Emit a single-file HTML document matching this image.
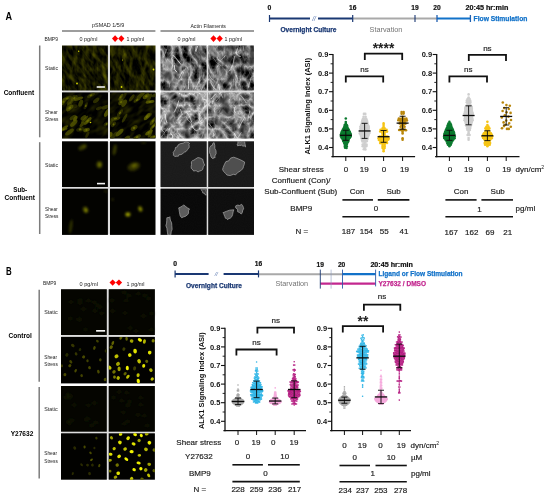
<!DOCTYPE html>
<html lang="en"><head><meta charset="utf-8"><title>Figure</title>
<style>
html,body{margin:0;padding:0;background:#fff;}
svg{display:block;font-family:'Liberation Sans', sans-serif;}
</style></head><body>
<svg width="550" height="498" viewBox="0 0 550 498">
<defs>
<filter id="b03" x="-20%" y="-20%" width="140%" height="140%"><feGaussianBlur stdDeviation="0.3"/></filter>
<filter id="b05" x="-20%" y="-20%" width="140%" height="140%"><feGaussianBlur stdDeviation="0.5"/></filter>
<filter id="b08" x="-20%" y="-20%" width="140%" height="140%"><feGaussianBlur stdDeviation="0.8"/></filter>
<filter id="b15" x="-30%" y="-30%" width="160%" height="160%"><feGaussianBlur stdDeviation="1.5"/></filter>
<filter id="actin" x="0" y="0" width="100%" height="100%" color-interpolation-filters="sRGB">
  <feTurbulence type="turbulence" baseFrequency="0.11 0.075" numOctaves="3" seed="3" result="t"/>
  <feColorMatrix in="t" type="matrix" values="-1.25 0 0 0 0.78  -1.25 0 0 0 0.78  -1.25 0 0 0 0.78  0 0 0 0 1"/><feGaussianBlur stdDeviation="0.35"/>
</filter>
<filter id="actin2" x="0" y="0" width="100%" height="100%" color-interpolation-filters="sRGB">
  <feTurbulence type="turbulence" baseFrequency="0.10 0.085" numOctaves="3" seed="11" result="t"/>
  <feColorMatrix in="t" type="matrix" values="-1.25 0 0 0 0.88  -1.25 0 0 0 0.88  -1.25 0 0 0 0.88  0 0 0 0 1"/><feGaussianBlur stdDeviation="0.35"/>
</filter>
<filter id="gnoise" x="0" y="0" width="100%" height="100%" color-interpolation-filters="sRGB">
  <feTurbulence type="fractalNoise" baseFrequency="0.9" numOctaves="1" seed="5" result="t"/>
  <feColorMatrix in="t" type="matrix" values="0.25 0 0 0 0.0  0.25 0 0 0 0.0  0.25 0 0 0 0.0  0 0 0 0 1"/>
</filter>
<filter id="olive1" x="0" y="0" width="100%" height="100%" color-interpolation-filters="sRGB">
  <feTurbulence type="fractalNoise" baseFrequency="0.08 0.24" numOctaves="3" seed="2" result="t"/>
  <feColorMatrix in="t" type="matrix" values="0.47 0 0 0 -0.19  0.47 0 0 0 -0.188  0 0 0 0 0  0 0 0 0 1"/>
</filter>
<filter id="olive2" x="0" y="0" width="100%" height="100%" color-interpolation-filters="sRGB">
  <feTurbulence type="fractalNoise" baseFrequency="0.09 0.2" numOctaves="2" seed="8" result="t"/>
  <feColorMatrix in="t" type="matrix" values="0.34 0 0 0 -0.14  0.34 0 0 0 -0.138  0 0 0 0 0  0 0 0 0 1"/>
</filter>
</defs>
<rect x="0" y="0" width="550" height="498" fill="#fff"/>
<rect x="62.50" y="46.00" width="92.50" height="91.90" fill="#dedede" />
<rect x="161.00" y="46.00" width="92.50" height="91.90" fill="#dedede" />
<rect x="62.50" y="141.80" width="92.50" height="92.60" fill="#dedede" />
<rect x="161.00" y="141.80" width="92.50" height="92.60" fill="#dedede" />
<rect x="61.50" y="289.70" width="92.90" height="93.20" fill="#dedede" />
<rect x="61.50" y="386.50" width="92.90" height="92.70" fill="#dedede" />
<clipPath id="pa11"><rect x="62.00" y="45.50" width="45.90" height="45.00"/></clipPath>
<g clip-path="url(#pa11)">
<rect x="62.00" y="45.50" width="45.90" height="45.00" fill="#0d0c00" />
<rect x="25.0" y="8.0" width="120" height="120" filter="url(#olive1)" transform="rotate(55 85.0 68.0) translate(-7 -3)"/>
<rect x="25.0" y="8.0" width="120" height="120" filter="url(#olive1)" style="mix-blend-mode:screen" transform="rotate(87 85.0 68.0) translate(4 -7)"/>
</g>
<clipPath id="pa12"><rect x="110.00" y="45.50" width="45.50" height="45.00"/></clipPath>
<g clip-path="url(#pa12)">
<rect x="110.00" y="45.50" width="45.50" height="45.00" fill="#0d0c00" />
<rect x="72.8" y="8.0" width="120" height="120" filter="url(#olive1)" transform="rotate(65 132.8 68.0) translate(0 0)"/>
<rect x="72.8" y="8.0" width="120" height="120" filter="url(#olive1)" style="mix-blend-mode:screen" transform="rotate(97 132.8 68.0) translate(-1 -3)"/>
</g>
<clipPath id="pa21"><rect x="62.00" y="92.50" width="45.90" height="45.90"/></clipPath>
<g clip-path="url(#pa21)">
<rect x="62.00" y="92.50" width="45.90" height="45.90" fill="#0d0c00" />
<rect x="25.0" y="55.5" width="120" height="120" filter="url(#olive2)" transform="rotate(-40 85.0 115.5) translate(7 3)"/>
<g filter="url(#b05)">
<ellipse cx="72.9" cy="117.5" rx="3.8" ry="1.8" fill="#444600" opacity="0.77" transform="rotate(-32 72.9 117.5)"/>
<ellipse cx="83.5" cy="117.8" rx="3.4" ry="1.9" fill="#565800" opacity="0.68" transform="rotate(-38 83.5 117.8)"/>
<ellipse cx="72.6" cy="99.5" rx="5.0" ry="1.7" fill="#444600" opacity="0.57" transform="rotate(-69 72.6 99.5)"/>
<ellipse cx="64.0" cy="128.3" rx="4.8" ry="1.5" fill="#565800" opacity="0.82" transform="rotate(-34 64.0 128.3)"/>
<ellipse cx="80.1" cy="129.3" rx="4.0" ry="2.1" fill="#444600" opacity="0.52" transform="rotate(-17 80.1 129.3)"/>
<ellipse cx="80.1" cy="129.3" rx="1.4" ry="1.1" fill="#787a00" opacity="0.7" transform="rotate(-17 80.1 129.3)"/>
<ellipse cx="73.8" cy="123.3" rx="4.7" ry="2.1" fill="#565800" opacity="0.76" transform="rotate(-45 73.8 123.3)"/>
<ellipse cx="80.7" cy="103.2" rx="3.7" ry="2.1" fill="#3a3c00" opacity="0.95" transform="rotate(-68 80.7 103.2)"/>
<ellipse cx="69.5" cy="132.0" rx="5.1" ry="2.1" fill="#4e5000" opacity="0.78" transform="rotate(-36 69.5 132.0)"/>
<ellipse cx="74.3" cy="98.2" rx="4.1" ry="1.9" fill="#3a3c00" opacity="0.86" transform="rotate(-41 74.3 98.2)"/>
<ellipse cx="74.3" cy="98.2" rx="1.4" ry="0.9" fill="#787a00" opacity="0.7" transform="rotate(-41 74.3 98.2)"/>
<ellipse cx="68.9" cy="106.0" rx="4.7" ry="2.1" fill="#444600" opacity="0.67" transform="rotate(-67 68.9 106.0)"/>
<ellipse cx="87.3" cy="134.8" rx="3.6" ry="1.5" fill="#444600" opacity="0.53" transform="rotate(-68 87.3 134.8)"/>
<ellipse cx="63.4" cy="101.6" rx="3.9" ry="1.8" fill="#444600" opacity="0.94" transform="rotate(-61 63.4 101.6)"/>
<ellipse cx="63.4" cy="101.6" rx="1.4" ry="0.9" fill="#787a00" opacity="0.7" transform="rotate(-61 63.4 101.6)"/>
<ellipse cx="78.5" cy="98.8" rx="4.9" ry="1.6" fill="#565800" opacity="0.79" transform="rotate(-18 78.5 98.8)"/>
<ellipse cx="87.7" cy="121.0" rx="5.1" ry="1.8" fill="#4e5000" opacity="0.92" transform="rotate(-44 87.7 121.0)"/>
<ellipse cx="87.7" cy="121.0" rx="1.8" ry="0.9" fill="#787a00" opacity="0.7" transform="rotate(-44 87.7 121.0)"/>
<ellipse cx="73.9" cy="106.4" rx="3.7" ry="2.0" fill="#3a3c00" opacity="0.51" transform="rotate(-11 73.9 106.4)"/>
<ellipse cx="91.0" cy="95.3" rx="4.4" ry="1.7" fill="#3a3c00" opacity="0.77" transform="rotate(-29 91.0 95.3)"/>
<ellipse cx="91.0" cy="95.3" rx="1.5" ry="0.9" fill="#787a00" opacity="0.7" transform="rotate(-29 91.0 95.3)"/>
<ellipse cx="84.5" cy="119.6" rx="5.1" ry="1.3" fill="#565800" opacity="0.63" transform="rotate(-48 84.5 119.6)"/>
<ellipse cx="70.1" cy="101.0" rx="4.7" ry="2.1" fill="#565800" opacity="0.55" transform="rotate(-54 70.1 101.0)"/>
<ellipse cx="106.6" cy="123.9" rx="3.3" ry="1.8" fill="#3a3c00" opacity="0.61" transform="rotate(-31 106.6 123.9)"/>
<ellipse cx="106.6" cy="123.9" rx="1.2" ry="0.9" fill="#787a00" opacity="0.7" transform="rotate(-31 106.6 123.9)"/>
<ellipse cx="82.0" cy="124.5" rx="3.2" ry="1.6" fill="#4e5000" opacity="0.70" transform="rotate(-50 82.0 124.5)"/>
<ellipse cx="69.8" cy="108.0" rx="4.4" ry="2.1" fill="#4e5000" opacity="0.85" transform="rotate(-43 69.8 108.0)"/>
<ellipse cx="69.8" cy="108.0" rx="1.6" ry="1.0" fill="#787a00" opacity="0.7" transform="rotate(-43 69.8 108.0)"/>
<ellipse cx="106.0" cy="107.0" rx="4.8" ry="1.8" fill="#3a3c00" opacity="0.86" transform="rotate(-18 106.0 107.0)"/>
<ellipse cx="99.0" cy="108.3" rx="3.3" ry="1.6" fill="#3a3c00" opacity="0.71" transform="rotate(-22 99.0 108.3)"/>
<ellipse cx="75.3" cy="118.6" rx="3.1" ry="1.7" fill="#565800" opacity="0.92" transform="rotate(-58 75.3 118.6)"/>
<ellipse cx="107.3" cy="112.4" rx="5.1" ry="2.1" fill="#565800" opacity="0.88" transform="rotate(-57 107.3 112.4)"/>
<ellipse cx="85.8" cy="105.8" rx="3.8" ry="1.5" fill="#3a3c00" opacity="0.55" transform="rotate(-66 85.8 105.8)"/>
<ellipse cx="85.8" cy="105.8" rx="1.3" ry="0.8" fill="#787a00" opacity="0.7" transform="rotate(-66 85.8 105.8)"/>
<ellipse cx="63.6" cy="129.4" rx="4.1" ry="1.5" fill="#565800" opacity="0.76" transform="rotate(-17 63.6 129.4)"/>
<ellipse cx="63.6" cy="129.4" rx="1.4" ry="0.7" fill="#787a00" opacity="0.7" transform="rotate(-17 63.6 129.4)"/>
<ellipse cx="96.2" cy="100.4" rx="3.7" ry="1.9" fill="#565800" opacity="0.52" transform="rotate(-39 96.2 100.4)"/>
<ellipse cx="67.2" cy="98.3" rx="5.1" ry="1.8" fill="#444600" opacity="0.66" transform="rotate(-21 67.2 98.3)"/>
<ellipse cx="67.2" cy="98.3" rx="1.8" ry="0.9" fill="#787a00" opacity="0.7" transform="rotate(-21 67.2 98.3)"/>
<ellipse cx="86.5" cy="130.0" rx="3.4" ry="2.0" fill="#4e5000" opacity="0.87" transform="rotate(-15 86.5 130.0)"/>
<ellipse cx="86.5" cy="130.0" rx="1.2" ry="1.0" fill="#787a00" opacity="0.7" transform="rotate(-15 86.5 130.0)"/>
</g>
</g>
<clipPath id="pa22"><rect x="110.00" y="92.50" width="45.50" height="45.90"/></clipPath>
<g clip-path="url(#pa22)">
<rect x="110.00" y="92.50" width="45.50" height="45.90" fill="#0d0c00" />
<rect x="72.8" y="55.5" width="120" height="120" filter="url(#olive2)" transform="rotate(-35 132.8 115.5) translate(14 6)"/>
<g filter="url(#b05)">
<ellipse cx="120.7" cy="97.2" rx="3.9" ry="1.4" fill="#565800" opacity="0.75" transform="rotate(-61 120.7 97.2)"/>
<ellipse cx="120.7" cy="97.2" rx="1.4" ry="0.7" fill="#787a00" opacity="0.7" transform="rotate(-61 120.7 97.2)"/>
<ellipse cx="155.0" cy="95.2" rx="4.1" ry="1.6" fill="#444600" opacity="0.62" transform="rotate(-18 155.0 95.2)"/>
<ellipse cx="111.2" cy="121.9" rx="3.6" ry="1.5" fill="#3a3c00" opacity="0.78" transform="rotate(-55 111.2 121.9)"/>
<ellipse cx="148.9" cy="132.9" rx="3.2" ry="1.8" fill="#4e5000" opacity="0.58" transform="rotate(-25 148.9 132.9)"/>
<ellipse cx="148.9" cy="132.9" rx="1.1" ry="0.9" fill="#787a00" opacity="0.7" transform="rotate(-25 148.9 132.9)"/>
<ellipse cx="114.1" cy="135.4" rx="4.9" ry="1.8" fill="#3a3c00" opacity="0.76" transform="rotate(-47 114.1 135.4)"/>
<ellipse cx="148.6" cy="115.8" rx="3.9" ry="1.8" fill="#4e5000" opacity="0.60" transform="rotate(-39 148.6 115.8)"/>
<ellipse cx="148.6" cy="115.8" rx="1.4" ry="0.9" fill="#787a00" opacity="0.7" transform="rotate(-39 148.6 115.8)"/>
<ellipse cx="146.3" cy="96.2" rx="4.0" ry="2.2" fill="#565800" opacity="0.82" transform="rotate(-34 146.3 96.2)"/>
<ellipse cx="146.3" cy="96.2" rx="1.4" ry="1.1" fill="#787a00" opacity="0.7" transform="rotate(-34 146.3 96.2)"/>
<ellipse cx="140.7" cy="95.5" rx="5.0" ry="1.9" fill="#4e5000" opacity="0.66" transform="rotate(-39 140.7 95.5)"/>
<ellipse cx="124.6" cy="118.1" rx="5.0" ry="1.4" fill="#4e5000" opacity="0.62" transform="rotate(-61 124.6 118.1)"/>
<ellipse cx="149.2" cy="98.1" rx="5.1" ry="1.6" fill="#3a3c00" opacity="0.81" transform="rotate(-63 149.2 98.1)"/>
<ellipse cx="153.4" cy="126.2" rx="5.1" ry="1.3" fill="#4e5000" opacity="0.85" transform="rotate(-48 153.4 126.2)"/>
<ellipse cx="153.4" cy="126.2" rx="1.8" ry="0.7" fill="#787a00" opacity="0.7" transform="rotate(-48 153.4 126.2)"/>
<ellipse cx="152.9" cy="121.0" rx="4.8" ry="1.6" fill="#565800" opacity="0.63" transform="rotate(-54 152.9 121.0)"/>
<ellipse cx="152.9" cy="121.0" rx="1.7" ry="0.8" fill="#787a00" opacity="0.7" transform="rotate(-54 152.9 121.0)"/>
<ellipse cx="137.2" cy="99.8" rx="4.3" ry="1.6" fill="#3a3c00" opacity="0.85" transform="rotate(-38 137.2 99.8)"/>
<ellipse cx="137.2" cy="99.8" rx="1.5" ry="0.8" fill="#787a00" opacity="0.7" transform="rotate(-38 137.2 99.8)"/>
<ellipse cx="123.2" cy="97.0" rx="5.2" ry="1.7" fill="#444600" opacity="0.53" transform="rotate(-53 123.2 97.0)"/>
<ellipse cx="137.1" cy="137.1" rx="4.3" ry="1.8" fill="#3a3c00" opacity="0.95" transform="rotate(-30 137.1 137.1)"/>
<ellipse cx="137.1" cy="137.1" rx="1.5" ry="0.9" fill="#787a00" opacity="0.7" transform="rotate(-30 137.1 137.1)"/>
<ellipse cx="134.1" cy="128.0" rx="3.9" ry="2.2" fill="#4e5000" opacity="0.70" transform="rotate(-36 134.1 128.0)"/>
<ellipse cx="134.1" cy="128.0" rx="1.4" ry="1.1" fill="#787a00" opacity="0.7" transform="rotate(-36 134.1 128.0)"/>
<ellipse cx="120.0" cy="112.9" rx="4.4" ry="1.7" fill="#4e5000" opacity="0.51" transform="rotate(-52 120.0 112.9)"/>
<ellipse cx="120.0" cy="112.9" rx="1.5" ry="0.8" fill="#787a00" opacity="0.7" transform="rotate(-52 120.0 112.9)"/>
<ellipse cx="121.0" cy="102.1" rx="3.5" ry="2.1" fill="#444600" opacity="0.90" transform="rotate(-56 121.0 102.1)"/>
<ellipse cx="121.0" cy="102.1" rx="1.2" ry="1.0" fill="#787a00" opacity="0.7" transform="rotate(-56 121.0 102.1)"/>
<ellipse cx="115.3" cy="118.6" rx="5.1" ry="1.9" fill="#444600" opacity="0.72" transform="rotate(-13 115.3 118.6)"/>
<ellipse cx="115.3" cy="118.6" rx="1.8" ry="0.9" fill="#787a00" opacity="0.7" transform="rotate(-13 115.3 118.6)"/>
<ellipse cx="119.6" cy="132.6" rx="5.0" ry="2.1" fill="#565800" opacity="0.86" transform="rotate(-45 119.6 132.6)"/>
<ellipse cx="147.1" cy="116.7" rx="4.4" ry="1.9" fill="#565800" opacity="0.93" transform="rotate(-49 147.1 116.7)"/>
<ellipse cx="147.1" cy="116.7" rx="1.6" ry="1.0" fill="#787a00" opacity="0.7" transform="rotate(-49 147.1 116.7)"/>
<ellipse cx="154.2" cy="136.6" rx="4.5" ry="1.3" fill="#4e5000" opacity="0.85" transform="rotate(-11 154.2 136.6)"/>
<ellipse cx="154.2" cy="136.6" rx="1.6" ry="0.7" fill="#787a00" opacity="0.7" transform="rotate(-11 154.2 136.6)"/>
<ellipse cx="149.0" cy="132.4" rx="4.5" ry="1.7" fill="#565800" opacity="0.92" transform="rotate(-37 149.0 132.4)"/>
<ellipse cx="149.0" cy="132.4" rx="1.6" ry="0.9" fill="#787a00" opacity="0.7" transform="rotate(-37 149.0 132.4)"/>
<ellipse cx="110.1" cy="134.8" rx="3.0" ry="2.1" fill="#565800" opacity="0.90" transform="rotate(-58 110.1 134.8)"/>
<ellipse cx="150.0" cy="101.8" rx="4.5" ry="1.6" fill="#565800" opacity="0.91" transform="rotate(-11 150.0 101.8)"/>
<ellipse cx="150.0" cy="101.8" rx="1.6" ry="0.8" fill="#787a00" opacity="0.7" transform="rotate(-11 150.0 101.8)"/>
<ellipse cx="113.6" cy="124.4" rx="3.2" ry="1.8" fill="#4e5000" opacity="0.52" transform="rotate(-50 113.6 124.4)"/>
<ellipse cx="113.6" cy="124.4" rx="1.1" ry="0.9" fill="#787a00" opacity="0.7" transform="rotate(-50 113.6 124.4)"/>
<ellipse cx="150.0" cy="134.0" rx="3.7" ry="1.6" fill="#565800" opacity="0.67" transform="rotate(-61 150.0 134.0)"/>
<ellipse cx="124.2" cy="103.2" rx="4.1" ry="2.2" fill="#444600" opacity="0.91" transform="rotate(-59 124.2 103.2)"/>
<ellipse cx="126.6" cy="138.4" rx="3.9" ry="1.9" fill="#4e5000" opacity="0.79" transform="rotate(-38 126.6 138.4)"/>
<ellipse cx="131.8" cy="97.9" rx="4.2" ry="1.6" fill="#4e5000" opacity="0.65" transform="rotate(-55 131.8 97.9)"/>
</g>
</g>
<circle cx="78.7" cy="51.3" r="0.7" fill="#d6d800" filter="url(#b03)"/>
<circle cx="77.0" cy="83.5" r="0.9" fill="#d6d800" filter="url(#b03)"/>
<circle cx="121.5" cy="87.0" r="0.9" fill="#d6d800" filter="url(#b03)"/>
<circle cx="153.5" cy="69.5" r="0.9" fill="#d6d800" filter="url(#b03)"/>
<circle cx="122.5" cy="60.0" r="0.5" fill="#d6d800" filter="url(#b03)"/>
<circle cx="90.5" cy="122.5" r="0.8" fill="#d6d800" filter="url(#b03)"/>
<clipPath id="aa11"><rect x="160.50" y="45.50" width="46.20" height="45.00"/></clipPath>
<g clip-path="url(#aa11)">
<rect x="160.50" y="45.50" width="46.20" height="45.00" fill="#666" filter="url(#actin)"/>
<g filter="url(#b08)">
<ellipse cx="168.1" cy="76.5" rx="6.2" ry="2.8" fill="#202020" fill-opacity="0.58" stroke="#fff" stroke-opacity="0.33" stroke-width="0.70" transform="rotate(54 168.1 76.5)"/>
<ellipse cx="177.6" cy="71.8" rx="4.2" ry="3.3" fill="#202020" fill-opacity="0.55" stroke="#fff" stroke-opacity="0.60" stroke-width="1.09" transform="rotate(54 177.6 71.8)"/>
<ellipse cx="179.3" cy="65.4" rx="7.3" ry="2.9" fill="#202020" fill-opacity="0.41" stroke="#fff" stroke-opacity="0.51" stroke-width="0.74" transform="rotate(121 179.3 65.4)"/>
<ellipse cx="197.9" cy="46.4" rx="4.6" ry="3.2" fill="#202020" fill-opacity="0.56" stroke="#fff" stroke-opacity="0.54" stroke-width="0.74" transform="rotate(61 197.9 46.4)"/>
<ellipse cx="169.6" cy="75.8" rx="6.8" ry="3.1" fill="#202020" fill-opacity="0.44" stroke="#fff" stroke-opacity="0.42" stroke-width="1.11" transform="rotate(83 169.6 75.8)"/>
<ellipse cx="169.8" cy="87.0" rx="7.1" ry="2.7" fill="#202020" fill-opacity="0.51" stroke="#fff" stroke-opacity="0.42" stroke-width="0.83" transform="rotate(113 169.8 87.0)"/>
<ellipse cx="199.0" cy="52.7" rx="6.5" ry="3.6" fill="#202020" fill-opacity="0.60" stroke="#fff" stroke-opacity="0.36" stroke-width="1.19" transform="rotate(45 199.0 52.7)"/>
<ellipse cx="165.7" cy="75.6" rx="6.2" ry="3.3" fill="#202020" fill-opacity="0.49" stroke="#fff" stroke-opacity="0.31" stroke-width="1.16" transform="rotate(125 165.7 75.6)"/>
<ellipse cx="168.5" cy="64.8" rx="4.6" ry="2.1" fill="#202020" fill-opacity="0.54" stroke="#fff" stroke-opacity="0.60" stroke-width="1.18" transform="rotate(66 168.5 64.8)"/>
<ellipse cx="187.8" cy="85.2" rx="5.7" ry="2.6" fill="#202020" fill-opacity="0.60" stroke="#fff" stroke-opacity="0.40" stroke-width="0.90" transform="rotate(55 187.8 85.2)"/>
<ellipse cx="194.8" cy="48.1" rx="5.0" ry="3.4" fill="#202020" fill-opacity="0.46" stroke="#fff" stroke-opacity="0.27" stroke-width="0.87" transform="rotate(71 194.8 48.1)"/>
</g>
<g filter="url(#b03)" stroke-linecap="round" fill="none">
<path d="M203.4 84.8 Q200.2 91.6 200.7 94.7" stroke="#fff" stroke-width="0.61" opacity="0.78"/>
<path d="M199.4 81.1 Q196.5 85.9 195.1 89.2" stroke="#fff" stroke-width="0.77" opacity="0.52"/>
<path d="M196.5 41.1 Q196.6 45.4 195.5 50.8" stroke="#fff" stroke-width="0.93" opacity="0.66"/>
<path d="M171.5 58.0 Q172.0 64.2 173.3 69.5" stroke="#fff" stroke-width="0.59" opacity="0.69"/>
<path d="M197.7 45.9 Q196.4 49.1 196.0 51.5" stroke="#fff" stroke-width="0.94" opacity="0.68"/>
<path d="M168.0 81.0 Q170.1 82.9 169.7 87.2" stroke="#fff" stroke-width="0.50" opacity="0.61"/>
<path d="M164.2 76.9 Q164.4 78.9 162.6 82.9" stroke="#fff" stroke-width="0.62" opacity="0.47"/>
<path d="M192.9 84.8 Q194.2 89.9 195.2 95.3" stroke="#fff" stroke-width="0.53" opacity="0.67"/>
<path d="M174.3 65.5 Q173.7 70.5 176.7 72.1" stroke="#fff" stroke-width="0.91" opacity="0.84"/>
<path d="M173.0 55.3 Q177.4 59.3 180.8 64.3" stroke="#fff" stroke-width="0.90" opacity="0.84"/>
<path d="M185.8 83.7 Q185.3 86.6 181.9 92.6" stroke="#fff" stroke-width="0.54" opacity="0.41"/>
<path d="M192.3 44.2 Q190.9 47.6 189.8 50.6" stroke="#fff" stroke-width="0.62" opacity="0.57"/>
<path d="M185.4 68.6 Q182.5 74.4 180.6 79.3" stroke="#fff" stroke-width="0.80" opacity="0.50"/>
<path d="M183.6 69.9 Q180.3 75.0 179.0 78.0" stroke="#fff" stroke-width="0.96" opacity="0.57"/>
<path d="M189.4 76.8 Q187.7 83.8 188.4 88.5" stroke="#fff" stroke-width="0.94" opacity="0.72"/>
<path d="M166.2 49.3 Q166.6 51.5 163.2 57.5" stroke="#fff" stroke-width="1.00" opacity="0.47"/>
</g>
</g>
<clipPath id="aa12"><rect x="208.20" y="45.50" width="45.80" height="45.00"/></clipPath>
<g clip-path="url(#aa12)">
<rect x="208.20" y="45.50" width="45.80" height="45.00" fill="#666" filter="url(#actin)"/>
<rect x="208.20" y="45.50" width="45.80" height="45.00" fill="#000" opacity="0.04"/>
<g filter="url(#b08)">
<ellipse cx="252.1" cy="51.8" rx="4.1" ry="3.6" fill="#202020" fill-opacity="0.68" stroke="#fff" stroke-opacity="0.28" stroke-width="0.83" transform="rotate(100 252.1 51.8)"/>
<ellipse cx="210.5" cy="89.4" rx="4.6" ry="2.9" fill="#202020" fill-opacity="0.60" stroke="#fff" stroke-opacity="0.26" stroke-width="0.83" transform="rotate(74 210.5 89.4)"/>
<ellipse cx="227.5" cy="53.6" rx="4.4" ry="2.8" fill="#202020" fill-opacity="0.64" stroke="#fff" stroke-opacity="0.46" stroke-width="0.83" transform="rotate(74 227.5 53.6)"/>
<ellipse cx="252.0" cy="59.6" rx="6.7" ry="3.5" fill="#202020" fill-opacity="0.63" stroke="#fff" stroke-opacity="0.31" stroke-width="0.72" transform="rotate(101 252.0 59.6)"/>
<ellipse cx="232.6" cy="47.0" rx="7.2" ry="2.8" fill="#202020" fill-opacity="0.51" stroke="#fff" stroke-opacity="0.38" stroke-width="0.99" transform="rotate(66 232.6 47.0)"/>
<ellipse cx="221.8" cy="72.3" rx="5.9" ry="2.7" fill="#202020" fill-opacity="0.43" stroke="#fff" stroke-opacity="0.41" stroke-width="0.75" transform="rotate(72 221.8 72.3)"/>
<ellipse cx="244.0" cy="48.1" rx="6.9" ry="2.3" fill="#202020" fill-opacity="0.71" stroke="#fff" stroke-opacity="0.31" stroke-width="0.97" transform="rotate(95 244.0 48.1)"/>
<ellipse cx="224.2" cy="60.3" rx="5.3" ry="2.3" fill="#202020" fill-opacity="0.63" stroke="#fff" stroke-opacity="0.29" stroke-width="0.80" transform="rotate(46 224.2 60.3)"/>
<ellipse cx="213.8" cy="52.1" rx="6.1" ry="2.1" fill="#202020" fill-opacity="0.60" stroke="#fff" stroke-opacity="0.60" stroke-width="1.07" transform="rotate(50 213.8 52.1)"/>
<ellipse cx="229.9" cy="78.2" rx="6.3" ry="2.6" fill="#202020" fill-opacity="0.73" stroke="#fff" stroke-opacity="0.26" stroke-width="0.95" transform="rotate(128 229.9 78.2)"/>
<ellipse cx="237.3" cy="60.8" rx="4.6" ry="3.1" fill="#202020" fill-opacity="0.43" stroke="#fff" stroke-opacity="0.32" stroke-width="1.04" transform="rotate(62 237.3 60.8)"/>
</g>
<g filter="url(#b03)" stroke-linecap="round" fill="none">
<path d="M250.9 66.4 Q254.0 69.2 256.5 72.7" stroke="#fff" stroke-width="0.81" opacity="0.58"/>
<path d="M210.9 82.9 Q212.4 87.5 216.2 89.8" stroke="#fff" stroke-width="0.88" opacity="0.69"/>
<path d="M208.2 73.2 Q209.5 77.4 212.7 79.8" stroke="#fff" stroke-width="0.53" opacity="0.70"/>
<path d="M217.4 81.2 Q213.6 87.4 213.4 89.8" stroke="#fff" stroke-width="0.74" opacity="0.41"/>
<path d="M242.8 41.0 Q243.1 45.9 243.8 50.4" stroke="#fff" stroke-width="0.71" opacity="0.56"/>
<path d="M218.6 84.5 Q218.8 90.5 221.5 93.9" stroke="#fff" stroke-width="0.90" opacity="0.80"/>
<path d="M234.6 56.5 Q233.6 61.7 232.3 67.1" stroke="#fff" stroke-width="0.67" opacity="0.76"/>
<path d="M232.2 65.3 Q232.4 66.5 229.7 70.7" stroke="#fff" stroke-width="0.88" opacity="0.57"/>
<path d="M236.1 52.0 Q236.5 56.1 240.3 56.5" stroke="#fff" stroke-width="0.76" opacity="0.78"/>
<path d="M213.1 57.7 Q215.7 63.3 221.3 65.9" stroke="#fff" stroke-width="0.75" opacity="0.42"/>
<path d="M238.3 44.1 Q238.9 46.7 236.0 52.8" stroke="#fff" stroke-width="0.95" opacity="0.59"/>
<path d="M236.3 75.2 Q238.3 77.2 237.1 82.4" stroke="#fff" stroke-width="0.90" opacity="0.69"/>
<path d="M225.2 55.7 Q224.5 56.6 220.7 60.6" stroke="#fff" stroke-width="0.97" opacity="0.45"/>
<path d="M251.4 77.1 Q249.2 83.2 248.1 88.1" stroke="#fff" stroke-width="0.91" opacity="0.54"/>
<path d="M233.7 79.2 Q233.0 85.0 232.3 90.8" stroke="#fff" stroke-width="0.61" opacity="0.46"/>
<path d="M217.1 57.3 Q217.6 61.0 221.2 61.7" stroke="#fff" stroke-width="0.74" opacity="0.76"/>
</g>
</g>
<clipPath id="aa21"><rect x="160.50" y="92.50" width="46.20" height="45.90"/></clipPath>
<g clip-path="url(#aa21)">
<rect x="160.50" y="92.50" width="46.20" height="45.90" fill="#666" filter="url(#actin2)"/>
<g filter="url(#b08)">
<ellipse cx="203.2" cy="136.0" rx="7.1" ry="2.1" fill="#202020" fill-opacity="0.45" stroke="#fff" stroke-opacity="0.32" stroke-width="0.92" transform="rotate(112 203.2 136.0)"/>
<ellipse cx="170.7" cy="113.4" rx="4.1" ry="2.1" fill="#202020" fill-opacity="0.53" stroke="#fff" stroke-opacity="0.27" stroke-width="1.09" transform="rotate(112 170.7 113.4)"/>
<ellipse cx="187.7" cy="122.7" rx="6.2" ry="3.6" fill="#202020" fill-opacity="0.74" stroke="#fff" stroke-opacity="0.35" stroke-width="1.19" transform="rotate(125 187.7 122.7)"/>
<ellipse cx="187.0" cy="129.9" rx="4.6" ry="2.8" fill="#202020" fill-opacity="0.46" stroke="#fff" stroke-opacity="0.31" stroke-width="0.86" transform="rotate(77 187.0 129.9)"/>
<ellipse cx="198.2" cy="101.5" rx="4.4" ry="2.2" fill="#202020" fill-opacity="0.69" stroke="#fff" stroke-opacity="0.37" stroke-width="0.88" transform="rotate(106 198.2 101.5)"/>
<ellipse cx="173.8" cy="106.5" rx="6.7" ry="2.9" fill="#202020" fill-opacity="0.65" stroke="#fff" stroke-opacity="0.54" stroke-width="0.82" transform="rotate(55 173.8 106.5)"/>
<ellipse cx="185.7" cy="134.7" rx="6.1" ry="3.5" fill="#202020" fill-opacity="0.62" stroke="#fff" stroke-opacity="0.39" stroke-width="0.78" transform="rotate(52 185.7 134.7)"/>
<ellipse cx="170.9" cy="93.1" rx="4.8" ry="3.2" fill="#202020" fill-opacity="0.66" stroke="#fff" stroke-opacity="0.37" stroke-width="1.19" transform="rotate(133 170.9 93.1)"/>
<ellipse cx="177.9" cy="101.4" rx="4.3" ry="2.7" fill="#202020" fill-opacity="0.48" stroke="#fff" stroke-opacity="0.29" stroke-width="0.96" transform="rotate(132 177.9 101.4)"/>
<ellipse cx="168.3" cy="117.5" rx="6.8" ry="2.4" fill="#202020" fill-opacity="0.67" stroke="#fff" stroke-opacity="0.48" stroke-width="0.91" transform="rotate(131 168.3 117.5)"/>
<ellipse cx="168.1" cy="120.8" rx="6.8" ry="2.1" fill="#202020" fill-opacity="0.59" stroke="#fff" stroke-opacity="0.40" stroke-width="0.85" transform="rotate(83 168.1 120.8)"/>
</g>
<g filter="url(#b03)" stroke-linecap="round" fill="none">
<path d="M198.8 118.3 Q199.6 121.2 201.7 122.7" stroke="#fff" stroke-width="0.78" opacity="0.78"/>
<path d="M170.9 133.6 Q173.5 134.6 173.0 138.7" stroke="#fff" stroke-width="0.98" opacity="0.76"/>
<path d="M208.7 102.3 Q205.0 106.2 203.6 107.7" stroke="#fff" stroke-width="0.84" opacity="0.48"/>
<path d="M180.4 109.2 Q181.4 111.8 182.1 114.6" stroke="#fff" stroke-width="0.65" opacity="0.80"/>
<path d="M167.7 128.3 Q164.9 132.3 161.2 137.2" stroke="#fff" stroke-width="0.65" opacity="0.54"/>
<path d="M178.7 100.9 Q178.2 104.8 174.6 111.9" stroke="#fff" stroke-width="0.83" opacity="0.74"/>
<path d="M198.9 113.0 Q201.3 117.2 203.7 121.5" stroke="#fff" stroke-width="0.56" opacity="0.61"/>
<path d="M165.3 114.5 Q165.1 119.5 166.8 122.5" stroke="#fff" stroke-width="0.99" opacity="0.69"/>
<path d="M160.7 126.6 Q161.2 130.8 164.2 132.5" stroke="#fff" stroke-width="0.75" opacity="0.67"/>
<path d="M175.8 133.3 Q179.1 135.9 178.6 142.2" stroke="#fff" stroke-width="0.96" opacity="0.48"/>
<path d="M162.6 117.8 Q161.7 120.3 160.2 123.3" stroke="#fff" stroke-width="0.89" opacity="0.77"/>
<path d="M186.0 116.8 Q187.2 120.8 190.7 122.5" stroke="#fff" stroke-width="0.71" opacity="0.54"/>
<path d="M186.6 112.1 Q190.1 116.0 191.7 121.9" stroke="#fff" stroke-width="0.96" opacity="0.54"/>
<path d="M203.5 132.0 Q202.8 136.2 199.4 143.1" stroke="#fff" stroke-width="0.52" opacity="0.58"/>
<path d="M191.4 123.8 Q192.1 129.1 196.6 130.8" stroke="#fff" stroke-width="0.87" opacity="0.61"/>
<path d="M168.3 131.5 Q167.7 135.5 167.5 139.0" stroke="#fff" stroke-width="0.59" opacity="0.77"/>
</g>
</g>
<clipPath id="aa22"><rect x="208.20" y="92.50" width="45.80" height="45.90"/></clipPath>
<g clip-path="url(#aa22)">
<rect x="208.20" y="92.50" width="45.80" height="45.90" fill="#666" filter="url(#actin2)"/>
<rect x="208.20" y="92.50" width="45.80" height="45.90" fill="#000" opacity="0.1"/>
<g filter="url(#b08)">
<ellipse cx="240.8" cy="131.0" rx="4.6" ry="3.6" fill="#202020" fill-opacity="0.65" stroke="#fff" stroke-opacity="0.60" stroke-width="1.10" transform="rotate(53 240.8 131.0)"/>
<ellipse cx="221.2" cy="134.8" rx="4.0" ry="2.7" fill="#202020" fill-opacity="0.58" stroke="#fff" stroke-opacity="0.59" stroke-width="1.07" transform="rotate(74 221.2 134.8)"/>
<ellipse cx="228.5" cy="106.5" rx="7.3" ry="2.1" fill="#202020" fill-opacity="0.64" stroke="#fff" stroke-opacity="0.59" stroke-width="0.74" transform="rotate(75 228.5 106.5)"/>
<ellipse cx="237.9" cy="122.8" rx="4.1" ry="2.3" fill="#202020" fill-opacity="0.43" stroke="#fff" stroke-opacity="0.48" stroke-width="1.10" transform="rotate(125 237.9 122.8)"/>
<ellipse cx="245.7" cy="138.0" rx="7.0" ry="2.4" fill="#202020" fill-opacity="0.60" stroke="#fff" stroke-opacity="0.52" stroke-width="1.03" transform="rotate(75 245.7 138.0)"/>
<ellipse cx="223.1" cy="101.6" rx="6.1" ry="3.3" fill="#202020" fill-opacity="0.59" stroke="#fff" stroke-opacity="0.33" stroke-width="1.02" transform="rotate(64 223.1 101.6)"/>
<ellipse cx="220.2" cy="122.1" rx="6.3" ry="2.6" fill="#202020" fill-opacity="0.53" stroke="#fff" stroke-opacity="0.36" stroke-width="1.09" transform="rotate(111 220.2 122.1)"/>
<ellipse cx="242.2" cy="130.4" rx="5.2" ry="3.4" fill="#202020" fill-opacity="0.65" stroke="#fff" stroke-opacity="0.40" stroke-width="1.09" transform="rotate(96 242.2 130.4)"/>
<ellipse cx="212.3" cy="96.2" rx="5.1" ry="2.7" fill="#202020" fill-opacity="0.70" stroke="#fff" stroke-opacity="0.54" stroke-width="0.84" transform="rotate(115 212.3 96.2)"/>
<ellipse cx="225.2" cy="99.2" rx="6.6" ry="2.1" fill="#202020" fill-opacity="0.72" stroke="#fff" stroke-opacity="0.26" stroke-width="1.02" transform="rotate(127 225.2 99.2)"/>
<ellipse cx="226.5" cy="110.5" rx="5.0" ry="2.7" fill="#202020" fill-opacity="0.54" stroke="#fff" stroke-opacity="0.26" stroke-width="0.93" transform="rotate(72 226.5 110.5)"/>
</g>
<g filter="url(#b03)" stroke-linecap="round" fill="none">
<path d="M209.1 123.5 Q213.1 126.7 213.5 133.5" stroke="#fff" stroke-width="0.57" opacity="0.77"/>
<path d="M215.7 93.9 Q211.6 98.1 211.1 98.7" stroke="#fff" stroke-width="0.95" opacity="0.76"/>
<path d="M213.4 97.9 Q213.0 100.8 212.5 103.9" stroke="#fff" stroke-width="0.65" opacity="0.71"/>
<path d="M249.7 109.9 Q249.7 114.3 250.8 117.4" stroke="#fff" stroke-width="0.60" opacity="0.47"/>
<path d="M213.6 133.5 Q213.2 137.9 214.8 140.3" stroke="#fff" stroke-width="0.65" opacity="0.74"/>
<path d="M234.2 133.2 Q235.6 136.4 237.9 138.7" stroke="#fff" stroke-width="0.81" opacity="0.76"/>
<path d="M234.3 134.0 Q233.7 139.4 235.8 142.1" stroke="#fff" stroke-width="0.59" opacity="0.77"/>
<path d="M210.7 101.5 Q207.8 106.1 206.8 108.8" stroke="#fff" stroke-width="0.65" opacity="0.61"/>
<path d="M219.8 90.4 Q220.6 94.4 222.5 97.3" stroke="#fff" stroke-width="0.61" opacity="0.77"/>
<path d="M253.3 112.5 Q251.3 116.4 250.4 119.2" stroke="#fff" stroke-width="0.72" opacity="0.65"/>
<path d="M221.9 94.2 Q219.6 96.9 216.3 100.8" stroke="#fff" stroke-width="0.77" opacity="0.43"/>
<path d="M241.2 132.5 Q236.9 138.9 235.6 142.4" stroke="#fff" stroke-width="0.56" opacity="0.77"/>
<path d="M249.7 111.7 Q247.9 117.1 247.8 120.8" stroke="#fff" stroke-width="0.94" opacity="0.53"/>
<path d="M234.2 107.5 Q233.7 111.0 235.2 112.5" stroke="#fff" stroke-width="0.89" opacity="0.83"/>
<path d="M240.7 95.3 Q243.7 98.5 245.9 102.4" stroke="#fff" stroke-width="0.83" opacity="0.55"/>
<path d="M244.5 117.6 Q240.4 124.2 238.9 128.1" stroke="#fff" stroke-width="0.71" opacity="0.84"/>
</g>
</g>
<rect x="62.00" y="141.30" width="45.90" height="45.70" fill="#030300" />
<rect x="110.00" y="141.30" width="45.50" height="45.70" fill="#030300" />
<rect x="62.00" y="188.70" width="45.90" height="46.20" fill="#030300" />
<rect x="110.00" y="188.70" width="45.50" height="46.20" fill="#030300" />
<clipPath id="pasub"><rect x="62.00" y="141.30" width="93.50" height="93.60"/></clipPath>
<g clip-path="url(#pasub)">
<clipPath id="pasub02"><rect x="62.00" y="141.30" width="45.90" height="45.70"/></clipPath>
<clipPath id="pasub03"><rect x="62.00" y="188.70" width="45.90" height="46.20"/></clipPath>
<clipPath id="pasub12"><rect x="110.00" y="141.30" width="45.50" height="45.70"/></clipPath>
<clipPath id="pasub13"><rect x="110.00" y="188.70" width="45.50" height="46.20"/></clipPath>
<g clip-path="url(#pasub02)"><g filter="url(#b08)">
<ellipse cx="82.6" cy="147.3" rx="4.6" ry="2.6" fill="#4c4e00" opacity="0.65" transform="rotate(-30 82.6 147.3)"/>
<ellipse cx="84.0" cy="146.5" rx="2.0" ry="1.2" fill="#606200" opacity="0.58" transform="rotate(-30 84.0 146.5)"/>
<ellipse cx="99.4" cy="164.6" rx="3.0" ry="3.6" fill="#5c5e00" opacity="0.68" transform="rotate(0 99.4 164.6)"/>
<ellipse cx="99.6" cy="164.8" rx="1.3" ry="1.7" fill="#989a00" opacity="0.65" transform="rotate(0 99.6 164.8)"/>
</g></g>
<g clip-path="url(#pasub03)"><g filter="url(#b08)">
<ellipse cx="85.6" cy="209.8" rx="2.6" ry="3.4" fill="#686a00" opacity="0.68" transform="rotate(-25 85.6 209.8)"/>
<ellipse cx="86.0" cy="210.2" rx="1.2" ry="1.6" fill="#a6a800" opacity="0.65" transform="rotate(-25 86.0 210.2)"/>
<ellipse cx="70.8" cy="226.5" rx="1.6" ry="7.0" fill="#444600" opacity="0.65" transform="rotate(8 70.8 226.5)"/>
<ellipse cx="105.6" cy="191.2" rx="1.6" ry="1.2" fill="#343600" opacity="0.58" transform="rotate(0 105.6 191.2)"/>
</g></g>
<g clip-path="url(#pasub12)"><g filter="url(#b08)">
<ellipse cx="114.7" cy="149.8" rx="1.8" ry="5.5" fill="#505200" opacity="0.65" transform="rotate(10 114.7 149.8)"/>
<ellipse cx="133.8" cy="166.5" rx="6.5" ry="4.2" fill="#484a00" opacity="0.65" transform="rotate(-20 133.8 166.5)"/>
<ellipse cx="134.2" cy="165.6" rx="2.8" ry="1.8" fill="#7b7d00" opacity="0.65" transform="rotate(-20 134.2 165.6)"/>
<ellipse cx="143.6" cy="142.8" rx="2.5" ry="1.2" fill="#343600" opacity="0.58" transform="rotate(0 143.6 142.8)"/>
</g></g>
<g clip-path="url(#pasub13)"><g filter="url(#b08)">
<ellipse cx="127.9" cy="214.4" rx="2.8" ry="2.4" fill="#8e9000" opacity="0.72" transform="rotate(0 127.9 214.4)"/>
<ellipse cx="127.9" cy="214.6" rx="1.4" ry="1.2" fill="#c2c400" opacity="0.72" transform="rotate(0 127.9 214.6)"/>
<ellipse cx="140.3" cy="208.9" rx="2.2" ry="3.0" fill="#7a7c00" opacity="0.72" transform="rotate(-20 140.3 208.9)"/>
<ellipse cx="140.5" cy="209.2" rx="1.0" ry="1.5" fill="#aeb000" opacity="0.72" transform="rotate(-20 140.5 209.2)"/>
<ellipse cx="112.7" cy="199.6" rx="1.0" ry="1.0" fill="#5c5e00" opacity="0.65" transform="rotate(0 112.7 199.6)"/>
</g></g>
</g>
<rect x="160.50" y="141.30" width="46.20" height="45.70" fill="#181818" />
<rect x="160.50" y="141.30" width="46.20" height="45.70" fill="#000" filter="url(#gnoise)" opacity="0.10" style="mix-blend-mode:screen"/>
<rect x="208.20" y="141.30" width="45.80" height="45.70" fill="#171717" />
<rect x="208.20" y="141.30" width="45.80" height="45.70" fill="#000" filter="url(#gnoise)" opacity="0.10" style="mix-blend-mode:screen"/>
<rect x="160.50" y="188.70" width="46.20" height="46.20" fill="#060606" />
<rect x="160.50" y="188.70" width="46.20" height="46.20" fill="#000" filter="url(#gnoise)" opacity="0.10" style="mix-blend-mode:screen"/>
<rect x="208.20" y="188.70" width="45.80" height="46.20" fill="#0b0b0b" />
<rect x="208.20" y="188.70" width="45.80" height="46.20" fill="#000" filter="url(#gnoise)" opacity="0.10" style="mix-blend-mode:screen"/>
<clipPath id="c31"><rect x="160.50" y="141.30" width="46.20" height="45.70"/></clipPath>
<clipPath id="c32"><rect x="208.20" y="141.30" width="45.80" height="45.70"/></clipPath>
<clipPath id="c41"><rect x="160.50" y="188.70" width="46.20" height="46.20"/></clipPath>
<clipPath id="c42"><rect x="208.20" y="188.70" width="45.80" height="46.20"/></clipPath>
<g clip-path="url(#c31)"><polygon points="173.2,152.5 174.1,151.2 175.1,149.8 175.5,147.5 177.5,146.8 178.1,144.9 180.5,143.6 183.2,143.2 185.2,141.9 186.8,141.8 187.7,142.0 188.7,143.0 189.6,143.4 188.9,144.2 189.2,146.4 189.4,147.0 188.7,148.0 187.6,149.5 186.0,151.6 184.5,152.1 182.0,154.1 181.0,154.6 178.9,154.7 178.4,156.2 176.0,156.2 174.9,156.6 174.5,155.9 173.6,155.4 173.1,155.1 173.6,154.1" fill="#4e4e4e" stroke="#9a9a9a" stroke-width="0.8" stroke-linejoin="round" filter="url(#b05)"/></g>
<g clip-path="url(#c31)"><polygon points="197.9,157.6 200.1,158.0 201.1,158.5 203.0,159.6 203.0,160.8 203.8,163.3 204.6,165.0 203.2,166.8 203.1,167.8 202.6,169.6 201.5,170.4 199.3,171.2 198.0,172.0 196.8,171.0 195.7,170.7 193.5,171.0 193.1,170.0 191.3,168.4 191.2,166.5 191.5,164.6 191.4,161.9 192.6,160.5 193.9,160.2 195.7,158.9" fill="#484848" stroke="#9a9a9a" stroke-width="0.8" stroke-linejoin="round" filter="url(#b05)"/></g>
<g clip-path="url(#c32)"><polygon points="210.7,145.9 212.4,145.4 212.7,143.5 214.1,142.6 214.8,145.7 214.8,148.4 216.0,150.8 216.1,153.6 214.8,156.0 215.1,157.7 213.5,157.6 213.3,158.6 212.1,158.2 211.1,157.0 210.5,154.4 209.6,152.8 209.7,150.1 209.7,147.8" fill="#545454" stroke="#9a9a9a" stroke-width="0.8" stroke-linejoin="round" filter="url(#b05)"/></g>
<g clip-path="url(#c32)"><polygon points="225.9,161.6 228.8,160.8 230.6,158.1 233.8,157.2 238.0,158.8 240.8,160.0 244.6,162.0 244.2,164.6 243.5,166.2 243.0,168.5 240.0,171.2 237.5,172.6 235.7,174.8 233.3,174.3 230.2,175.6 226.9,175.0 225.7,173.6 223.5,171.3 222.6,169.5 223.2,167.4 224.5,164.2" fill="#505050" stroke="#9a9a9a" stroke-width="0.8" stroke-linejoin="round" filter="url(#b05)"/></g>
<g clip-path="url(#c32)"><polygon points="237.7,141.3 240.7,141.8 242.9,141.2 244.6,141.3 244.9,143.5 245.2,144.7 245.6,146.9 244.1,145.7 242.8,146.3 241.6,144.9 241.0,145.4 239.0,145.3 237.7,145.9 237.1,144.1 238.1,143.4" fill="#585858" stroke="#9a9a9a" stroke-width="0.8" stroke-linejoin="round" filter="url(#b05)"/></g>
<g clip-path="url(#c41)"><polygon points="178.7,207.9 180.1,207.3 182.3,206.2 183.6,204.9 185.8,206.6 187.3,207.8 189.5,208.9 188.5,210.8 188.6,213.1 187.5,214.8 185.3,216.4 183.8,216.8 181.6,217.7 180.3,216.1 179.9,214.7 179.6,212.8 179.3,211.6 179.2,210.0" fill="#5c5c5c" stroke="#9a9a9a" stroke-width="0.8" stroke-linejoin="round" filter="url(#b05)"/></g>
<g clip-path="url(#c41)"><polygon points="166.9,217.7 167.6,217.6 169.1,217.5 169.8,216.7 170.3,220.1 171.6,222.8 171.8,225.6 172.1,229.3 171.2,231.8 170.8,234.9 169.3,235.4 169.4,234.9 167.8,234.9 167.4,232.1 166.9,228.3 165.9,225.6 166.6,223.1 166.8,220.3" fill="#505050" stroke="#9a9a9a" stroke-width="0.8" stroke-linejoin="round" filter="url(#b05)"/></g>
<g clip-path="url(#c41)"><polygon points="201.3,188.7 203.3,189.1 205.1,189.0 206.7,188.7 206.0,190.3 206.6,193.1 206.7,195.1 205.1,194.7 204.4,193.1 202.9,193.1 202.3,191.3 201.2,189.7" fill="#3c3c3c" stroke="#9a9a9a" stroke-width="0.8" stroke-linejoin="round" filter="url(#b05)"/></g>
<g clip-path="url(#c42)"><polygon points="222.9,212.8 226.2,211.4 229.7,210.2 233.8,209.8 233.1,211.9 232.6,214.5 231.8,216.7 230.1,218.3 228.5,218.5 227.9,219.7 226.6,218.6 225.4,218.2 224.9,216.7 224.1,214.8 223.7,213.6" fill="#565656" stroke="#9a9a9a" stroke-width="0.8" stroke-linejoin="round" filter="url(#b05)"/></g>
<g clip-path="url(#c42)"><polygon points="235.7,205.9 237.7,205.1 239.7,205.5 241.6,204.3 242.7,205.7 243.4,207.5 243.6,208.9 242.8,210.0 242.4,212.2 241.6,213.8 241.0,213.8 239.2,212.3 237.7,211.8 237.6,209.2 235.8,208.0" fill="#545454" stroke="#9a9a9a" stroke-width="0.8" stroke-linejoin="round" filter="url(#b05)"/></g>
<rect x="61.00" y="289.20" width="45.80" height="45.80" fill="#050500" />
<rect x="108.70" y="289.20" width="46.20" height="45.80" fill="#050500" />
<rect x="61.00" y="336.90" width="45.80" height="46.50" fill="#020200" />
<rect x="108.70" y="336.90" width="46.20" height="46.50" fill="#020200" />
<rect x="61.00" y="386.00" width="45.80" height="45.70" fill="#050500" />
<rect x="108.70" y="386.00" width="46.20" height="45.70" fill="#050500" />
<rect x="61.00" y="433.30" width="45.80" height="46.40" fill="#020200" />
<rect x="108.70" y="433.30" width="46.20" height="46.40" fill="#020200" />
<g filter="url(#b15)">
<ellipse cx="80.1" cy="300.2" rx="2.2" ry="1.8" fill="#131500" opacity="0.8"/>
<ellipse cx="71.1" cy="302.1" rx="2.2" ry="1.8" fill="#131500" opacity="0.8"/>
<ellipse cx="94.2" cy="302.2" rx="2.2" ry="1.8" fill="#131500" opacity="0.8"/>
<ellipse cx="79.2" cy="319.4" rx="2.2" ry="1.8" fill="#131500" opacity="0.8"/>
<ellipse cx="85.4" cy="329.5" rx="2.2" ry="1.8" fill="#131500" opacity="0.8"/>
<ellipse cx="83.5" cy="309.0" rx="2.2" ry="1.8" fill="#131500" opacity="0.8"/>
<ellipse cx="88.4" cy="300.8" rx="2.2" ry="1.8" fill="#131500" opacity="0.8"/>
<ellipse cx="99.9" cy="307.1" rx="2.2" ry="1.8" fill="#131500" opacity="0.8"/>
<ellipse cx="79.4" cy="319.4" rx="2.2" ry="1.8" fill="#131500" opacity="0.8"/>
<ellipse cx="70.1" cy="318.5" rx="2.2" ry="1.8" fill="#131500" opacity="0.8"/>
<ellipse cx="97.8" cy="305.7" rx="2.2" ry="1.8" fill="#131500" opacity="0.8"/>
<ellipse cx="101.7" cy="313.2" rx="2.2" ry="1.8" fill="#131500" opacity="0.8"/>
<ellipse cx="94.8" cy="310.9" rx="2.2" ry="1.8" fill="#131500" opacity="0.8"/>
<ellipse cx="80.0" cy="302.9" rx="2.2" ry="1.8" fill="#131500" opacity="0.8"/>
<ellipse cx="112.0" cy="300.3" rx="2.2" ry="1.8" fill="#131500" opacity="0.8"/>
<ellipse cx="151.5" cy="313.5" rx="2.2" ry="1.8" fill="#131500" opacity="0.8"/>
<ellipse cx="130.3" cy="328.0" rx="2.2" ry="1.8" fill="#131500" opacity="0.8"/>
<ellipse cx="136.0" cy="331.1" rx="2.2" ry="1.8" fill="#131500" opacity="0.8"/>
<ellipse cx="126.1" cy="300.8" rx="2.2" ry="1.8" fill="#131500" opacity="0.8"/>
<ellipse cx="148.7" cy="298.6" rx="2.2" ry="1.8" fill="#131500" opacity="0.8"/>
<ellipse cx="143.5" cy="315.9" rx="2.2" ry="1.8" fill="#131500" opacity="0.8"/>
<ellipse cx="151.2" cy="329.8" rx="2.2" ry="1.8" fill="#131500" opacity="0.8"/>
<ellipse cx="138.2" cy="293.7" rx="2.2" ry="1.8" fill="#131500" opacity="0.8"/>
<ellipse cx="112.6" cy="311.1" rx="2.2" ry="1.8" fill="#131500" opacity="0.8"/>
<ellipse cx="144.7" cy="295.4" rx="2.2" ry="1.8" fill="#131500" opacity="0.8"/>
<ellipse cx="128.8" cy="295.6" rx="2.2" ry="1.8" fill="#131500" opacity="0.8"/>
<ellipse cx="124.2" cy="292.4" rx="2.2" ry="1.8" fill="#131500" opacity="0.8"/>
<ellipse cx="125.0" cy="313.0" rx="2.2" ry="1.8" fill="#131500" opacity="0.8"/>
<ellipse cx="72.0" cy="420.3" rx="2.2" ry="1.8" fill="#131500" opacity="0.8"/>
<ellipse cx="66.2" cy="397.4" rx="2.2" ry="1.8" fill="#131500" opacity="0.8"/>
<ellipse cx="74.3" cy="405.0" rx="2.2" ry="1.8" fill="#131500" opacity="0.8"/>
<ellipse cx="94.4" cy="403.0" rx="2.2" ry="1.8" fill="#131500" opacity="0.8"/>
<ellipse cx="91.7" cy="425.6" rx="2.2" ry="1.8" fill="#131500" opacity="0.8"/>
<ellipse cx="69.2" cy="423.3" rx="2.2" ry="1.8" fill="#131500" opacity="0.8"/>
<ellipse cx="87.9" cy="418.7" rx="2.2" ry="1.8" fill="#131500" opacity="0.8"/>
<ellipse cx="88.2" cy="405.2" rx="2.2" ry="1.8" fill="#131500" opacity="0.8"/>
<ellipse cx="67.8" cy="394.7" rx="2.2" ry="1.8" fill="#131500" opacity="0.8"/>
<ellipse cx="70.9" cy="396.1" rx="2.2" ry="1.8" fill="#131500" opacity="0.8"/>
<ellipse cx="69.8" cy="397.2" rx="2.2" ry="1.8" fill="#131500" opacity="0.8"/>
<ellipse cx="86.3" cy="419.6" rx="2.2" ry="1.8" fill="#131500" opacity="0.8"/>
<ellipse cx="95.8" cy="422.6" rx="2.2" ry="1.8" fill="#131500" opacity="0.8"/>
<ellipse cx="68.7" cy="421.6" rx="2.2" ry="1.8" fill="#131500" opacity="0.8"/>
<ellipse cx="119.2" cy="391.9" rx="2.2" ry="1.8" fill="#131500" opacity="0.8"/>
<ellipse cx="123.3" cy="412.3" rx="2.2" ry="1.8" fill="#131500" opacity="0.8"/>
<ellipse cx="113.6" cy="397.6" rx="2.2" ry="1.8" fill="#131500" opacity="0.8"/>
<ellipse cx="127.7" cy="421.6" rx="2.2" ry="1.8" fill="#131500" opacity="0.8"/>
<ellipse cx="127.8" cy="405.4" rx="2.2" ry="1.8" fill="#131500" opacity="0.8"/>
<ellipse cx="126.6" cy="392.7" rx="2.2" ry="1.8" fill="#131500" opacity="0.8"/>
<ellipse cx="147.1" cy="425.6" rx="2.2" ry="1.8" fill="#131500" opacity="0.8"/>
<ellipse cx="140.7" cy="404.8" rx="2.2" ry="1.8" fill="#131500" opacity="0.8"/>
<ellipse cx="129.5" cy="401.4" rx="2.2" ry="1.8" fill="#131500" opacity="0.8"/>
<ellipse cx="138.0" cy="414.9" rx="2.2" ry="1.8" fill="#131500" opacity="0.8"/>
<ellipse cx="124.2" cy="423.7" rx="2.2" ry="1.8" fill="#131500" opacity="0.8"/>
<ellipse cx="140.7" cy="397.7" rx="2.2" ry="1.8" fill="#131500" opacity="0.8"/>
<ellipse cx="144.2" cy="415.8" rx="2.2" ry="1.8" fill="#131500" opacity="0.8"/>
<ellipse cx="121.7" cy="400.8" rx="2.2" ry="1.8" fill="#131500" opacity="0.8"/>
</g>
<clipPath id="nb22"><rect x="108.70" y="336.90" width="46.20" height="46.50"/></clipPath>
<g clip-path="url(#nb22)">
<g filter="url(#b05)">
<ellipse cx="120.9" cy="337.8" rx="1.28" ry="2.09" fill="#606200" transform="rotate(32 120.9 337.8)"/>
<ellipse cx="126.6" cy="338.8" rx="1.27" ry="2.04" fill="#606200" transform="rotate(-3 126.6 338.8)"/>
<ellipse cx="131.6" cy="341.0" rx="1.74" ry="1.84" fill="#a0a200" transform="rotate(-57 131.6 341.0)"/>
<ellipse cx="139.9" cy="339.8" rx="1.57" ry="2.27" fill="#f2f400" transform="rotate(-60 139.9 339.8)"/>
<ellipse cx="144.4" cy="341.5" rx="1.49" ry="2.29" fill="#b2b400" transform="rotate(11 144.4 341.5)"/>
<ellipse cx="153.2" cy="340.8" rx="1.61" ry="1.62" fill="#7c7e00" transform="rotate(-57 153.2 340.8)"/>
<ellipse cx="112.8" cy="343.0" rx="1.23" ry="2.11" fill="#606200" transform="rotate(22 112.8 343.0)"/>
<ellipse cx="111.2" cy="347.2" rx="1.54" ry="1.91" fill="#606200" transform="rotate(32 111.2 347.2)"/>
<ellipse cx="123.9" cy="349.1" rx="1.46" ry="1.80" fill="#3a3c00" transform="rotate(21 123.9 349.1)"/>
<ellipse cx="135.1" cy="351.1" rx="1.82" ry="2.37" fill="#e0e200" transform="rotate(-10 135.1 351.1)"/>
<ellipse cx="149.7" cy="352.6" rx="1.80" ry="1.85" fill="#e0e200" transform="rotate(16 149.7 352.6)"/>
<ellipse cx="129.8" cy="355.1" rx="1.77" ry="1.86" fill="#e0e200" transform="rotate(-20 129.8 355.1)"/>
<ellipse cx="116.5" cy="356.3" rx="1.83" ry="2.10" fill="#c0c200" transform="rotate(56 116.5 356.3)"/>
<ellipse cx="139.1" cy="361.3" rx="1.76" ry="2.21" fill="#c0c200" transform="rotate(-24 139.1 361.3)"/>
<ellipse cx="118.0" cy="363.9" rx="1.83" ry="2.10" fill="#a0a200" transform="rotate(53 118.0 363.9)"/>
<ellipse cx="146.7" cy="361.3" rx="1.48" ry="1.63" fill="#606200" transform="rotate(-31 146.7 361.3)"/>
<ellipse cx="143.7" cy="365.9" rx="1.56" ry="1.89" fill="#e0e200" transform="rotate(6 143.7 365.9)"/>
<ellipse cx="109.5" cy="367.6" rx="1.73" ry="2.25" fill="#c0c200" transform="rotate(-50 109.5 367.6)"/>
<ellipse cx="119.1" cy="368.9" rx="1.60" ry="2.28" fill="#a0a200" transform="rotate(3 119.1 368.9)"/>
<ellipse cx="127.3" cy="368.1" rx="1.54" ry="2.25" fill="#f2f400" transform="rotate(-4 127.3 368.1)"/>
<ellipse cx="134.6" cy="368.3" rx="1.53" ry="2.16" fill="#3a3c00" transform="rotate(11 134.6 368.3)"/>
<ellipse cx="150.9" cy="370.1" rx="1.67" ry="1.89" fill="#b2b400" transform="rotate(-33 150.9 370.1)"/>
<ellipse cx="114.0" cy="371.9" rx="1.56" ry="1.91" fill="#707200" transform="rotate(43 114.0 371.9)"/>
<ellipse cx="125.1" cy="373.7" rx="1.40" ry="1.80" fill="#606200" transform="rotate(42 125.1 373.7)"/>
<ellipse cx="138.1" cy="375.2" rx="1.58" ry="1.95" fill="#c0c200" transform="rotate(6 138.1 375.2)"/>
<ellipse cx="127.9" cy="376.7" rx="1.36" ry="2.28" fill="#c0c200" transform="rotate(38 127.9 376.7)"/>
<ellipse cx="118.2" cy="378.0" rx="1.61" ry="1.87" fill="#b2b400" transform="rotate(33 118.2 378.0)"/>
<ellipse cx="152.2" cy="379.0" rx="1.56" ry="1.82" fill="#c0c200" transform="rotate(44 152.2 379.0)"/>
<ellipse cx="138.3" cy="381.0" rx="1.63" ry="2.38" fill="#f2f400" transform="rotate(-10 138.3 381.0)"/>
<ellipse cx="114.5" cy="377.2" rx="1.40" ry="1.61" fill="#7c7e00" transform="rotate(5 114.5 377.2)"/>
</g>
</g>
<clipPath id="nb21"><rect x="61.00" y="336.90" width="45.80" height="46.50"/></clipPath>
<g clip-path="url(#nb21)">
<g filter="url(#b05)">
<ellipse cx="72.8" cy="345.5" rx="1.50" ry="1.97" fill="#343600" transform="rotate(-44 72.8 345.5)"/>
<ellipse cx="80.0" cy="349.6" rx="1.22" ry="1.52" fill="#282a00" transform="rotate(31 80.0 349.6)"/>
<ellipse cx="97.4" cy="341.1" rx="1.16" ry="1.55" fill="#404200" transform="rotate(-46 97.4 341.1)"/>
<ellipse cx="66.9" cy="354.9" rx="1.52" ry="1.79" fill="#282a00" transform="rotate(30 66.9 354.9)"/>
<ellipse cx="76.1" cy="353.9" rx="1.30" ry="1.68" fill="#343600" transform="rotate(-23 76.1 353.9)"/>
<ellipse cx="83.6" cy="356.9" rx="1.46" ry="1.63" fill="#484a00" transform="rotate(43 83.6 356.9)"/>
<ellipse cx="70.8" cy="361.8" rx="1.25" ry="1.93" fill="#404200" transform="rotate(-34 70.8 361.8)"/>
<ellipse cx="87.5" cy="360.8" rx="1.16" ry="1.44" fill="#404200" transform="rotate(-17 87.5 360.8)"/>
<ellipse cx="100.3" cy="359.8" rx="1.29" ry="1.63" fill="#404200" transform="rotate(1 100.3 359.8)"/>
<ellipse cx="106.2" cy="351.0" rx="1.52" ry="1.68" fill="#282a00" transform="rotate(-9 106.2 351.0)"/>
<ellipse cx="69.8" cy="365.7" rx="1.42" ry="1.63" fill="#484a00" transform="rotate(48 69.8 365.7)"/>
<ellipse cx="75.7" cy="370.7" rx="1.12" ry="1.85" fill="#484a00" transform="rotate(22 75.7 370.7)"/>
<ellipse cx="89.5" cy="367.7" rx="1.36" ry="1.57" fill="#484a00" transform="rotate(-22 89.5 367.7)"/>
<ellipse cx="98.4" cy="371.6" rx="1.28" ry="1.90" fill="#484a00" transform="rotate(-15 98.4 371.6)"/>
<ellipse cx="64.9" cy="374.6" rx="1.47" ry="1.69" fill="#484a00" transform="rotate(7 64.9 374.6)"/>
<ellipse cx="81.6" cy="375.6" rx="1.28" ry="1.55" fill="#404200" transform="rotate(-18 81.6 375.6)"/>
<ellipse cx="105.2" cy="379.5" rx="1.46" ry="1.78" fill="#484a00" transform="rotate(27 105.2 379.5)"/>
<ellipse cx="94.4" cy="348.0" rx="1.19" ry="1.97" fill="#484a00" transform="rotate(21 94.4 348.0)"/>
<ellipse cx="61.9" cy="365.7" rx="1.19" ry="1.54" fill="#343600" transform="rotate(1 61.9 365.7)"/>
</g>
</g>
<clipPath id="nb42"><rect x="108.70" y="433.30" width="46.20" height="46.40"/></clipPath>
<g clip-path="url(#nb42)">
<g filter="url(#b05)">
<ellipse cx="120.6" cy="434.2" rx="1.75" ry="1.62" fill="#e0e200" transform="rotate(-16 120.6 434.2)"/>
<ellipse cx="135.1" cy="434.5" rx="1.89" ry="1.64" fill="#f2f400" transform="rotate(13 135.1 434.5)"/>
<ellipse cx="141.3" cy="435.5" rx="1.76" ry="1.47" fill="#f2f400" transform="rotate(59 141.3 435.5)"/>
<ellipse cx="146.7" cy="433.8" rx="1.92" ry="1.62" fill="#b2b400" transform="rotate(-12 146.7 433.8)"/>
<ellipse cx="111.5" cy="437.8" rx="1.75" ry="1.43" fill="#a0a200" transform="rotate(51 111.5 437.8)"/>
<ellipse cx="128.1" cy="438.2" rx="2.04" ry="1.68" fill="#e0e200" transform="rotate(-52 128.1 438.2)"/>
<ellipse cx="139.1" cy="440.5" rx="1.64" ry="1.73" fill="#a0a200" transform="rotate(39 139.1 440.5)"/>
<ellipse cx="119.9" cy="442.5" rx="1.88" ry="1.71" fill="#e0e200" transform="rotate(45 119.9 442.5)"/>
<ellipse cx="133.6" cy="443.9" rx="2.06" ry="1.56" fill="#e0e200" transform="rotate(27 133.6 443.9)"/>
<ellipse cx="149.4" cy="442.8" rx="1.87" ry="1.81" fill="#eaec00" transform="rotate(45 149.4 442.8)"/>
<ellipse cx="114.2" cy="448.6" rx="1.64" ry="1.60" fill="#c0c200" transform="rotate(-29 114.2 448.6)"/>
<ellipse cx="125.1" cy="448.9" rx="1.86" ry="1.66" fill="#c0c200" transform="rotate(-24 125.1 448.9)"/>
<ellipse cx="131.6" cy="451.6" rx="2.09" ry="1.64" fill="#f2f400" transform="rotate(4 131.6 451.6)"/>
<ellipse cx="146.0" cy="449.3" rx="1.95" ry="1.79" fill="#b2b400" transform="rotate(22 146.0 449.3)"/>
<ellipse cx="154.4" cy="450.1" rx="1.89" ry="1.65" fill="#707200" transform="rotate(21 154.4 450.1)"/>
<ellipse cx="110.5" cy="454.3" rx="2.01" ry="1.52" fill="#e0e200" transform="rotate(5 110.5 454.3)"/>
<ellipse cx="119.1" cy="456.3" rx="1.94" ry="1.70" fill="#e0e200" transform="rotate(-35 119.1 456.3)"/>
<ellipse cx="139.3" cy="455.3" rx="1.77" ry="1.42" fill="#c0c200" transform="rotate(-2 139.3 455.3)"/>
<ellipse cx="126.3" cy="459.1" rx="2.18" ry="1.40" fill="#f2f400" transform="rotate(36 126.3 459.1)"/>
<ellipse cx="109.8" cy="460.3" rx="2.13" ry="1.37" fill="#a0a200" transform="rotate(-9 109.8 460.3)"/>
<ellipse cx="138.6" cy="462.9" rx="2.11" ry="1.38" fill="#eaec00" transform="rotate(14 138.6 462.9)"/>
<ellipse cx="149.2" cy="464.3" rx="1.83" ry="1.64" fill="#a0a200" transform="rotate(6 149.2 464.3)"/>
<ellipse cx="117.2" cy="465.1" rx="1.71" ry="1.66" fill="#707200" transform="rotate(-23 117.2 465.1)"/>
<ellipse cx="140.9" cy="468.7" rx="1.68" ry="1.62" fill="#f2f400" transform="rotate(54 140.9 468.7)"/>
<ellipse cx="134.1" cy="469.7" rx="1.78" ry="1.49" fill="#f2f400" transform="rotate(23 134.1 469.7)"/>
<ellipse cx="145.7" cy="470.0" rx="1.79" ry="1.82" fill="#a0a200" transform="rotate(48 145.7 470.0)"/>
<ellipse cx="118.2" cy="473.2" rx="1.83" ry="1.78" fill="#e0e200" transform="rotate(-14 118.2 473.2)"/>
<ellipse cx="148.7" cy="475.4" rx="2.00" ry="1.41" fill="#c0c200" transform="rotate(57 148.7 475.4)"/>
<ellipse cx="154.0" cy="470.7" rx="1.59" ry="1.50" fill="#606200" transform="rotate(26 154.0 470.7)"/>
<ellipse cx="115.5" cy="477.2" rx="1.86" ry="1.48" fill="#a0a200" transform="rotate(-24 115.5 477.2)"/>
<ellipse cx="110.0" cy="471.2" rx="1.46" ry="1.40" fill="#707200" transform="rotate(10 110.0 471.2)"/>
<ellipse cx="131.6" cy="478.7" rx="1.83" ry="1.64" fill="#c0c200" transform="rotate(-44 131.6 478.7)"/>
<ellipse cx="142.1" cy="479.0" rx="1.78" ry="1.43" fill="#606200" transform="rotate(22 142.1 479.0)"/>
</g>
</g>
<clipPath id="nb41"><rect x="61.00" y="433.30" width="45.80" height="46.40"/></clipPath>
<g clip-path="url(#nb41)">
<g filter="url(#b05)">
<ellipse cx="84.6" cy="447.0" rx="1.10" ry="1.41" fill="#484a00" transform="rotate(-10 84.6 447.0)"/>
<ellipse cx="94.4" cy="448.0" rx="1.03" ry="1.36" fill="#2a2c00" transform="rotate(5 94.4 448.0)"/>
<ellipse cx="74.7" cy="448.0" rx="1.35" ry="1.76" fill="#2a2c00" transform="rotate(-28 74.7 448.0)"/>
<ellipse cx="90.5" cy="452.9" rx="1.11" ry="1.44" fill="#484a00" transform="rotate(-39 90.5 452.9)"/>
<ellipse cx="87.5" cy="465.1" rx="1.41" ry="1.36" fill="#2a2c00" transform="rotate(14 87.5 465.1)"/>
<ellipse cx="92.4" cy="465.1" rx="1.35" ry="1.45" fill="#2a2c00" transform="rotate(-19 92.4 465.1)"/>
<ellipse cx="99.3" cy="465.7" rx="1.03" ry="1.68" fill="#484a00" transform="rotate(17 99.3 465.7)"/>
<ellipse cx="81.6" cy="464.7" rx="1.07" ry="1.61" fill="#2a2c00" transform="rotate(-41 81.6 464.7)"/>
<ellipse cx="72.8" cy="473.6" rx="0.99" ry="1.51" fill="#2a2c00" transform="rotate(20 72.8 473.6)"/>
<ellipse cx="89.5" cy="473.6" rx="1.37" ry="1.62" fill="#2a2c00" transform="rotate(-9 89.5 473.6)"/>
<ellipse cx="96.4" cy="438.1" rx="1.18" ry="1.44" fill="#383a00" transform="rotate(-19 96.4 438.1)"/>
<ellipse cx="91.5" cy="459.8" rx="1.03" ry="1.60" fill="#585a00" transform="rotate(50 91.5 459.8)"/>
</g>
</g>
<rect x="96.70" y="86.20" width="8.20" height="1.60" fill="#f0f0f0" />
<rect x="97.00" y="182.80" width="8.00" height="1.60" fill="#f4f4f4" />
<rect x="96.10" y="330.00" width="9.00" height="1.70" fill="#f4f4f4" />
<text x="5.60" y="20.20" font-size="10.4" text-anchor="start" fill="#000" font-weight="bold" textLength="6.60" lengthAdjust="spacingAndGlyphs" >A</text>
<text x="6.00" y="275.00" font-size="10.8" text-anchor="start" fill="#000" font-weight="bold" textLength="5.70" lengthAdjust="spacingAndGlyphs" >B</text>
<line x1="62.00" y1="31.00" x2="155.40" y2="31.00" stroke="#7c7c7c" stroke-width="1.6" />
<line x1="160.50" y1="31.00" x2="254.00" y2="31.00" stroke="#7c7c7c" stroke-width="1.6" />
<text x="108.20" y="27.20" font-size="5.6" text-anchor="middle" fill="#222" textLength="32.40" lengthAdjust="spacingAndGlyphs" >pSMAD 1/5/9</text>
<text x="208.20" y="27.80" font-size="5.6" text-anchor="middle" fill="#222" textLength="35.60" lengthAdjust="spacingAndGlyphs" >Actin Filaments</text>
<text x="44.40" y="41.20" font-size="4.8" text-anchor="start" fill="#222" textLength="13.60" lengthAdjust="spacingAndGlyphs" >BMP9</text>
<text x="79.40" y="40.50" font-size="5.0" text-anchor="start" fill="#222" textLength="18.00" lengthAdjust="spacingAndGlyphs" >0 pg/ml</text>
<polygon points="112.00,38.60 115.10,35.20 118.20,38.60 115.10,42.00" fill="#ff0000"/>
<polygon points="118.20,38.60 121.30,35.20 124.40,38.60 121.30,42.00" fill="#ff0000"/>
<text x="126.60" y="40.50" font-size="5.0" text-anchor="start" fill="#222" textLength="17.40" lengthAdjust="spacingAndGlyphs" >1 pg/ml</text>
<text x="177.60" y="40.50" font-size="5.0" text-anchor="start" fill="#222" textLength="18.00" lengthAdjust="spacingAndGlyphs" >0 pg/ml</text>
<polygon points="210.40,38.60 213.50,35.20 216.60,38.60 213.50,42.00" fill="#ff0000"/>
<polygon points="216.60,38.60 219.70,35.20 222.80,38.60 219.70,42.00" fill="#ff0000"/>
<text x="224.60" y="40.50" font-size="5.0" text-anchor="start" fill="#222" textLength="17.40" lengthAdjust="spacingAndGlyphs" >1 pg/ml</text>
<line x1="39.70" y1="45.50" x2="39.70" y2="137.30" stroke="#7c7c7c" stroke-width="1.5" />
<line x1="39.70" y1="142.20" x2="39.70" y2="234.00" stroke="#7c7c7c" stroke-width="1.5" />
<text x="18.90" y="94.90" font-size="8.1" text-anchor="middle" fill="#000" font-weight="bold" textLength="30.50" lengthAdjust="spacingAndGlyphs" >Confluent</text>
<text x="20.20" y="192.00" font-size="8.1" text-anchor="middle" fill="#000" font-weight="bold" textLength="13.80" lengthAdjust="spacingAndGlyphs" >Sub-</text>
<text x="19.80" y="199.90" font-size="8.1" text-anchor="middle" fill="#000" font-weight="bold" textLength="30.50" lengthAdjust="spacingAndGlyphs" >Confluent</text>
<text x="45.00" y="69.80" font-size="5.6" text-anchor="start" fill="#222" textLength="13.00" lengthAdjust="spacingAndGlyphs" >Static</text>
<text x="45.00" y="113.90" font-size="5.6" text-anchor="start" fill="#222" textLength="12.60" lengthAdjust="spacingAndGlyphs" >Shear</text>
<text x="45.00" y="121.10" font-size="5.6" text-anchor="start" fill="#222" textLength="13.40" lengthAdjust="spacingAndGlyphs" >Stress</text>
<text x="45.00" y="167.00" font-size="5.6" text-anchor="start" fill="#222" textLength="13.00" lengthAdjust="spacingAndGlyphs" >Static</text>
<text x="45.00" y="210.80" font-size="5.6" text-anchor="start" fill="#222" textLength="12.60" lengthAdjust="spacingAndGlyphs" >Shear</text>
<text x="45.00" y="218.00" font-size="5.6" text-anchor="start" fill="#222" textLength="13.40" lengthAdjust="spacingAndGlyphs" >Stress</text>
<text x="42.90" y="284.60" font-size="4.8" text-anchor="start" fill="#222" textLength="13.50" lengthAdjust="spacingAndGlyphs" >BMP9</text>
<text x="79.50" y="285.60" font-size="5.0" text-anchor="start" fill="#222" textLength="18.40" lengthAdjust="spacingAndGlyphs" >0 pg/ml</text>
<polygon points="109.50,282.60 112.65,279.40 115.80,282.60 112.65,285.80" fill="#ff0000"/>
<polygon points="115.80,282.60 118.95,279.40 122.10,282.60 118.95,285.80" fill="#ff0000"/>
<text x="126.60" y="285.60" font-size="5.0" text-anchor="start" fill="#222" textLength="18.00" lengthAdjust="spacingAndGlyphs" >1 pg/ml</text>
<line x1="39.20" y1="289.80" x2="39.20" y2="381.80" stroke="#7c7c7c" stroke-width="1.5" />
<line x1="39.20" y1="387.00" x2="39.20" y2="478.40" stroke="#7c7c7c" stroke-width="1.5" />
<text x="20.20" y="338.00" font-size="7.6" text-anchor="middle" fill="#000" font-weight="bold" textLength="23.20" lengthAdjust="spacingAndGlyphs" >Control</text>
<text x="22.00" y="435.60" font-size="7.6" text-anchor="middle" fill="#000" font-weight="bold" textLength="22.60" lengthAdjust="spacingAndGlyphs" >Y27632</text>
<text x="44.20" y="314.00" font-size="5.6" text-anchor="start" fill="#222" textLength="13.40" lengthAdjust="spacingAndGlyphs" >Static</text>
<text x="44.20" y="358.60" font-size="5.6" text-anchor="start" fill="#222" textLength="12.80" lengthAdjust="spacingAndGlyphs" >Shear</text>
<text x="44.20" y="365.80" font-size="5.6" text-anchor="start" fill="#222" textLength="13.60" lengthAdjust="spacingAndGlyphs" >Stress</text>
<text x="44.20" y="411.40" font-size="5.6" text-anchor="start" fill="#222" textLength="13.40" lengthAdjust="spacingAndGlyphs" >Static</text>
<text x="44.20" y="455.40" font-size="5.6" text-anchor="start" fill="#222" textLength="12.80" lengthAdjust="spacingAndGlyphs" >Shear</text>
<text x="44.20" y="462.60" font-size="5.6" text-anchor="start" fill="#222" textLength="13.60" lengthAdjust="spacingAndGlyphs" >Stress</text>
<line x1="269.50" y1="18.50" x2="310.00" y2="18.50" stroke="#1a3873" stroke-width="2.1" />
<line x1="318.00" y1="18.50" x2="352.70" y2="18.50" stroke="#1a3873" stroke-width="2.1" />
<line x1="352.70" y1="18.50" x2="437.00" y2="18.50" stroke="#a9a9a9" stroke-width="2.0" />
<line x1="437.00" y1="18.50" x2="470.40" y2="18.50" stroke="#1272c9" stroke-width="2.2" />
<line x1="269.50" y1="15.00" x2="269.50" y2="22.00" stroke="#1a3873" stroke-width="1.2" />
<line x1="352.70" y1="15.00" x2="352.70" y2="22.00" stroke="#1a3873" stroke-width="1.2" />
<line x1="415.00" y1="15.00" x2="415.00" y2="22.00" stroke="#1a3873" stroke-width="1.1" />
<line x1="437.00" y1="15.00" x2="437.00" y2="22.00" stroke="#1f5fb0" stroke-width="1.3" />
<line x1="470.40" y1="15.00" x2="470.40" y2="22.00" stroke="#1f5fb0" stroke-width="1.3" />
<text x="314.00" y="20.80" font-size="6.6" text-anchor="middle" fill="#5a78b0" font-style="italic">//</text>
<text x="269.50" y="9.80" font-size="6.8" text-anchor="middle" fill="#111" font-weight="bold" stroke="#111" stroke-width="0.2" >0</text>
<text x="352.70" y="9.80" font-size="6.8" text-anchor="middle" fill="#111" font-weight="bold" stroke="#111" stroke-width="0.2" textLength="7.40" lengthAdjust="spacingAndGlyphs" >16</text>
<text x="415.00" y="9.80" font-size="6.8" text-anchor="middle" fill="#111" font-weight="bold" stroke="#111" stroke-width="0.2" textLength="7.40" lengthAdjust="spacingAndGlyphs" >19</text>
<text x="437.00" y="9.80" font-size="6.8" text-anchor="middle" fill="#111" font-weight="bold" stroke="#111" stroke-width="0.2" textLength="7.40" lengthAdjust="spacingAndGlyphs" >20</text>
<text x="465.50" y="9.80" font-size="6.8" text-anchor="start" fill="#111" font-weight="bold" stroke="#111" stroke-width="0.2" textLength="42.80" lengthAdjust="spacingAndGlyphs" >20:45 hr:min</text>
<text x="308.50" y="32.00" font-size="6.8" text-anchor="middle" fill="#1a3873" font-weight="bold" stroke="#1a3873" stroke-width="0.25" textLength="56.00" lengthAdjust="spacingAndGlyphs" >Overnight Culture</text>
<text x="386.00" y="32.00" font-size="6.6" text-anchor="middle" fill="#747474" textLength="32.80" lengthAdjust="spacingAndGlyphs" >Starvation</text>
<text x="473.60" y="20.80" font-size="6.8" text-anchor="start" fill="#1272c9" font-weight="bold" stroke="#1272c9" stroke-width="0.25" textLength="53.80" lengthAdjust="spacingAndGlyphs" >Flow Stimulation</text>
<line x1="175.10" y1="274.00" x2="208.60" y2="274.00" stroke="#1a3873" stroke-width="2.1" />
<line x1="223.60" y1="274.00" x2="258.50" y2="274.00" stroke="#1a3873" stroke-width="2.1" />
<line x1="258.50" y1="274.20" x2="342.50" y2="274.20" stroke="#a9a9a9" stroke-width="2.1" />
<line x1="342.50" y1="274.20" x2="375.60" y2="274.20" stroke="#1272c9" stroke-width="2.2" />
<line x1="320.30" y1="283.70" x2="375.60" y2="283.70" stroke="#c3278f" stroke-width="2.2" />
<line x1="175.10" y1="270.40" x2="175.10" y2="277.40" stroke="#1a3873" stroke-width="1.2" />
<line x1="258.50" y1="270.40" x2="258.50" y2="277.40" stroke="#1a3873" stroke-width="1.2" />
<line x1="320.30" y1="269.60" x2="320.30" y2="288.60" stroke="#1a3873" stroke-width="0.9" />
<line x1="331.10" y1="269.60" x2="331.10" y2="288.60" stroke="#8a9bbd" stroke-width="0.6" />
<line x1="342.50" y1="269.60" x2="342.50" y2="288.60" stroke="#2a5aa8" stroke-width="0.9" />
<line x1="375.60" y1="269.60" x2="375.60" y2="286.40" stroke="#2a5aa8" stroke-width="0.9" />
<text x="216.30" y="276.00" font-size="5.6" text-anchor="middle" fill="#5a78b0" font-style="italic">//</text>
<text x="175.10" y="266.00" font-size="6.8" text-anchor="middle" fill="#111" font-weight="bold" stroke="#111" stroke-width="0.2" >0</text>
<text x="258.50" y="266.00" font-size="6.8" text-anchor="middle" fill="#111" font-weight="bold" stroke="#111" stroke-width="0.2" textLength="7.40" lengthAdjust="spacingAndGlyphs" >16</text>
<text x="320.30" y="266.60" font-size="6.8" text-anchor="middle" fill="#111" font-weight="bold" stroke="#111" stroke-width="0.2" textLength="7.40" lengthAdjust="spacingAndGlyphs" >19</text>
<text x="341.60" y="266.60" font-size="6.8" text-anchor="middle" fill="#111" font-weight="bold" stroke="#111" stroke-width="0.2" textLength="7.40" lengthAdjust="spacingAndGlyphs" >20</text>
<text x="370.40" y="266.60" font-size="6.8" text-anchor="start" fill="#111" font-weight="bold" stroke="#111" stroke-width="0.2" textLength="42.50" lengthAdjust="spacingAndGlyphs" >20:45 hr:min</text>
<text x="214.00" y="288.00" font-size="6.8" text-anchor="middle" fill="#1a3873" font-weight="bold" stroke="#1a3873" stroke-width="0.25" textLength="56.00" lengthAdjust="spacingAndGlyphs" >Overnight Culture</text>
<text x="291.80" y="285.80" font-size="6.6" text-anchor="middle" fill="#747474" textLength="32.80" lengthAdjust="spacingAndGlyphs" >Starvation</text>
<text x="378.50" y="276.40" font-size="6.8" text-anchor="start" fill="#1272c9" font-weight="bold" stroke="#1272c9" stroke-width="0.25" textLength="84.10" lengthAdjust="spacingAndGlyphs" >Ligand or Flow Stimulation</text>
<text x="378.50" y="285.90" font-size="6.8" text-anchor="start" fill="#c3278f" font-weight="bold" stroke="#c3278f" stroke-width="0.25" textLength="47.50" lengthAdjust="spacingAndGlyphs" >Y27632 / DMSO</text>
<line x1="333.00" y1="53.90" x2="333.00" y2="157.35" stroke="#111" stroke-width="1.3" />
<line x1="331.40" y1="156.70" x2="415.10" y2="156.70" stroke="#111" stroke-width="1.3" />
<line x1="329.00" y1="147.50" x2="333.00" y2="147.50" stroke="#111" stroke-width="1.1" />
<text x="328.40" y="150.10" font-size="7.5" text-anchor="end" fill="#111" font-weight="bold" >0.4</text>
<line x1="330.60" y1="138.20" x2="333.00" y2="138.20" stroke="#111" stroke-width="0.9" />
<line x1="329.00" y1="128.90" x2="333.00" y2="128.90" stroke="#111" stroke-width="1.1" />
<text x="328.40" y="131.50" font-size="7.5" text-anchor="end" fill="#111" font-weight="bold" >0.5</text>
<line x1="330.60" y1="119.60" x2="333.00" y2="119.60" stroke="#111" stroke-width="0.9" />
<line x1="329.00" y1="110.30" x2="333.00" y2="110.30" stroke="#111" stroke-width="1.1" />
<text x="328.40" y="112.90" font-size="7.5" text-anchor="end" fill="#111" font-weight="bold" >0.6</text>
<line x1="330.60" y1="101.00" x2="333.00" y2="101.00" stroke="#111" stroke-width="0.9" />
<line x1="329.00" y1="91.70" x2="333.00" y2="91.70" stroke="#111" stroke-width="1.1" />
<text x="328.40" y="94.30" font-size="7.5" text-anchor="end" fill="#111" font-weight="bold" >0.7</text>
<line x1="330.60" y1="82.40" x2="333.00" y2="82.40" stroke="#111" stroke-width="0.9" />
<line x1="329.00" y1="73.10" x2="333.00" y2="73.10" stroke="#111" stroke-width="1.1" />
<text x="328.40" y="75.70" font-size="7.5" text-anchor="end" fill="#111" font-weight="bold" >0.8</text>
<line x1="330.60" y1="63.80" x2="333.00" y2="63.80" stroke="#111" stroke-width="0.9" />
<line x1="329.00" y1="54.50" x2="333.00" y2="54.50" stroke="#111" stroke-width="1.1" />
<text x="328.40" y="57.10" font-size="7.5" text-anchor="end" fill="#111" font-weight="bold" >0.9</text>
<line x1="345.80" y1="156.70" x2="345.80" y2="161.00" stroke="#111" stroke-width="1.0" />
<text x="346.00" y="172.00" font-size="8.0" text-anchor="middle" fill="#222" stroke="#222" stroke-width="0.18" >0</text>
<line x1="364.60" y1="156.70" x2="364.60" y2="161.00" stroke="#111" stroke-width="1.0" />
<text x="364.20" y="172.00" font-size="8.0" text-anchor="middle" fill="#222" stroke="#222" stroke-width="0.18" >19</text>
<line x1="383.60" y1="156.70" x2="383.60" y2="161.00" stroke="#111" stroke-width="1.0" />
<text x="384.00" y="172.00" font-size="8.0" text-anchor="middle" fill="#222" stroke="#222" stroke-width="0.18" >0</text>
<line x1="402.60" y1="156.70" x2="402.60" y2="161.00" stroke="#111" stroke-width="1.0" />
<text x="404.50" y="172.00" font-size="8.0" text-anchor="middle" fill="#222" stroke="#222" stroke-width="0.18" >19</text>
<g fill="#0b7a2f" opacity="1.0"><circle cx="345.8" cy="118.5" r="1.3"/><circle cx="345.8" cy="122.0" r="1.3"/><circle cx="345.8" cy="123.6" r="1.3"/><circle cx="344.7" cy="125.0" r="1.3"/><circle cx="345.4" cy="125.1" r="1.3"/><circle cx="346.2" cy="125.1" r="1.3"/><circle cx="346.9" cy="125.2" r="1.3"/><circle cx="344.3" cy="126.9" r="1.3"/><circle cx="345.3" cy="126.6" r="1.3"/><circle cx="346.3" cy="126.6" r="1.3"/><circle cx="347.3" cy="126.9" r="1.3"/><circle cx="343.7" cy="128.3" r="1.3"/><circle cx="344.3" cy="128.5" r="1.3"/><circle cx="344.9" cy="128.2" r="1.3"/><circle cx="345.5" cy="128.4" r="1.3"/><circle cx="346.1" cy="128.5" r="1.3"/><circle cx="346.7" cy="128.3" r="1.3"/><circle cx="347.3" cy="128.6" r="1.3"/><circle cx="347.9" cy="128.5" r="1.3"/><circle cx="342.8" cy="129.8" r="1.3"/><circle cx="343.4" cy="129.8" r="1.3"/><circle cx="343.9" cy="130.0" r="1.3"/><circle cx="344.4" cy="130.2" r="1.3"/><circle cx="345.0" cy="130.0" r="1.3"/><circle cx="345.5" cy="129.9" r="1.3"/><circle cx="346.1" cy="130.0" r="1.3"/><circle cx="346.6" cy="129.8" r="1.3"/><circle cx="347.2" cy="129.9" r="1.3"/><circle cx="347.7" cy="130.0" r="1.3"/><circle cx="348.2" cy="130.0" r="1.3"/><circle cx="348.8" cy="129.9" r="1.3"/><circle cx="341.9" cy="131.5" r="1.3"/><circle cx="342.2" cy="131.5" r="1.3"/><circle cx="342.6" cy="131.6" r="1.3"/><circle cx="343.0" cy="131.5" r="1.3"/><circle cx="343.4" cy="131.4" r="1.3"/><circle cx="343.7" cy="131.8" r="1.3"/><circle cx="344.1" cy="131.6" r="1.3"/><circle cx="344.5" cy="131.7" r="1.3"/><circle cx="344.9" cy="131.5" r="1.3"/><circle cx="345.2" cy="131.8" r="1.3"/><circle cx="345.6" cy="131.8" r="1.3"/><circle cx="346.0" cy="131.5" r="1.3"/><circle cx="346.4" cy="131.6" r="1.3"/><circle cx="346.7" cy="131.7" r="1.3"/><circle cx="347.1" cy="131.7" r="1.3"/><circle cx="347.5" cy="131.8" r="1.3"/><circle cx="347.9" cy="131.6" r="1.3"/><circle cx="348.2" cy="131.8" r="1.3"/><circle cx="348.6" cy="131.7" r="1.3"/><circle cx="349.0" cy="131.5" r="1.3"/><circle cx="349.4" cy="131.7" r="1.3"/><circle cx="349.7" cy="131.8" r="1.3"/><circle cx="341.3" cy="133.4" r="1.3"/><circle cx="341.7" cy="133.3" r="1.3"/><circle cx="342.1" cy="133.3" r="1.3"/><circle cx="342.5" cy="133.1" r="1.3"/><circle cx="342.9" cy="133.1" r="1.3"/><circle cx="343.3" cy="133.4" r="1.3"/><circle cx="343.6" cy="133.2" r="1.3"/><circle cx="344.0" cy="133.1" r="1.3"/><circle cx="344.4" cy="133.3" r="1.3"/><circle cx="344.8" cy="133.3" r="1.3"/><circle cx="345.2" cy="133.3" r="1.3"/><circle cx="345.6" cy="133.2" r="1.3"/><circle cx="346.0" cy="133.2" r="1.3"/><circle cx="346.4" cy="133.3" r="1.3"/><circle cx="346.8" cy="133.4" r="1.3"/><circle cx="347.2" cy="133.3" r="1.3"/><circle cx="347.6" cy="133.2" r="1.3"/><circle cx="348.0" cy="133.2" r="1.3"/><circle cx="348.3" cy="133.1" r="1.3"/><circle cx="348.7" cy="133.1" r="1.3"/><circle cx="349.1" cy="133.3" r="1.3"/><circle cx="349.5" cy="133.4" r="1.3"/><circle cx="349.9" cy="133.3" r="1.3"/><circle cx="350.3" cy="133.2" r="1.3"/><circle cx="340.9" cy="134.7" r="1.3"/><circle cx="341.3" cy="134.9" r="1.3"/><circle cx="341.6" cy="135.1" r="1.3"/><circle cx="342.0" cy="135.0" r="1.3"/><circle cx="342.4" cy="134.9" r="1.3"/><circle cx="342.8" cy="135.0" r="1.3"/><circle cx="343.2" cy="134.8" r="1.3"/><circle cx="343.5" cy="134.9" r="1.3"/><circle cx="343.9" cy="135.1" r="1.3"/><circle cx="344.3" cy="134.9" r="1.3"/><circle cx="344.7" cy="134.9" r="1.3"/><circle cx="345.0" cy="134.8" r="1.3"/><circle cx="345.4" cy="134.9" r="1.3"/><circle cx="345.8" cy="135.1" r="1.3"/><circle cx="346.2" cy="134.7" r="1.3"/><circle cx="346.6" cy="135.0" r="1.3"/><circle cx="346.9" cy="135.0" r="1.3"/><circle cx="347.3" cy="135.0" r="1.3"/><circle cx="347.7" cy="135.0" r="1.3"/><circle cx="348.1" cy="135.0" r="1.3"/><circle cx="348.4" cy="134.9" r="1.3"/><circle cx="348.8" cy="134.9" r="1.3"/><circle cx="349.2" cy="134.8" r="1.3"/><circle cx="349.6" cy="134.7" r="1.3"/><circle cx="350.0" cy="135.0" r="1.3"/><circle cx="350.3" cy="134.9" r="1.3"/><circle cx="350.7" cy="134.8" r="1.3"/><circle cx="341.0" cy="136.5" r="1.3"/><circle cx="341.3" cy="136.5" r="1.3"/><circle cx="341.6" cy="136.4" r="1.3"/><circle cx="341.9" cy="136.4" r="1.3"/><circle cx="342.2" cy="136.5" r="1.3"/><circle cx="342.5" cy="136.5" r="1.3"/><circle cx="342.8" cy="136.5" r="1.3"/><circle cx="343.1" cy="136.5" r="1.3"/><circle cx="343.5" cy="136.3" r="1.3"/><circle cx="343.8" cy="136.4" r="1.3"/><circle cx="344.1" cy="136.4" r="1.3"/><circle cx="344.4" cy="136.5" r="1.3"/><circle cx="344.7" cy="136.6" r="1.3"/><circle cx="345.0" cy="136.6" r="1.3"/><circle cx="345.3" cy="136.6" r="1.3"/><circle cx="345.6" cy="136.6" r="1.3"/><circle cx="346.0" cy="136.4" r="1.3"/><circle cx="346.3" cy="136.6" r="1.3"/><circle cx="346.6" cy="136.6" r="1.3"/><circle cx="346.9" cy="136.3" r="1.3"/><circle cx="347.2" cy="136.3" r="1.3"/><circle cx="347.5" cy="136.3" r="1.3"/><circle cx="347.8" cy="136.6" r="1.3"/><circle cx="348.1" cy="136.4" r="1.3"/><circle cx="348.5" cy="136.3" r="1.3"/><circle cx="348.8" cy="136.5" r="1.3"/><circle cx="349.1" cy="136.4" r="1.3"/><circle cx="349.4" cy="136.3" r="1.3"/><circle cx="349.7" cy="136.4" r="1.3"/><circle cx="350.0" cy="136.5" r="1.3"/><circle cx="350.3" cy="136.4" r="1.3"/><circle cx="350.6" cy="136.4" r="1.3"/><circle cx="342.0" cy="138.2" r="1.3"/><circle cx="342.5" cy="138.1" r="1.3"/><circle cx="342.9" cy="138.1" r="1.3"/><circle cx="343.4" cy="138.1" r="1.3"/><circle cx="343.9" cy="137.9" r="1.3"/><circle cx="344.4" cy="138.1" r="1.3"/><circle cx="344.8" cy="138.1" r="1.3"/><circle cx="345.3" cy="138.0" r="1.3"/><circle cx="345.8" cy="138.0" r="1.3"/><circle cx="346.3" cy="138.3" r="1.3"/><circle cx="346.8" cy="138.1" r="1.3"/><circle cx="347.2" cy="138.0" r="1.3"/><circle cx="347.7" cy="138.2" r="1.3"/><circle cx="348.2" cy="138.3" r="1.3"/><circle cx="348.7" cy="137.9" r="1.3"/><circle cx="349.1" cy="137.9" r="1.3"/><circle cx="349.6" cy="138.0" r="1.3"/><circle cx="342.9" cy="139.8" r="1.3"/><circle cx="343.5" cy="139.6" r="1.3"/><circle cx="344.1" cy="139.8" r="1.3"/><circle cx="344.7" cy="139.8" r="1.3"/><circle cx="345.2" cy="139.8" r="1.3"/><circle cx="345.8" cy="139.6" r="1.3"/><circle cx="346.4" cy="139.9" r="1.3"/><circle cx="346.9" cy="139.9" r="1.3"/><circle cx="347.5" cy="139.8" r="1.3"/><circle cx="348.1" cy="139.6" r="1.3"/><circle cx="348.7" cy="139.8" r="1.3"/><circle cx="343.4" cy="141.3" r="1.3"/><circle cx="343.9" cy="141.4" r="1.3"/><circle cx="344.3" cy="141.3" r="1.3"/><circle cx="344.7" cy="141.4" r="1.3"/><circle cx="345.2" cy="141.2" r="1.3"/><circle cx="345.6" cy="141.3" r="1.3"/><circle cx="346.0" cy="141.6" r="1.3"/><circle cx="346.4" cy="141.5" r="1.3"/><circle cx="346.9" cy="141.3" r="1.3"/><circle cx="347.3" cy="141.5" r="1.3"/><circle cx="347.7" cy="141.3" r="1.3"/><circle cx="348.2" cy="141.6" r="1.3"/><circle cx="344.2" cy="143.1" r="1.3"/><circle cx="345.3" cy="143.0" r="1.3"/><circle cx="346.3" cy="142.9" r="1.3"/><circle cx="347.4" cy="142.8" r="1.3"/><circle cx="344.8" cy="144.8" r="1.3"/><circle cx="346.8" cy="144.4" r="1.3"/><circle cx="344.9" cy="146.4" r="1.3"/><circle cx="345.8" cy="146.4" r="1.3"/><circle cx="346.7" cy="146.3" r="1.3"/><circle cx="345.1" cy="147.7" r="1.3"/><circle cx="346.5" cy="148.0" r="1.3"/></g>
<g fill="#cfcfcf" opacity="1.0"><circle cx="363.9" cy="113.9" r="1.3"/><circle cx="365.3" cy="113.9" r="1.3"/><circle cx="363.6" cy="116.8" r="1.3"/><circle cx="365.6" cy="116.8" r="1.3"/><circle cx="363.0" cy="118.8" r="1.3"/><circle cx="364.6" cy="118.7" r="1.3"/><circle cx="366.2" cy="118.7" r="1.3"/><circle cx="362.4" cy="120.2" r="1.3"/><circle cx="363.9" cy="120.3" r="1.3"/><circle cx="365.3" cy="120.3" r="1.3"/><circle cx="366.8" cy="120.3" r="1.3"/><circle cx="362.0" cy="121.7" r="1.3"/><circle cx="362.7" cy="121.8" r="1.3"/><circle cx="363.5" cy="121.8" r="1.3"/><circle cx="364.2" cy="122.0" r="1.3"/><circle cx="365.0" cy="122.1" r="1.3"/><circle cx="365.7" cy="122.1" r="1.3"/><circle cx="366.5" cy="121.9" r="1.3"/><circle cx="367.2" cy="121.9" r="1.3"/><circle cx="361.8" cy="123.4" r="1.3"/><circle cx="363.2" cy="123.3" r="1.3"/><circle cx="364.6" cy="123.3" r="1.3"/><circle cx="366.0" cy="123.5" r="1.3"/><circle cx="367.4" cy="123.4" r="1.3"/><circle cx="361.1" cy="125.1" r="1.3"/><circle cx="361.9" cy="125.3" r="1.3"/><circle cx="362.7" cy="125.1" r="1.3"/><circle cx="363.4" cy="125.1" r="1.3"/><circle cx="364.2" cy="125.0" r="1.3"/><circle cx="365.0" cy="124.9" r="1.3"/><circle cx="365.8" cy="125.1" r="1.3"/><circle cx="366.5" cy="125.0" r="1.3"/><circle cx="367.3" cy="125.1" r="1.3"/><circle cx="368.1" cy="125.3" r="1.3"/><circle cx="360.4" cy="126.8" r="1.3"/><circle cx="361.1" cy="126.6" r="1.3"/><circle cx="361.8" cy="126.9" r="1.3"/><circle cx="362.5" cy="126.9" r="1.3"/><circle cx="363.2" cy="126.8" r="1.3"/><circle cx="363.9" cy="126.9" r="1.3"/><circle cx="364.6" cy="126.9" r="1.3"/><circle cx="365.3" cy="126.9" r="1.3"/><circle cx="366.0" cy="126.7" r="1.3"/><circle cx="366.7" cy="126.9" r="1.3"/><circle cx="367.4" cy="126.9" r="1.3"/><circle cx="368.1" cy="126.6" r="1.3"/><circle cx="368.8" cy="126.9" r="1.3"/><circle cx="360.5" cy="128.5" r="1.3"/><circle cx="361.2" cy="128.4" r="1.3"/><circle cx="361.9" cy="128.4" r="1.3"/><circle cx="362.5" cy="128.4" r="1.3"/><circle cx="363.2" cy="128.5" r="1.3"/><circle cx="363.9" cy="128.4" r="1.3"/><circle cx="364.6" cy="128.5" r="1.3"/><circle cx="365.3" cy="128.3" r="1.3"/><circle cx="366.0" cy="128.5" r="1.3"/><circle cx="366.7" cy="128.5" r="1.3"/><circle cx="367.3" cy="128.4" r="1.3"/><circle cx="368.0" cy="128.4" r="1.3"/><circle cx="368.7" cy="128.5" r="1.3"/><circle cx="360.6" cy="130.1" r="1.3"/><circle cx="361.6" cy="130.0" r="1.3"/><circle cx="362.6" cy="129.9" r="1.3"/><circle cx="363.6" cy="129.9" r="1.3"/><circle cx="364.6" cy="130.1" r="1.3"/><circle cx="365.6" cy="129.9" r="1.3"/><circle cx="366.6" cy="130.2" r="1.3"/><circle cx="367.6" cy="129.9" r="1.3"/><circle cx="368.6" cy="130.2" r="1.3"/><circle cx="360.0" cy="131.5" r="1.3"/><circle cx="360.7" cy="131.8" r="1.3"/><circle cx="361.3" cy="131.7" r="1.3"/><circle cx="362.0" cy="131.6" r="1.3"/><circle cx="362.6" cy="131.6" r="1.3"/><circle cx="363.3" cy="131.7" r="1.3"/><circle cx="363.9" cy="131.7" r="1.3"/><circle cx="364.6" cy="131.5" r="1.3"/><circle cx="365.3" cy="131.5" r="1.3"/><circle cx="365.9" cy="131.6" r="1.3"/><circle cx="366.6" cy="131.8" r="1.3"/><circle cx="367.2" cy="131.7" r="1.3"/><circle cx="367.9" cy="131.5" r="1.3"/><circle cx="368.5" cy="131.8" r="1.3"/><circle cx="369.2" cy="131.7" r="1.3"/><circle cx="359.8" cy="133.4" r="1.3"/><circle cx="360.4" cy="133.1" r="1.3"/><circle cx="361.0" cy="133.3" r="1.3"/><circle cx="361.6" cy="133.1" r="1.3"/><circle cx="362.2" cy="133.3" r="1.3"/><circle cx="362.8" cy="133.2" r="1.3"/><circle cx="363.4" cy="133.1" r="1.3"/><circle cx="364.0" cy="133.4" r="1.3"/><circle cx="364.6" cy="133.1" r="1.3"/><circle cx="365.2" cy="133.3" r="1.3"/><circle cx="365.8" cy="133.4" r="1.3"/><circle cx="366.4" cy="133.1" r="1.3"/><circle cx="367.0" cy="133.1" r="1.3"/><circle cx="367.6" cy="133.4" r="1.3"/><circle cx="368.2" cy="133.2" r="1.3"/><circle cx="368.8" cy="133.3" r="1.3"/><circle cx="369.4" cy="133.1" r="1.3"/><circle cx="360.6" cy="134.8" r="1.3"/><circle cx="361.5" cy="134.7" r="1.3"/><circle cx="362.4" cy="134.9" r="1.3"/><circle cx="363.3" cy="134.7" r="1.3"/><circle cx="364.2" cy="135.1" r="1.3"/><circle cx="365.0" cy="134.7" r="1.3"/><circle cx="365.9" cy="135.0" r="1.3"/><circle cx="366.8" cy="134.7" r="1.3"/><circle cx="367.7" cy="134.8" r="1.3"/><circle cx="368.6" cy="135.0" r="1.3"/><circle cx="361.2" cy="136.4" r="1.3"/><circle cx="362.0" cy="136.4" r="1.3"/><circle cx="362.9" cy="136.6" r="1.3"/><circle cx="363.7" cy="136.5" r="1.3"/><circle cx="364.6" cy="136.3" r="1.3"/><circle cx="365.5" cy="136.7" r="1.3"/><circle cx="366.3" cy="136.4" r="1.3"/><circle cx="367.2" cy="136.3" r="1.3"/><circle cx="368.0" cy="136.4" r="1.3"/><circle cx="361.5" cy="138.2" r="1.3"/><circle cx="362.3" cy="138.2" r="1.3"/><circle cx="363.1" cy="138.0" r="1.3"/><circle cx="363.8" cy="138.1" r="1.3"/><circle cx="364.6" cy="137.9" r="1.3"/><circle cx="365.4" cy="138.1" r="1.3"/><circle cx="366.1" cy="138.2" r="1.3"/><circle cx="366.9" cy="138.2" r="1.3"/><circle cx="367.7" cy="138.3" r="1.3"/><circle cx="362.0" cy="139.9" r="1.3"/><circle cx="363.3" cy="139.9" r="1.3"/><circle cx="364.6" cy="139.8" r="1.3"/><circle cx="365.9" cy="139.7" r="1.3"/><circle cx="367.2" cy="139.6" r="1.3"/><circle cx="362.5" cy="141.4" r="1.3"/><circle cx="363.4" cy="141.3" r="1.3"/><circle cx="364.2" cy="141.2" r="1.3"/><circle cx="365.0" cy="141.4" r="1.3"/><circle cx="365.8" cy="141.5" r="1.3"/><circle cx="366.7" cy="141.2" r="1.3"/><circle cx="364.6" cy="143.0" r="1.3"/><circle cx="362.7" cy="144.6" r="1.3"/><circle cx="363.6" cy="144.6" r="1.3"/><circle cx="364.6" cy="144.5" r="1.3"/><circle cx="365.6" cy="144.8" r="1.3"/><circle cx="366.5" cy="144.5" r="1.3"/><circle cx="362.7" cy="146.3" r="1.3"/><circle cx="363.6" cy="146.2" r="1.3"/><circle cx="364.6" cy="146.1" r="1.3"/><circle cx="365.6" cy="146.3" r="1.3"/><circle cx="366.5" cy="146.1" r="1.3"/><circle cx="364.6" cy="147.7" r="1.3"/><circle cx="363.8" cy="149.3" r="1.3"/><circle cx="365.4" cy="149.4" r="1.3"/></g>
<g fill="#f6c414" opacity="1.0"><circle cx="383.6" cy="123.4" r="1.3"/><circle cx="383.6" cy="125.1" r="1.3"/><circle cx="383.6" cy="126.7" r="1.3"/><circle cx="382.6" cy="128.4" r="1.3"/><circle cx="384.6" cy="128.4" r="1.3"/><circle cx="380.6" cy="129.8" r="1.3"/><circle cx="382.6" cy="129.8" r="1.3"/><circle cx="384.6" cy="130.1" r="1.3"/><circle cx="386.6" cy="129.9" r="1.3"/><circle cx="380.2" cy="131.5" r="1.3"/><circle cx="381.9" cy="131.8" r="1.3"/><circle cx="383.6" cy="131.6" r="1.3"/><circle cx="385.3" cy="131.8" r="1.3"/><circle cx="387.0" cy="131.6" r="1.3"/><circle cx="382.6" cy="133.3" r="1.3"/><circle cx="384.6" cy="133.1" r="1.3"/><circle cx="382.6" cy="134.9" r="1.3"/><circle cx="384.6" cy="135.0" r="1.3"/><circle cx="379.7" cy="136.5" r="1.3"/><circle cx="381.6" cy="136.6" r="1.3"/><circle cx="383.6" cy="136.6" r="1.3"/><circle cx="385.6" cy="136.3" r="1.3"/><circle cx="387.5" cy="136.6" r="1.3"/><circle cx="378.6" cy="138.2" r="1.3"/><circle cx="380.0" cy="138.0" r="1.3"/><circle cx="381.5" cy="137.9" r="1.3"/><circle cx="382.9" cy="138.3" r="1.3"/><circle cx="384.3" cy="138.1" r="1.3"/><circle cx="385.7" cy="138.2" r="1.3"/><circle cx="387.2" cy="138.3" r="1.3"/><circle cx="388.6" cy="138.2" r="1.3"/><circle cx="378.9" cy="139.9" r="1.3"/><circle cx="380.5" cy="139.7" r="1.3"/><circle cx="382.0" cy="139.9" r="1.3"/><circle cx="383.6" cy="139.7" r="1.3"/><circle cx="385.2" cy="139.9" r="1.3"/><circle cx="386.7" cy="139.9" r="1.3"/><circle cx="388.3" cy="139.6" r="1.3"/><circle cx="380.6" cy="141.2" r="1.3"/><circle cx="382.6" cy="141.3" r="1.3"/><circle cx="384.6" cy="141.6" r="1.3"/><circle cx="386.6" cy="141.3" r="1.3"/><circle cx="380.2" cy="143.1" r="1.3"/><circle cx="381.9" cy="142.9" r="1.3"/><circle cx="383.6" cy="143.0" r="1.3"/><circle cx="385.3" cy="143.0" r="1.3"/><circle cx="387.0" cy="142.9" r="1.3"/><circle cx="382.6" cy="144.7" r="1.3"/><circle cx="384.6" cy="144.7" r="1.3"/><circle cx="382.6" cy="146.4" r="1.3"/><circle cx="384.6" cy="146.3" r="1.3"/><circle cx="382.6" cy="148.0" r="1.3"/><circle cx="384.6" cy="148.0" r="1.3"/><circle cx="383.6" cy="149.7" r="1.3"/><circle cx="383.6" cy="151.2" r="1.3"/></g>
<g fill="#b8860b" opacity="1.0"><circle cx="401.6" cy="112.0" r="1.3"/><circle cx="403.6" cy="112.0" r="1.3"/><circle cx="401.6" cy="113.7" r="1.3"/><circle cx="403.6" cy="113.6" r="1.3"/><circle cx="402.6" cy="116.8" r="1.3"/><circle cx="398.9" cy="118.6" r="1.3"/><circle cx="400.8" cy="118.8" r="1.3"/><circle cx="402.6" cy="118.7" r="1.3"/><circle cx="404.4" cy="118.7" r="1.3"/><circle cx="406.3" cy="118.5" r="1.3"/><circle cx="398.3" cy="120.3" r="1.3"/><circle cx="399.8" cy="120.2" r="1.3"/><circle cx="401.2" cy="120.1" r="1.3"/><circle cx="402.6" cy="120.1" r="1.3"/><circle cx="404.0" cy="120.1" r="1.3"/><circle cx="405.4" cy="120.4" r="1.3"/><circle cx="406.9" cy="120.4" r="1.3"/><circle cx="400.6" cy="122.0" r="1.3"/><circle cx="402.6" cy="122.0" r="1.3"/><circle cx="404.6" cy="121.8" r="1.3"/><circle cx="399.7" cy="123.4" r="1.3"/><circle cx="401.6" cy="123.6" r="1.3"/><circle cx="403.6" cy="123.6" r="1.3"/><circle cx="405.5" cy="123.6" r="1.3"/><circle cx="401.6" cy="125.3" r="1.3"/><circle cx="403.6" cy="125.0" r="1.3"/><circle cx="400.6" cy="126.8" r="1.3"/><circle cx="402.6" cy="126.8" r="1.3"/><circle cx="404.6" cy="126.8" r="1.3"/><circle cx="402.6" cy="128.2" r="1.3"/><circle cx="399.2" cy="130.0" r="1.3"/><circle cx="400.3" cy="129.8" r="1.3"/><circle cx="401.5" cy="130.2" r="1.3"/><circle cx="402.6" cy="130.1" r="1.3"/><circle cx="403.7" cy="130.0" r="1.3"/><circle cx="404.9" cy="129.9" r="1.3"/><circle cx="406.0" cy="130.2" r="1.3"/><circle cx="402.6" cy="131.7" r="1.3"/><circle cx="402.6" cy="133.4" r="1.3"/><circle cx="402.6" cy="138.3" r="1.3"/><circle cx="402.6" cy="139.8" r="1.3"/></g>
<line x1="345.80" y1="140.30" x2="345.80" y2="130.30" stroke="#0a0a0a" stroke-width="0.9" />
<line x1="339.80" y1="135.30" x2="351.80" y2="135.30" stroke="#0a0a0a" stroke-width="1.3" />
<line x1="342.80" y1="140.30" x2="348.80" y2="140.30" stroke="#0a0a0a" stroke-width="0.9" />
<line x1="342.80" y1="130.30" x2="348.80" y2="130.30" stroke="#0a0a0a" stroke-width="0.9" />
<line x1="364.60" y1="138.39" x2="364.60" y2="123.32" stroke="#0a0a0a" stroke-width="0.9" />
<line x1="358.60" y1="130.95" x2="370.60" y2="130.95" stroke="#0a0a0a" stroke-width="1.3" />
<line x1="361.60" y1="138.39" x2="367.60" y2="138.39" stroke="#0a0a0a" stroke-width="0.9" />
<line x1="361.60" y1="123.32" x2="367.60" y2="123.32" stroke="#0a0a0a" stroke-width="0.9" />
<line x1="383.60" y1="142.29" x2="383.60" y2="130.48" stroke="#0a0a0a" stroke-width="0.9" />
<line x1="377.60" y1="136.71" x2="389.60" y2="136.71" stroke="#0a0a0a" stroke-width="1.3" />
<line x1="380.60" y1="142.29" x2="386.60" y2="142.29" stroke="#0a0a0a" stroke-width="0.9" />
<line x1="380.60" y1="130.48" x2="386.60" y2="130.48" stroke="#0a0a0a" stroke-width="0.9" />
<line x1="402.60" y1="129.27" x2="402.60" y2="116.25" stroke="#0a0a0a" stroke-width="0.9" />
<line x1="396.60" y1="123.13" x2="408.60" y2="123.13" stroke="#0a0a0a" stroke-width="1.3" />
<line x1="399.60" y1="129.27" x2="405.60" y2="129.27" stroke="#0a0a0a" stroke-width="0.9" />
<line x1="399.60" y1="116.25" x2="405.60" y2="116.25" stroke="#0a0a0a" stroke-width="0.9" />
<path d="M345.80 82.40 V76.30 H383.20 V82.40" fill="none" stroke="#111" stroke-width="1.8" stroke-linejoin="miter"/>
<text x="364.50" y="71.80" font-size="8.0" text-anchor="middle" fill="#222" stroke="#222" stroke-width="0.18" >ns</text>
<path d="M364.80 60.00 V53.70 H402.20 V60.00" fill="none" stroke="#111" stroke-width="1.8" stroke-linejoin="miter"/>
<text x="383.50" y="53.40" font-size="15.5" text-anchor="middle" fill="#222" font-weight="bold" textLength="21.60" lengthAdjust="spacingAndGlyphs" >****</text>
<text transform="translate(310.1,106.2) rotate(-90)" font-size="7.5" font-weight="bold" text-anchor="middle" fill="#111">ALK1 Signaling Index (ASI)</text>
<text x="301.20" y="171.60" font-size="8.0" text-anchor="middle" fill="#222" stroke="#222" stroke-width="0.18" >Shear stress</text>
<text x="301.20" y="183.40" font-size="8.0" text-anchor="middle" fill="#222" stroke="#222" stroke-width="0.18" >Confluent (Con)/</text>
<text x="300.80" y="194.40" font-size="8.0" text-anchor="middle" fill="#222" stroke="#222" stroke-width="0.18" >Sub-Confluent (Sub)</text>
<text x="301.20" y="211.40" font-size="8.0" text-anchor="middle" fill="#222" stroke="#222" stroke-width="0.18" >BMP9</text>
<text x="301.80" y="233.80" font-size="8.0" text-anchor="middle" fill="#222" stroke="#222" stroke-width="0.18" >N =</text>
<text x="357.20" y="194.40" font-size="8.0" text-anchor="middle" fill="#222" stroke="#222" stroke-width="0.18" >Con</text>
<text x="393.60" y="194.40" font-size="8.0" text-anchor="middle" fill="#222" stroke="#222" stroke-width="0.18" >Sub</text>
<line x1="342.40" y1="199.90" x2="373.00" y2="199.90" stroke="#111" stroke-width="1.6" />
<line x1="377.80" y1="199.90" x2="409.40" y2="199.90" stroke="#111" stroke-width="1.6" />
<text x="376.00" y="211.40" font-size="8.0" text-anchor="middle" fill="#222" stroke="#222" stroke-width="0.18" >0</text>
<line x1="342.40" y1="216.80" x2="409.40" y2="216.80" stroke="#111" stroke-width="1.6" />
<text x="348.50" y="233.90" font-size="8.0" text-anchor="middle" fill="#222" stroke="#222" stroke-width="0.18" >187</text>
<text x="366.40" y="233.90" font-size="8.0" text-anchor="middle" fill="#222" stroke="#222" stroke-width="0.18" >154</text>
<text x="384.20" y="233.90" font-size="8.0" text-anchor="middle" fill="#222" stroke="#222" stroke-width="0.18" >55</text>
<text x="404.00" y="233.90" font-size="8.0" text-anchor="middle" fill="#222" stroke="#222" stroke-width="0.18" >41</text>
<line x1="436.70" y1="53.90" x2="436.70" y2="157.35" stroke="#111" stroke-width="1.3" />
<line x1="435.10" y1="156.70" x2="519.50" y2="156.70" stroke="#111" stroke-width="1.3" />
<line x1="432.70" y1="147.50" x2="436.70" y2="147.50" stroke="#111" stroke-width="1.1" />
<text x="432.10" y="150.10" font-size="7.5" text-anchor="end" fill="#111" font-weight="bold" >0.4</text>
<line x1="434.30" y1="138.20" x2="436.70" y2="138.20" stroke="#111" stroke-width="0.9" />
<line x1="432.70" y1="128.90" x2="436.70" y2="128.90" stroke="#111" stroke-width="1.1" />
<text x="432.10" y="131.50" font-size="7.5" text-anchor="end" fill="#111" font-weight="bold" >0.5</text>
<line x1="434.30" y1="119.60" x2="436.70" y2="119.60" stroke="#111" stroke-width="0.9" />
<line x1="432.70" y1="110.30" x2="436.70" y2="110.30" stroke="#111" stroke-width="1.1" />
<text x="432.10" y="112.90" font-size="7.5" text-anchor="end" fill="#111" font-weight="bold" >0.6</text>
<line x1="434.30" y1="101.00" x2="436.70" y2="101.00" stroke="#111" stroke-width="0.9" />
<line x1="432.70" y1="91.70" x2="436.70" y2="91.70" stroke="#111" stroke-width="1.1" />
<text x="432.10" y="94.30" font-size="7.5" text-anchor="end" fill="#111" font-weight="bold" >0.7</text>
<line x1="434.30" y1="82.40" x2="436.70" y2="82.40" stroke="#111" stroke-width="0.9" />
<line x1="432.70" y1="73.10" x2="436.70" y2="73.10" stroke="#111" stroke-width="1.1" />
<text x="432.10" y="75.70" font-size="7.5" text-anchor="end" fill="#111" font-weight="bold" >0.8</text>
<line x1="434.30" y1="63.80" x2="436.70" y2="63.80" stroke="#111" stroke-width="0.9" />
<line x1="432.70" y1="54.50" x2="436.70" y2="54.50" stroke="#111" stroke-width="1.1" />
<text x="432.10" y="57.10" font-size="7.5" text-anchor="end" fill="#111" font-weight="bold" >0.9</text>
<line x1="449.40" y1="156.70" x2="449.40" y2="161.00" stroke="#111" stroke-width="1.0" />
<text x="450.00" y="172.10" font-size="8.0" text-anchor="middle" fill="#222" stroke="#222" stroke-width="0.18" >0</text>
<line x1="468.60" y1="156.70" x2="468.60" y2="161.00" stroke="#111" stroke-width="1.0" />
<text x="468.40" y="172.10" font-size="8.0" text-anchor="middle" fill="#222" stroke="#222" stroke-width="0.18" >19</text>
<line x1="487.40" y1="156.70" x2="487.40" y2="161.00" stroke="#111" stroke-width="1.0" />
<text x="488.00" y="172.10" font-size="8.0" text-anchor="middle" fill="#222" stroke="#222" stroke-width="0.18" >0</text>
<line x1="506.20" y1="156.70" x2="506.20" y2="161.00" stroke="#111" stroke-width="1.0" />
<text x="506.60" y="172.10" font-size="8.0" text-anchor="middle" fill="#222" stroke="#222" stroke-width="0.18" >19</text>
<g fill="#0b7a2f" opacity="1.0"><circle cx="449.4" cy="121.9" r="1.3"/><circle cx="448.4" cy="123.6" r="1.3"/><circle cx="450.4" cy="123.6" r="1.3"/><circle cx="447.8" cy="125.3" r="1.3"/><circle cx="448.6" cy="125.2" r="1.3"/><circle cx="449.4" cy="125.3" r="1.3"/><circle cx="450.2" cy="124.9" r="1.3"/><circle cx="451.0" cy="125.1" r="1.3"/><circle cx="447.4" cy="126.9" r="1.3"/><circle cx="448.7" cy="126.8" r="1.3"/><circle cx="450.1" cy="126.9" r="1.3"/><circle cx="451.4" cy="126.6" r="1.3"/><circle cx="446.7" cy="128.4" r="1.3"/><circle cx="447.3" cy="128.3" r="1.3"/><circle cx="447.9" cy="128.4" r="1.3"/><circle cx="448.5" cy="128.4" r="1.3"/><circle cx="449.1" cy="128.2" r="1.3"/><circle cx="449.7" cy="128.3" r="1.3"/><circle cx="450.3" cy="128.3" r="1.3"/><circle cx="450.9" cy="128.5" r="1.3"/><circle cx="451.5" cy="128.5" r="1.3"/><circle cx="452.1" cy="128.2" r="1.3"/><circle cx="445.9" cy="130.1" r="1.3"/><circle cx="446.6" cy="129.9" r="1.3"/><circle cx="447.3" cy="130.0" r="1.3"/><circle cx="448.0" cy="129.9" r="1.3"/><circle cx="448.7" cy="129.8" r="1.3"/><circle cx="449.4" cy="130.1" r="1.3"/><circle cx="450.1" cy="129.9" r="1.3"/><circle cx="450.8" cy="129.9" r="1.3"/><circle cx="451.5" cy="130.2" r="1.3"/><circle cx="452.2" cy="130.1" r="1.3"/><circle cx="452.9" cy="129.9" r="1.3"/><circle cx="445.2" cy="131.8" r="1.3"/><circle cx="445.7" cy="131.6" r="1.3"/><circle cx="446.3" cy="131.7" r="1.3"/><circle cx="446.8" cy="131.5" r="1.3"/><circle cx="447.3" cy="131.8" r="1.3"/><circle cx="447.8" cy="131.7" r="1.3"/><circle cx="448.4" cy="131.8" r="1.3"/><circle cx="448.9" cy="131.8" r="1.3"/><circle cx="449.4" cy="131.5" r="1.3"/><circle cx="449.9" cy="131.6" r="1.3"/><circle cx="450.4" cy="131.5" r="1.3"/><circle cx="451.0" cy="131.5" r="1.3"/><circle cx="451.5" cy="131.5" r="1.3"/><circle cx="452.0" cy="131.5" r="1.3"/><circle cx="452.5" cy="131.7" r="1.3"/><circle cx="453.1" cy="131.4" r="1.3"/><circle cx="453.6" cy="131.7" r="1.3"/><circle cx="444.7" cy="133.2" r="1.3"/><circle cx="445.2" cy="133.2" r="1.3"/><circle cx="445.8" cy="133.4" r="1.3"/><circle cx="446.3" cy="133.2" r="1.3"/><circle cx="446.8" cy="133.2" r="1.3"/><circle cx="447.3" cy="133.2" r="1.3"/><circle cx="447.8" cy="133.3" r="1.3"/><circle cx="448.4" cy="133.1" r="1.3"/><circle cx="448.9" cy="133.4" r="1.3"/><circle cx="449.4" cy="133.1" r="1.3"/><circle cx="449.9" cy="133.3" r="1.3"/><circle cx="450.4" cy="133.4" r="1.3"/><circle cx="451.0" cy="133.1" r="1.3"/><circle cx="451.5" cy="133.4" r="1.3"/><circle cx="452.0" cy="133.2" r="1.3"/><circle cx="452.5" cy="133.3" r="1.3"/><circle cx="453.0" cy="133.1" r="1.3"/><circle cx="453.6" cy="133.1" r="1.3"/><circle cx="454.1" cy="133.1" r="1.3"/><circle cx="444.4" cy="135.1" r="1.3"/><circle cx="444.9" cy="134.8" r="1.3"/><circle cx="445.4" cy="135.0" r="1.3"/><circle cx="446.0" cy="135.0" r="1.3"/><circle cx="446.5" cy="135.1" r="1.3"/><circle cx="447.0" cy="134.8" r="1.3"/><circle cx="447.5" cy="134.8" r="1.3"/><circle cx="448.1" cy="134.9" r="1.3"/><circle cx="448.6" cy="135.0" r="1.3"/><circle cx="449.1" cy="134.7" r="1.3"/><circle cx="449.7" cy="135.0" r="1.3"/><circle cx="450.2" cy="135.0" r="1.3"/><circle cx="450.7" cy="135.0" r="1.3"/><circle cx="451.3" cy="134.7" r="1.3"/><circle cx="451.8" cy="135.1" r="1.3"/><circle cx="452.3" cy="134.7" r="1.3"/><circle cx="452.8" cy="134.8" r="1.3"/><circle cx="453.4" cy="134.9" r="1.3"/><circle cx="453.9" cy="135.0" r="1.3"/><circle cx="454.4" cy="134.8" r="1.3"/><circle cx="444.1" cy="136.7" r="1.3"/><circle cx="444.6" cy="136.5" r="1.3"/><circle cx="445.0" cy="136.4" r="1.3"/><circle cx="445.5" cy="136.4" r="1.3"/><circle cx="445.9" cy="136.4" r="1.3"/><circle cx="446.4" cy="136.3" r="1.3"/><circle cx="446.9" cy="136.4" r="1.3"/><circle cx="447.3" cy="136.6" r="1.3"/><circle cx="447.8" cy="136.7" r="1.3"/><circle cx="448.2" cy="136.4" r="1.3"/><circle cx="448.7" cy="136.3" r="1.3"/><circle cx="449.2" cy="136.7" r="1.3"/><circle cx="449.6" cy="136.5" r="1.3"/><circle cx="450.1" cy="136.5" r="1.3"/><circle cx="450.6" cy="136.4" r="1.3"/><circle cx="451.0" cy="136.5" r="1.3"/><circle cx="451.5" cy="136.6" r="1.3"/><circle cx="451.9" cy="136.5" r="1.3"/><circle cx="452.4" cy="136.5" r="1.3"/><circle cx="452.9" cy="136.3" r="1.3"/><circle cx="453.3" cy="136.7" r="1.3"/><circle cx="453.8" cy="136.3" r="1.3"/><circle cx="454.2" cy="136.5" r="1.3"/><circle cx="454.7" cy="136.6" r="1.3"/><circle cx="444.3" cy="138.0" r="1.3"/><circle cx="444.8" cy="138.2" r="1.3"/><circle cx="445.2" cy="138.3" r="1.3"/><circle cx="445.7" cy="138.2" r="1.3"/><circle cx="446.1" cy="138.2" r="1.3"/><circle cx="446.5" cy="138.0" r="1.3"/><circle cx="447.0" cy="138.1" r="1.3"/><circle cx="447.4" cy="138.0" r="1.3"/><circle cx="447.9" cy="138.3" r="1.3"/><circle cx="448.3" cy="138.0" r="1.3"/><circle cx="448.7" cy="138.1" r="1.3"/><circle cx="449.2" cy="138.3" r="1.3"/><circle cx="449.6" cy="138.3" r="1.3"/><circle cx="450.1" cy="138.3" r="1.3"/><circle cx="450.5" cy="138.1" r="1.3"/><circle cx="450.9" cy="138.1" r="1.3"/><circle cx="451.4" cy="138.2" r="1.3"/><circle cx="451.8" cy="138.1" r="1.3"/><circle cx="452.3" cy="138.0" r="1.3"/><circle cx="452.7" cy="138.1" r="1.3"/><circle cx="453.1" cy="138.0" r="1.3"/><circle cx="453.6" cy="138.1" r="1.3"/><circle cx="454.0" cy="138.3" r="1.3"/><circle cx="454.5" cy="138.3" r="1.3"/><circle cx="445.6" cy="139.8" r="1.3"/><circle cx="446.3" cy="139.7" r="1.3"/><circle cx="447.0" cy="139.7" r="1.3"/><circle cx="447.7" cy="139.6" r="1.3"/><circle cx="448.4" cy="139.7" r="1.3"/><circle cx="449.1" cy="139.9" r="1.3"/><circle cx="449.7" cy="139.9" r="1.3"/><circle cx="450.4" cy="139.7" r="1.3"/><circle cx="451.1" cy="139.9" r="1.3"/><circle cx="451.8" cy="139.9" r="1.3"/><circle cx="452.5" cy="139.8" r="1.3"/><circle cx="453.2" cy="139.8" r="1.3"/><circle cx="446.7" cy="141.5" r="1.3"/><circle cx="447.5" cy="141.3" r="1.3"/><circle cx="448.2" cy="141.5" r="1.3"/><circle cx="449.0" cy="141.3" r="1.3"/><circle cx="449.8" cy="141.4" r="1.3"/><circle cx="450.6" cy="141.5" r="1.3"/><circle cx="451.3" cy="141.5" r="1.3"/><circle cx="452.1" cy="141.3" r="1.3"/><circle cx="447.4" cy="143.2" r="1.3"/><circle cx="448.2" cy="143.1" r="1.3"/><circle cx="449.0" cy="143.0" r="1.3"/><circle cx="449.8" cy="142.8" r="1.3"/><circle cx="450.6" cy="143.0" r="1.3"/><circle cx="451.4" cy="142.9" r="1.3"/><circle cx="448.0" cy="144.7" r="1.3"/><circle cx="449.4" cy="144.6" r="1.3"/><circle cx="450.8" cy="144.8" r="1.3"/><circle cx="449.4" cy="146.3" r="1.3"/></g>
<g fill="#cfcfcf" opacity="1.0"><circle cx="468.6" cy="94.4" r="1.3"/><circle cx="468.6" cy="97.6" r="1.3"/><circle cx="467.6" cy="99.1" r="1.3"/><circle cx="469.6" cy="99.0" r="1.3"/><circle cx="466.9" cy="100.6" r="1.3"/><circle cx="468.0" cy="100.8" r="1.3"/><circle cx="469.2" cy="100.7" r="1.3"/><circle cx="470.3" cy="100.9" r="1.3"/><circle cx="466.8" cy="102.3" r="1.3"/><circle cx="467.7" cy="102.5" r="1.3"/><circle cx="468.6" cy="102.3" r="1.3"/><circle cx="469.5" cy="102.5" r="1.3"/><circle cx="470.4" cy="102.5" r="1.3"/><circle cx="467.6" cy="104.0" r="1.3"/><circle cx="469.6" cy="104.0" r="1.3"/><circle cx="466.4" cy="105.7" r="1.3"/><circle cx="467.5" cy="105.5" r="1.3"/><circle cx="468.6" cy="105.6" r="1.3"/><circle cx="469.7" cy="105.7" r="1.3"/><circle cx="470.8" cy="105.5" r="1.3"/><circle cx="465.5" cy="107.4" r="1.3"/><circle cx="466.2" cy="107.3" r="1.3"/><circle cx="466.9" cy="107.4" r="1.3"/><circle cx="467.6" cy="107.2" r="1.3"/><circle cx="468.3" cy="107.1" r="1.3"/><circle cx="468.9" cy="107.4" r="1.3"/><circle cx="469.6" cy="107.4" r="1.3"/><circle cx="470.3" cy="107.2" r="1.3"/><circle cx="471.0" cy="107.1" r="1.3"/><circle cx="471.7" cy="107.1" r="1.3"/><circle cx="465.3" cy="108.9" r="1.3"/><circle cx="465.9" cy="108.8" r="1.3"/><circle cx="466.6" cy="109.1" r="1.3"/><circle cx="467.3" cy="108.9" r="1.3"/><circle cx="467.9" cy="108.8" r="1.3"/><circle cx="468.6" cy="108.9" r="1.3"/><circle cx="469.3" cy="108.8" r="1.3"/><circle cx="469.9" cy="109.0" r="1.3"/><circle cx="470.6" cy="109.0" r="1.3"/><circle cx="471.3" cy="108.9" r="1.3"/><circle cx="471.9" cy="108.9" r="1.3"/><circle cx="465.4" cy="110.6" r="1.3"/><circle cx="466.3" cy="110.6" r="1.3"/><circle cx="467.2" cy="110.7" r="1.3"/><circle cx="468.1" cy="110.3" r="1.3"/><circle cx="469.1" cy="110.4" r="1.3"/><circle cx="470.0" cy="110.5" r="1.3"/><circle cx="470.9" cy="110.4" r="1.3"/><circle cx="471.8" cy="110.5" r="1.3"/><circle cx="464.9" cy="112.0" r="1.3"/><circle cx="465.6" cy="112.3" r="1.3"/><circle cx="466.4" cy="112.1" r="1.3"/><circle cx="467.1" cy="112.0" r="1.3"/><circle cx="467.9" cy="112.2" r="1.3"/><circle cx="468.6" cy="112.0" r="1.3"/><circle cx="469.3" cy="112.0" r="1.3"/><circle cx="470.1" cy="112.1" r="1.3"/><circle cx="470.8" cy="112.0" r="1.3"/><circle cx="471.6" cy="112.0" r="1.3"/><circle cx="472.3" cy="112.3" r="1.3"/><circle cx="464.5" cy="113.8" r="1.3"/><circle cx="465.1" cy="113.6" r="1.3"/><circle cx="465.6" cy="113.9" r="1.3"/><circle cx="466.2" cy="113.6" r="1.3"/><circle cx="466.7" cy="113.7" r="1.3"/><circle cx="467.2" cy="113.9" r="1.3"/><circle cx="467.8" cy="113.8" r="1.3"/><circle cx="468.3" cy="113.7" r="1.3"/><circle cx="468.9" cy="113.7" r="1.3"/><circle cx="469.4" cy="113.7" r="1.3"/><circle cx="470.0" cy="113.6" r="1.3"/><circle cx="470.5" cy="113.9" r="1.3"/><circle cx="471.0" cy="113.6" r="1.3"/><circle cx="471.6" cy="113.7" r="1.3"/><circle cx="472.1" cy="113.8" r="1.3"/><circle cx="472.7" cy="113.7" r="1.3"/><circle cx="464.8" cy="115.6" r="1.3"/><circle cx="465.6" cy="115.3" r="1.3"/><circle cx="466.5" cy="115.6" r="1.3"/><circle cx="467.3" cy="115.5" r="1.3"/><circle cx="468.2" cy="115.4" r="1.3"/><circle cx="469.0" cy="115.5" r="1.3"/><circle cx="469.9" cy="115.4" r="1.3"/><circle cx="470.7" cy="115.5" r="1.3"/><circle cx="471.6" cy="115.5" r="1.3"/><circle cx="472.4" cy="115.4" r="1.3"/><circle cx="465.1" cy="117.0" r="1.3"/><circle cx="465.8" cy="117.1" r="1.3"/><circle cx="466.4" cy="117.0" r="1.3"/><circle cx="467.0" cy="116.8" r="1.3"/><circle cx="467.7" cy="117.1" r="1.3"/><circle cx="468.3" cy="116.9" r="1.3"/><circle cx="468.9" cy="117.0" r="1.3"/><circle cx="469.5" cy="117.1" r="1.3"/><circle cx="470.2" cy="116.9" r="1.3"/><circle cx="470.8" cy="116.8" r="1.3"/><circle cx="471.4" cy="116.8" r="1.3"/><circle cx="472.1" cy="117.0" r="1.3"/><circle cx="464.8" cy="118.6" r="1.3"/><circle cx="465.9" cy="118.5" r="1.3"/><circle cx="467.0" cy="118.6" r="1.3"/><circle cx="468.1" cy="118.8" r="1.3"/><circle cx="469.1" cy="118.5" r="1.3"/><circle cx="470.2" cy="118.6" r="1.3"/><circle cx="471.3" cy="118.8" r="1.3"/><circle cx="472.4" cy="118.7" r="1.3"/><circle cx="464.6" cy="120.2" r="1.3"/><circle cx="465.1" cy="120.2" r="1.3"/><circle cx="465.5" cy="120.2" r="1.3"/><circle cx="466.0" cy="120.1" r="1.3"/><circle cx="466.4" cy="120.2" r="1.3"/><circle cx="466.8" cy="120.2" r="1.3"/><circle cx="467.3" cy="120.4" r="1.3"/><circle cx="467.7" cy="120.2" r="1.3"/><circle cx="468.2" cy="120.3" r="1.3"/><circle cx="468.6" cy="120.4" r="1.3"/><circle cx="469.0" cy="120.4" r="1.3"/><circle cx="469.5" cy="120.2" r="1.3"/><circle cx="469.9" cy="120.3" r="1.3"/><circle cx="470.4" cy="120.2" r="1.3"/><circle cx="470.8" cy="120.2" r="1.3"/><circle cx="471.2" cy="120.2" r="1.3"/><circle cx="471.7" cy="120.4" r="1.3"/><circle cx="472.1" cy="120.4" r="1.3"/><circle cx="472.6" cy="120.2" r="1.3"/><circle cx="465.4" cy="121.7" r="1.3"/><circle cx="467.0" cy="121.9" r="1.3"/><circle cx="468.6" cy="121.7" r="1.3"/><circle cx="470.2" cy="121.7" r="1.3"/><circle cx="471.8" cy="122.0" r="1.3"/><circle cx="465.9" cy="123.3" r="1.3"/><circle cx="466.7" cy="123.6" r="1.3"/><circle cx="467.5" cy="123.4" r="1.3"/><circle cx="468.2" cy="123.7" r="1.3"/><circle cx="469.0" cy="123.6" r="1.3"/><circle cx="469.7" cy="123.3" r="1.3"/><circle cx="470.5" cy="123.4" r="1.3"/><circle cx="471.3" cy="123.7" r="1.3"/><circle cx="466.1" cy="125.2" r="1.3"/><circle cx="466.8" cy="125.1" r="1.3"/><circle cx="467.5" cy="125.2" r="1.3"/><circle cx="468.2" cy="125.3" r="1.3"/><circle cx="469.0" cy="125.1" r="1.3"/><circle cx="469.7" cy="125.1" r="1.3"/><circle cx="470.4" cy="125.0" r="1.3"/><circle cx="471.1" cy="125.1" r="1.3"/><circle cx="466.8" cy="126.6" r="1.3"/><circle cx="468.6" cy="126.8" r="1.3"/><circle cx="470.4" cy="126.8" r="1.3"/><circle cx="467.2" cy="128.2" r="1.3"/><circle cx="468.6" cy="128.4" r="1.3"/><circle cx="470.0" cy="128.2" r="1.3"/><circle cx="467.3" cy="129.8" r="1.3"/><circle cx="468.6" cy="130.1" r="1.3"/><circle cx="469.9" cy="130.0" r="1.3"/><circle cx="468.6" cy="131.8" r="1.3"/><circle cx="468.6" cy="133.3" r="1.3"/><circle cx="467.6" cy="135.0" r="1.3"/><circle cx="468.6" cy="134.7" r="1.3"/><circle cx="469.6" cy="135.0" r="1.3"/><circle cx="468.6" cy="138.0" r="1.3"/><circle cx="468.6" cy="139.8" r="1.3"/></g>
<g fill="#f6c414" opacity="1.0"><circle cx="487.4" cy="121.8" r="1.3"/><circle cx="487.4" cy="125.0" r="1.3"/><circle cx="486.4" cy="126.8" r="1.3"/><circle cx="488.4" cy="126.6" r="1.3"/><circle cx="485.4" cy="128.4" r="1.3"/><circle cx="486.7" cy="128.3" r="1.3"/><circle cx="488.1" cy="128.2" r="1.3"/><circle cx="489.4" cy="128.4" r="1.3"/><circle cx="486.4" cy="129.8" r="1.3"/><circle cx="488.4" cy="130.0" r="1.3"/><circle cx="485.4" cy="131.5" r="1.3"/><circle cx="487.4" cy="131.5" r="1.3"/><circle cx="489.4" cy="131.6" r="1.3"/><circle cx="483.9" cy="133.4" r="1.3"/><circle cx="484.9" cy="133.1" r="1.3"/><circle cx="485.9" cy="133.1" r="1.3"/><circle cx="486.9" cy="133.3" r="1.3"/><circle cx="487.9" cy="133.4" r="1.3"/><circle cx="488.9" cy="133.3" r="1.3"/><circle cx="489.9" cy="133.2" r="1.3"/><circle cx="490.9" cy="133.4" r="1.3"/><circle cx="483.1" cy="134.7" r="1.3"/><circle cx="484.3" cy="135.0" r="1.3"/><circle cx="485.6" cy="134.8" r="1.3"/><circle cx="486.8" cy="134.7" r="1.3"/><circle cx="488.0" cy="134.7" r="1.3"/><circle cx="489.2" cy="134.8" r="1.3"/><circle cx="490.5" cy="135.0" r="1.3"/><circle cx="491.7" cy="134.7" r="1.3"/><circle cx="482.6" cy="136.5" r="1.3"/><circle cx="483.5" cy="136.6" r="1.3"/><circle cx="484.4" cy="136.4" r="1.3"/><circle cx="485.2" cy="136.5" r="1.3"/><circle cx="486.1" cy="136.3" r="1.3"/><circle cx="487.0" cy="136.3" r="1.3"/><circle cx="487.8" cy="136.4" r="1.3"/><circle cx="488.7" cy="136.6" r="1.3"/><circle cx="489.6" cy="136.5" r="1.3"/><circle cx="490.4" cy="136.4" r="1.3"/><circle cx="491.3" cy="136.5" r="1.3"/><circle cx="492.2" cy="136.5" r="1.3"/><circle cx="483.1" cy="138.0" r="1.3"/><circle cx="484.1" cy="138.2" r="1.3"/><circle cx="485.0" cy="138.2" r="1.3"/><circle cx="486.0" cy="138.0" r="1.3"/><circle cx="486.9" cy="138.2" r="1.3"/><circle cx="487.9" cy="138.1" r="1.3"/><circle cx="488.8" cy="138.3" r="1.3"/><circle cx="489.8" cy="138.2" r="1.3"/><circle cx="490.7" cy="138.0" r="1.3"/><circle cx="491.7" cy="138.3" r="1.3"/><circle cx="484.5" cy="139.6" r="1.3"/><circle cx="486.4" cy="139.7" r="1.3"/><circle cx="488.4" cy="139.9" r="1.3"/><circle cx="490.3" cy="139.6" r="1.3"/><circle cx="485.4" cy="141.4" r="1.3"/><circle cx="487.4" cy="141.2" r="1.3"/><circle cx="489.4" cy="141.4" r="1.3"/><circle cx="484.7" cy="143.1" r="1.3"/><circle cx="485.8" cy="143.0" r="1.3"/><circle cx="486.9" cy="143.2" r="1.3"/><circle cx="487.9" cy="142.9" r="1.3"/><circle cx="489.0" cy="143.1" r="1.3"/><circle cx="490.1" cy="143.0" r="1.3"/><circle cx="485.1" cy="144.7" r="1.3"/><circle cx="486.6" cy="144.6" r="1.3"/><circle cx="488.2" cy="144.8" r="1.3"/><circle cx="489.7" cy="144.8" r="1.3"/><circle cx="487.4" cy="146.2" r="1.3"/></g>
<g fill="#b8860b"><circle cx="502.8" cy="102.5" r="1.3"/><circle cx="506.4" cy="105.1" r="1.3"/><circle cx="509.8" cy="105.7" r="1.3"/><circle cx="504.2" cy="108.1" r="1.3"/><circle cx="508.8" cy="109.0" r="1.3"/><circle cx="502.6" cy="111.0" r="1.3"/><circle cx="506.6" cy="112.2" r="1.3"/><circle cx="510.6" cy="112.9" r="1.3"/><circle cx="504.8" cy="115.3" r="1.3"/><circle cx="508.4" cy="116.6" r="1.3"/><circle cx="501.8" cy="117.4" r="1.3"/><circle cx="511.0" cy="120.0" r="1.3"/><circle cx="506.2" cy="120.5" r="1.3"/><circle cx="503.6" cy="122.4" r="1.3"/><circle cx="509.2" cy="123.3" r="1.3"/><circle cx="505.6" cy="124.8" r="1.3"/><circle cx="510.8" cy="126.7" r="1.3"/><circle cx="502.0" cy="128.3" r="1.3"/><circle cx="507.0" cy="128.9" r="1.3"/><circle cx="504.0" cy="126.1" r="1.3"/><circle cx="508.8" cy="128.9" r="1.3"/></g>
<line x1="449.40" y1="140.34" x2="449.40" y2="130.30" stroke="#0a0a0a" stroke-width="0.9" />
<line x1="443.40" y1="135.41" x2="455.40" y2="135.41" stroke="#0a0a0a" stroke-width="1.3" />
<line x1="446.40" y1="140.34" x2="452.40" y2="140.34" stroke="#0a0a0a" stroke-width="0.9" />
<line x1="446.40" y1="130.30" x2="452.40" y2="130.30" stroke="#0a0a0a" stroke-width="0.9" />
<line x1="468.60" y1="124.81" x2="468.60" y2="105.84" stroke="#0a0a0a" stroke-width="0.9" />
<line x1="462.60" y1="115.51" x2="474.60" y2="115.51" stroke="#0a0a0a" stroke-width="1.3" />
<line x1="465.60" y1="124.81" x2="471.60" y2="124.81" stroke="#0a0a0a" stroke-width="0.9" />
<line x1="465.60" y1="105.84" x2="471.60" y2="105.84" stroke="#0a0a0a" stroke-width="0.9" />
<line x1="487.40" y1="140.62" x2="487.40" y2="130.76" stroke="#0a0a0a" stroke-width="0.9" />
<line x1="481.40" y1="135.78" x2="493.40" y2="135.78" stroke="#0a0a0a" stroke-width="1.3" />
<line x1="484.40" y1="140.62" x2="490.40" y2="140.62" stroke="#0a0a0a" stroke-width="0.9" />
<line x1="484.40" y1="130.76" x2="490.40" y2="130.76" stroke="#0a0a0a" stroke-width="0.9" />
<line x1="506.20" y1="124.99" x2="506.20" y2="107.70" stroke="#0a0a0a" stroke-width="0.9" />
<line x1="500.20" y1="116.44" x2="512.20" y2="116.44" stroke="#0a0a0a" stroke-width="1.3" />
<line x1="503.20" y1="124.99" x2="509.20" y2="124.99" stroke="#0a0a0a" stroke-width="0.9" />
<line x1="503.20" y1="107.70" x2="509.20" y2="107.70" stroke="#0a0a0a" stroke-width="0.9" />
<path d="M449.40 82.40 V76.30 H487.00 V82.40" fill="none" stroke="#111" stroke-width="1.8" stroke-linejoin="miter"/>
<text x="468.20" y="71.80" font-size="8.0" text-anchor="middle" fill="#222" stroke="#222" stroke-width="0.18" >ns</text>
<path d="M468.80 61.00 V54.90 H506.00 V61.00" fill="none" stroke="#111" stroke-width="1.8" stroke-linejoin="miter"/>
<text x="487.40" y="51.20" font-size="8.0" text-anchor="middle" fill="#222" stroke="#222" stroke-width="0.18" >ns</text>
<text x="515.60" y="172.00" font-size="8.0" text-anchor="start" fill="#222" stroke="#222" stroke-width="0.18" >dyn/cm</text>
<text x="541.20" y="169.20" font-size="5.2" text-anchor="start" fill="#222" >2</text>
<text x="461.10" y="194.40" font-size="8.0" text-anchor="middle" fill="#222" stroke="#222" stroke-width="0.18" >Con</text>
<text x="497.70" y="194.40" font-size="8.0" text-anchor="middle" fill="#222" stroke="#222" stroke-width="0.18" >Sub</text>
<line x1="445.40" y1="199.90" x2="476.60" y2="199.90" stroke="#111" stroke-width="1.6" />
<line x1="481.40" y1="199.90" x2="513.00" y2="199.90" stroke="#111" stroke-width="1.6" />
<text x="479.60" y="211.70" font-size="8.0" text-anchor="middle" fill="#222" stroke="#222" stroke-width="0.18" >1</text>
<text x="515.60" y="211.40" font-size="8.0" text-anchor="start" fill="#222" stroke="#222" stroke-width="0.18" >pg/ml</text>
<line x1="445.40" y1="216.80" x2="513.00" y2="216.80" stroke="#111" stroke-width="1.6" />
<text x="451.20" y="234.60" font-size="8.0" text-anchor="middle" fill="#222" stroke="#222" stroke-width="0.18" >167</text>
<text x="471.80" y="234.60" font-size="8.0" text-anchor="middle" fill="#222" stroke="#222" stroke-width="0.18" >162</text>
<text x="490.00" y="234.60" font-size="8.0" text-anchor="middle" fill="#222" stroke="#222" stroke-width="0.18" >69</text>
<text x="507.80" y="234.60" font-size="8.0" text-anchor="middle" fill="#222" stroke="#222" stroke-width="0.18" >21</text>
<line x1="225.00" y1="327.70" x2="225.00" y2="431.35" stroke="#111" stroke-width="1.3" />
<line x1="223.40" y1="430.70" x2="306.00" y2="430.70" stroke="#111" stroke-width="1.3" />
<line x1="221.00" y1="421.30" x2="225.00" y2="421.30" stroke="#111" stroke-width="1.1" />
<text x="220.40" y="423.90" font-size="7.5" text-anchor="end" fill="#111" font-weight="bold" >0.4</text>
<line x1="222.60" y1="412.00" x2="225.00" y2="412.00" stroke="#111" stroke-width="0.9" />
<line x1="221.00" y1="402.70" x2="225.00" y2="402.70" stroke="#111" stroke-width="1.1" />
<text x="220.40" y="405.30" font-size="7.5" text-anchor="end" fill="#111" font-weight="bold" >0.5</text>
<line x1="222.60" y1="393.40" x2="225.00" y2="393.40" stroke="#111" stroke-width="0.9" />
<line x1="221.00" y1="384.10" x2="225.00" y2="384.10" stroke="#111" stroke-width="1.1" />
<text x="220.40" y="386.70" font-size="7.5" text-anchor="end" fill="#111" font-weight="bold" >0.6</text>
<line x1="222.60" y1="374.80" x2="225.00" y2="374.80" stroke="#111" stroke-width="0.9" />
<line x1="221.00" y1="365.50" x2="225.00" y2="365.50" stroke="#111" stroke-width="1.1" />
<text x="220.40" y="368.10" font-size="7.5" text-anchor="end" fill="#111" font-weight="bold" >0.7</text>
<line x1="222.60" y1="356.20" x2="225.00" y2="356.20" stroke="#111" stroke-width="0.9" />
<line x1="221.00" y1="346.90" x2="225.00" y2="346.90" stroke="#111" stroke-width="1.1" />
<text x="220.40" y="349.50" font-size="7.5" text-anchor="end" fill="#111" font-weight="bold" >0.8</text>
<line x1="222.60" y1="337.60" x2="225.00" y2="337.60" stroke="#111" stroke-width="0.9" />
<line x1="221.00" y1="328.30" x2="225.00" y2="328.30" stroke="#111" stroke-width="1.1" />
<text x="220.40" y="330.90" font-size="7.5" text-anchor="end" fill="#111" font-weight="bold" >0.9</text>
<line x1="238.00" y1="430.70" x2="238.00" y2="435.00" stroke="#111" stroke-width="1.0" />
<text x="236.90" y="445.40" font-size="8.0" text-anchor="middle" fill="#222" stroke="#222" stroke-width="0.18" >0</text>
<line x1="256.60" y1="430.70" x2="256.60" y2="435.00" stroke="#111" stroke-width="1.0" />
<text x="256.00" y="445.40" font-size="8.0" text-anchor="middle" fill="#222" stroke="#222" stroke-width="0.18" >19</text>
<line x1="275.20" y1="430.70" x2="275.20" y2="435.00" stroke="#111" stroke-width="1.0" />
<text x="273.20" y="445.40" font-size="8.0" text-anchor="middle" fill="#222" stroke="#222" stroke-width="0.18" >0</text>
<line x1="294.20" y1="430.70" x2="294.20" y2="435.00" stroke="#111" stroke-width="1.0" />
<text x="294.00" y="445.40" font-size="8.0" text-anchor="middle" fill="#222" stroke="#222" stroke-width="0.18" >19</text>
<g fill="#a6a6a6" opacity="1.0"><circle cx="238.0" cy="385.0" r="0.8"/><circle cx="238.0" cy="389.0" r="0.8"/><circle cx="237.4" cy="390.2" r="0.8"/><circle cx="238.6" cy="390.0" r="0.8"/><circle cx="237.4" cy="391.0" r="0.8"/><circle cx="238.6" cy="391.0" r="0.8"/><circle cx="238.0" cy="393.9" r="0.8"/><circle cx="237.0" cy="395.0" r="0.8"/><circle cx="237.5" cy="395.1" r="0.8"/><circle cx="238.0" cy="395.1" r="0.8"/><circle cx="238.5" cy="394.8" r="0.8"/><circle cx="239.0" cy="394.9" r="0.8"/><circle cx="237.4" cy="395.8" r="0.8"/><circle cx="238.6" cy="396.1" r="0.8"/><circle cx="236.8" cy="397.1" r="0.8"/><circle cx="238.0" cy="396.8" r="0.8"/><circle cx="239.2" cy="397.2" r="0.8"/><circle cx="235.4" cy="398.2" r="0.8"/><circle cx="235.8" cy="398.1" r="0.8"/><circle cx="236.1" cy="398.0" r="0.8"/><circle cx="236.5" cy="397.9" r="0.8"/><circle cx="236.8" cy="397.8" r="0.8"/><circle cx="237.1" cy="398.0" r="0.8"/><circle cx="237.5" cy="397.8" r="0.8"/><circle cx="237.8" cy="397.9" r="0.8"/><circle cx="238.2" cy="397.9" r="0.8"/><circle cx="238.5" cy="397.8" r="0.8"/><circle cx="238.9" cy="398.0" r="0.8"/><circle cx="239.2" cy="398.0" r="0.8"/><circle cx="239.5" cy="398.1" r="0.8"/><circle cx="239.9" cy="398.0" r="0.8"/><circle cx="240.2" cy="398.1" r="0.8"/><circle cx="240.6" cy="398.0" r="0.8"/><circle cx="234.5" cy="399.1" r="0.8"/><circle cx="235.1" cy="399.0" r="0.8"/><circle cx="235.7" cy="398.9" r="0.8"/><circle cx="236.3" cy="399.2" r="0.8"/><circle cx="236.8" cy="399.2" r="0.8"/><circle cx="237.4" cy="399.1" r="0.8"/><circle cx="238.0" cy="399.1" r="0.8"/><circle cx="238.6" cy="398.9" r="0.8"/><circle cx="239.2" cy="398.9" r="0.8"/><circle cx="239.7" cy="398.9" r="0.8"/><circle cx="240.3" cy="398.8" r="0.8"/><circle cx="240.9" cy="399.1" r="0.8"/><circle cx="241.5" cy="399.0" r="0.8"/><circle cx="233.2" cy="400.1" r="0.8"/><circle cx="233.5" cy="400.0" r="0.8"/><circle cx="233.9" cy="400.2" r="0.8"/><circle cx="234.2" cy="400.1" r="0.8"/><circle cx="234.5" cy="399.8" r="0.8"/><circle cx="234.8" cy="399.9" r="0.8"/><circle cx="235.1" cy="400.2" r="0.8"/><circle cx="235.5" cy="400.0" r="0.8"/><circle cx="235.8" cy="400.2" r="0.8"/><circle cx="236.1" cy="400.0" r="0.8"/><circle cx="236.4" cy="399.8" r="0.8"/><circle cx="236.7" cy="400.1" r="0.8"/><circle cx="237.0" cy="400.1" r="0.8"/><circle cx="237.4" cy="399.9" r="0.8"/><circle cx="237.7" cy="399.8" r="0.8"/><circle cx="238.0" cy="399.9" r="0.8"/><circle cx="238.3" cy="400.2" r="0.8"/><circle cx="238.6" cy="400.1" r="0.8"/><circle cx="239.0" cy="399.8" r="0.8"/><circle cx="239.3" cy="399.9" r="0.8"/><circle cx="239.6" cy="399.8" r="0.8"/><circle cx="239.9" cy="399.8" r="0.8"/><circle cx="240.2" cy="400.1" r="0.8"/><circle cx="240.5" cy="399.9" r="0.8"/><circle cx="240.9" cy="400.0" r="0.8"/><circle cx="241.2" cy="400.0" r="0.8"/><circle cx="241.5" cy="399.9" r="0.8"/><circle cx="241.8" cy="400.1" r="0.8"/><circle cx="242.1" cy="399.9" r="0.8"/><circle cx="242.5" cy="400.1" r="0.8"/><circle cx="242.8" cy="399.8" r="0.8"/><circle cx="232.2" cy="401.0" r="0.8"/><circle cx="232.5" cy="400.9" r="0.8"/><circle cx="232.8" cy="400.9" r="0.8"/><circle cx="233.1" cy="401.2" r="0.8"/><circle cx="233.4" cy="401.1" r="0.8"/><circle cx="233.7" cy="400.9" r="0.8"/><circle cx="233.9" cy="401.2" r="0.8"/><circle cx="234.2" cy="400.9" r="0.8"/><circle cx="234.5" cy="401.0" r="0.8"/><circle cx="234.8" cy="401.1" r="0.8"/><circle cx="235.1" cy="401.1" r="0.8"/><circle cx="235.4" cy="400.8" r="0.8"/><circle cx="235.7" cy="401.2" r="0.8"/><circle cx="236.0" cy="400.9" r="0.8"/><circle cx="236.3" cy="400.9" r="0.8"/><circle cx="236.6" cy="401.1" r="0.8"/><circle cx="236.8" cy="400.9" r="0.8"/><circle cx="237.1" cy="400.9" r="0.8"/><circle cx="237.4" cy="400.8" r="0.8"/><circle cx="237.7" cy="400.8" r="0.8"/><circle cx="238.0" cy="401.0" r="0.8"/><circle cx="238.3" cy="400.9" r="0.8"/><circle cx="238.6" cy="401.0" r="0.8"/><circle cx="238.9" cy="400.9" r="0.8"/><circle cx="239.2" cy="401.0" r="0.8"/><circle cx="239.4" cy="401.2" r="0.8"/><circle cx="239.7" cy="401.0" r="0.8"/><circle cx="240.0" cy="401.0" r="0.8"/><circle cx="240.3" cy="401.1" r="0.8"/><circle cx="240.6" cy="400.9" r="0.8"/><circle cx="240.9" cy="400.9" r="0.8"/><circle cx="241.2" cy="401.2" r="0.8"/><circle cx="241.5" cy="401.1" r="0.8"/><circle cx="241.8" cy="400.9" r="0.8"/><circle cx="242.1" cy="400.9" r="0.8"/><circle cx="242.3" cy="401.1" r="0.8"/><circle cx="242.6" cy="401.2" r="0.8"/><circle cx="242.9" cy="400.9" r="0.8"/><circle cx="243.2" cy="401.2" r="0.8"/><circle cx="243.5" cy="401.2" r="0.8"/><circle cx="243.8" cy="401.0" r="0.8"/><circle cx="232.2" cy="402.0" r="0.8"/><circle cx="232.5" cy="401.8" r="0.8"/><circle cx="232.8" cy="401.8" r="0.8"/><circle cx="233.1" cy="402.2" r="0.8"/><circle cx="233.4" cy="401.9" r="0.8"/><circle cx="233.7" cy="402.1" r="0.8"/><circle cx="233.9" cy="401.9" r="0.8"/><circle cx="234.2" cy="402.1" r="0.8"/><circle cx="234.5" cy="402.0" r="0.8"/><circle cx="234.8" cy="401.9" r="0.8"/><circle cx="235.1" cy="401.9" r="0.8"/><circle cx="235.4" cy="402.1" r="0.8"/><circle cx="235.7" cy="401.8" r="0.8"/><circle cx="236.0" cy="401.9" r="0.8"/><circle cx="236.3" cy="402.0" r="0.8"/><circle cx="236.6" cy="402.1" r="0.8"/><circle cx="236.8" cy="402.0" r="0.8"/><circle cx="237.1" cy="401.9" r="0.8"/><circle cx="237.4" cy="402.2" r="0.8"/><circle cx="237.7" cy="401.9" r="0.8"/><circle cx="238.0" cy="401.8" r="0.8"/><circle cx="238.3" cy="401.9" r="0.8"/><circle cx="238.6" cy="402.0" r="0.8"/><circle cx="238.9" cy="401.8" r="0.8"/><circle cx="239.2" cy="401.9" r="0.8"/><circle cx="239.4" cy="401.9" r="0.8"/><circle cx="239.7" cy="402.0" r="0.8"/><circle cx="240.0" cy="401.9" r="0.8"/><circle cx="240.3" cy="401.9" r="0.8"/><circle cx="240.6" cy="402.2" r="0.8"/><circle cx="240.9" cy="402.2" r="0.8"/><circle cx="241.2" cy="402.1" r="0.8"/><circle cx="241.5" cy="402.1" r="0.8"/><circle cx="241.8" cy="402.0" r="0.8"/><circle cx="242.1" cy="401.9" r="0.8"/><circle cx="242.3" cy="401.8" r="0.8"/><circle cx="242.6" cy="401.8" r="0.8"/><circle cx="242.9" cy="402.2" r="0.8"/><circle cx="243.2" cy="402.1" r="0.8"/><circle cx="243.5" cy="402.2" r="0.8"/><circle cx="243.8" cy="401.8" r="0.8"/><circle cx="233.0" cy="403.1" r="0.8"/><circle cx="233.3" cy="403.0" r="0.8"/><circle cx="233.7" cy="403.1" r="0.8"/><circle cx="234.0" cy="402.9" r="0.8"/><circle cx="234.3" cy="403.2" r="0.8"/><circle cx="234.7" cy="402.8" r="0.8"/><circle cx="235.0" cy="403.0" r="0.8"/><circle cx="235.3" cy="403.1" r="0.8"/><circle cx="235.7" cy="403.2" r="0.8"/><circle cx="236.0" cy="403.1" r="0.8"/><circle cx="236.3" cy="403.1" r="0.8"/><circle cx="236.7" cy="403.1" r="0.8"/><circle cx="237.0" cy="403.2" r="0.8"/><circle cx="237.3" cy="402.9" r="0.8"/><circle cx="237.7" cy="403.1" r="0.8"/><circle cx="238.0" cy="403.2" r="0.8"/><circle cx="238.3" cy="403.1" r="0.8"/><circle cx="238.7" cy="403.0" r="0.8"/><circle cx="239.0" cy="403.1" r="0.8"/><circle cx="239.3" cy="403.1" r="0.8"/><circle cx="239.7" cy="403.0" r="0.8"/><circle cx="240.0" cy="403.0" r="0.8"/><circle cx="240.3" cy="403.0" r="0.8"/><circle cx="240.7" cy="403.0" r="0.8"/><circle cx="241.0" cy="403.0" r="0.8"/><circle cx="241.3" cy="402.8" r="0.8"/><circle cx="241.7" cy="403.1" r="0.8"/><circle cx="242.0" cy="403.2" r="0.8"/><circle cx="242.3" cy="403.2" r="0.8"/><circle cx="242.7" cy="403.1" r="0.8"/><circle cx="243.0" cy="403.0" r="0.8"/><circle cx="234.1" cy="404.1" r="0.8"/><circle cx="234.5" cy="404.0" r="0.8"/><circle cx="234.9" cy="404.0" r="0.8"/><circle cx="235.3" cy="404.1" r="0.8"/><circle cx="235.7" cy="403.8" r="0.8"/><circle cx="236.1" cy="404.1" r="0.8"/><circle cx="236.4" cy="403.8" r="0.8"/><circle cx="236.8" cy="404.0" r="0.8"/><circle cx="237.2" cy="404.0" r="0.8"/><circle cx="237.6" cy="403.9" r="0.8"/><circle cx="238.0" cy="404.1" r="0.8"/><circle cx="238.4" cy="404.0" r="0.8"/><circle cx="238.8" cy="404.0" r="0.8"/><circle cx="239.2" cy="404.2" r="0.8"/><circle cx="239.6" cy="403.9" r="0.8"/><circle cx="239.9" cy="403.8" r="0.8"/><circle cx="240.3" cy="403.9" r="0.8"/><circle cx="240.7" cy="404.1" r="0.8"/><circle cx="241.1" cy="403.9" r="0.8"/><circle cx="241.5" cy="403.9" r="0.8"/><circle cx="241.9" cy="404.2" r="0.8"/><circle cx="235.3" cy="405.1" r="0.8"/><circle cx="235.8" cy="405.0" r="0.8"/><circle cx="236.2" cy="405.2" r="0.8"/><circle cx="236.7" cy="404.9" r="0.8"/><circle cx="237.1" cy="405.1" r="0.8"/><circle cx="237.6" cy="404.9" r="0.8"/><circle cx="238.0" cy="405.0" r="0.8"/><circle cx="238.4" cy="405.1" r="0.8"/><circle cx="238.9" cy="405.2" r="0.8"/><circle cx="239.3" cy="405.2" r="0.8"/><circle cx="239.8" cy="405.0" r="0.8"/><circle cx="240.2" cy="405.0" r="0.8"/><circle cx="240.7" cy="404.9" r="0.8"/><circle cx="236.6" cy="405.9" r="0.8"/><circle cx="237.5" cy="406.0" r="0.8"/><circle cx="238.5" cy="406.1" r="0.8"/><circle cx="239.4" cy="406.1" r="0.8"/></g>
<g fill="#2cb4e6" opacity="1.0"><circle cx="256.6" cy="362.0" r="0.8"/><circle cx="256.0" cy="368.1" r="0.8"/><circle cx="257.2" cy="368.1" r="0.8"/><circle cx="256.0" cy="369.9" r="0.8"/><circle cx="257.2" cy="369.8" r="0.8"/><circle cx="255.5" cy="370.9" r="0.8"/><circle cx="256.6" cy="370.9" r="0.8"/><circle cx="257.8" cy="371.1" r="0.8"/><circle cx="256.6" cy="372.1" r="0.8"/><circle cx="256.6" cy="373.0" r="0.8"/><circle cx="254.9" cy="374.0" r="0.8"/><circle cx="256.0" cy="374.1" r="0.8"/><circle cx="257.2" cy="373.9" r="0.8"/><circle cx="258.3" cy="374.0" r="0.8"/><circle cx="256.0" cy="374.9" r="0.8"/><circle cx="257.2" cy="375.2" r="0.8"/><circle cx="256.0" cy="375.8" r="0.8"/><circle cx="257.2" cy="376.1" r="0.8"/><circle cx="254.9" cy="376.8" r="0.8"/><circle cx="256.0" cy="377.1" r="0.8"/><circle cx="257.2" cy="376.9" r="0.8"/><circle cx="258.3" cy="377.0" r="0.8"/><circle cx="254.3" cy="378.1" r="0.8"/><circle cx="255.5" cy="377.8" r="0.8"/><circle cx="256.6" cy="377.8" r="0.8"/><circle cx="257.8" cy="378.2" r="0.8"/><circle cx="258.9" cy="378.0" r="0.8"/><circle cx="254.9" cy="378.8" r="0.8"/><circle cx="256.0" cy="379.2" r="0.8"/><circle cx="257.2" cy="379.2" r="0.8"/><circle cx="258.3" cy="378.8" r="0.8"/><circle cx="254.9" cy="380.0" r="0.8"/><circle cx="256.0" cy="379.9" r="0.8"/><circle cx="257.2" cy="379.9" r="0.8"/><circle cx="258.3" cy="380.0" r="0.8"/><circle cx="253.7" cy="380.9" r="0.8"/><circle cx="254.9" cy="381.1" r="0.8"/><circle cx="256.0" cy="380.8" r="0.8"/><circle cx="257.2" cy="380.9" r="0.8"/><circle cx="258.3" cy="381.1" r="0.8"/><circle cx="259.5" cy="381.0" r="0.8"/><circle cx="254.9" cy="382.0" r="0.8"/><circle cx="256.0" cy="382.0" r="0.8"/><circle cx="257.2" cy="382.0" r="0.8"/><circle cx="258.3" cy="382.0" r="0.8"/><circle cx="252.7" cy="382.8" r="0.8"/><circle cx="253.4" cy="383.1" r="0.8"/><circle cx="254.1" cy="383.2" r="0.8"/><circle cx="254.8" cy="383.2" r="0.8"/><circle cx="255.5" cy="383.1" r="0.8"/><circle cx="256.2" cy="382.9" r="0.8"/><circle cx="257.0" cy="382.9" r="0.8"/><circle cx="257.7" cy="383.1" r="0.8"/><circle cx="258.4" cy="383.1" r="0.8"/><circle cx="259.1" cy="382.8" r="0.8"/><circle cx="259.8" cy="382.9" r="0.8"/><circle cx="260.5" cy="382.9" r="0.8"/><circle cx="255.5" cy="384.0" r="0.8"/><circle cx="256.6" cy="384.1" r="0.8"/><circle cx="257.8" cy="384.0" r="0.8"/><circle cx="252.2" cy="384.8" r="0.8"/><circle cx="252.9" cy="385.1" r="0.8"/><circle cx="253.6" cy="385.0" r="0.8"/><circle cx="254.4" cy="385.0" r="0.8"/><circle cx="255.1" cy="384.9" r="0.8"/><circle cx="255.9" cy="385.0" r="0.8"/><circle cx="256.6" cy="385.0" r="0.8"/><circle cx="257.3" cy="385.1" r="0.8"/><circle cx="258.1" cy="384.8" r="0.8"/><circle cx="258.8" cy="385.0" r="0.8"/><circle cx="259.6" cy="384.9" r="0.8"/><circle cx="260.3" cy="385.1" r="0.8"/><circle cx="261.0" cy="384.8" r="0.8"/><circle cx="252.6" cy="385.9" r="0.8"/><circle cx="253.7" cy="385.9" r="0.8"/><circle cx="254.9" cy="386.1" r="0.8"/><circle cx="256.0" cy="385.8" r="0.8"/><circle cx="257.2" cy="386.0" r="0.8"/><circle cx="258.3" cy="385.9" r="0.8"/><circle cx="259.5" cy="385.9" r="0.8"/><circle cx="260.6" cy="386.0" r="0.8"/><circle cx="251.1" cy="387.2" r="0.8"/><circle cx="251.9" cy="387.0" r="0.8"/><circle cx="252.6" cy="387.2" r="0.8"/><circle cx="253.3" cy="386.9" r="0.8"/><circle cx="254.0" cy="387.2" r="0.8"/><circle cx="254.8" cy="386.9" r="0.8"/><circle cx="255.5" cy="386.9" r="0.8"/><circle cx="256.2" cy="387.1" r="0.8"/><circle cx="257.0" cy="387.2" r="0.8"/><circle cx="257.7" cy="386.8" r="0.8"/><circle cx="258.4" cy="386.9" r="0.8"/><circle cx="259.2" cy="387.1" r="0.8"/><circle cx="259.9" cy="386.9" r="0.8"/><circle cx="260.6" cy="386.9" r="0.8"/><circle cx="261.3" cy="386.8" r="0.8"/><circle cx="262.1" cy="386.8" r="0.8"/><circle cx="251.4" cy="388.0" r="0.8"/><circle cx="252.6" cy="388.2" r="0.8"/><circle cx="253.7" cy="388.2" r="0.8"/><circle cx="254.9" cy="388.0" r="0.8"/><circle cx="256.0" cy="387.8" r="0.8"/><circle cx="257.2" cy="387.9" r="0.8"/><circle cx="258.3" cy="388.1" r="0.8"/><circle cx="259.5" cy="388.1" r="0.8"/><circle cx="260.6" cy="388.1" r="0.8"/><circle cx="261.8" cy="387.9" r="0.8"/><circle cx="251.4" cy="389.0" r="0.8"/><circle cx="252.5" cy="389.0" r="0.8"/><circle cx="253.5" cy="389.1" r="0.8"/><circle cx="254.5" cy="388.9" r="0.8"/><circle cx="255.6" cy="389.2" r="0.8"/><circle cx="256.6" cy="389.2" r="0.8"/><circle cx="257.6" cy="388.9" r="0.8"/><circle cx="258.7" cy="388.9" r="0.8"/><circle cx="259.7" cy="389.1" r="0.8"/><circle cx="260.7" cy="388.9" r="0.8"/><circle cx="261.8" cy="389.2" r="0.8"/><circle cx="250.7" cy="390.0" r="0.8"/><circle cx="251.6" cy="390.1" r="0.8"/><circle cx="252.5" cy="390.1" r="0.8"/><circle cx="253.4" cy="389.9" r="0.8"/><circle cx="254.3" cy="389.9" r="0.8"/><circle cx="255.2" cy="389.9" r="0.8"/><circle cx="256.1" cy="390.1" r="0.8"/><circle cx="257.1" cy="390.1" r="0.8"/><circle cx="258.0" cy="389.9" r="0.8"/><circle cx="258.9" cy="390.2" r="0.8"/><circle cx="259.8" cy="390.0" r="0.8"/><circle cx="260.7" cy="389.9" r="0.8"/><circle cx="261.6" cy="390.0" r="0.8"/><circle cx="262.5" cy="390.2" r="0.8"/><circle cx="250.4" cy="391.0" r="0.8"/><circle cx="251.2" cy="391.0" r="0.8"/><circle cx="252.1" cy="391.2" r="0.8"/><circle cx="252.9" cy="391.2" r="0.8"/><circle cx="253.7" cy="391.1" r="0.8"/><circle cx="254.5" cy="391.0" r="0.8"/><circle cx="255.4" cy="391.0" r="0.8"/><circle cx="256.2" cy="391.2" r="0.8"/><circle cx="257.0" cy="391.1" r="0.8"/><circle cx="257.8" cy="391.0" r="0.8"/><circle cx="258.7" cy="390.9" r="0.8"/><circle cx="259.5" cy="390.9" r="0.8"/><circle cx="260.3" cy="391.1" r="0.8"/><circle cx="261.1" cy="391.0" r="0.8"/><circle cx="262.0" cy="390.8" r="0.8"/><circle cx="262.8" cy="391.1" r="0.8"/><circle cx="251.0" cy="392.2" r="0.8"/><circle cx="251.8" cy="392.1" r="0.8"/><circle cx="252.6" cy="392.2" r="0.8"/><circle cx="253.4" cy="392.2" r="0.8"/><circle cx="254.2" cy="392.0" r="0.8"/><circle cx="255.0" cy="392.1" r="0.8"/><circle cx="255.8" cy="392.0" r="0.8"/><circle cx="256.6" cy="391.8" r="0.8"/><circle cx="257.4" cy="391.9" r="0.8"/><circle cx="258.2" cy="391.9" r="0.8"/><circle cx="259.0" cy="392.2" r="0.8"/><circle cx="259.8" cy="392.1" r="0.8"/><circle cx="260.6" cy="392.0" r="0.8"/><circle cx="261.4" cy="392.0" r="0.8"/><circle cx="262.2" cy="391.8" r="0.8"/><circle cx="253.7" cy="393.0" r="0.8"/><circle cx="254.9" cy="393.1" r="0.8"/><circle cx="256.0" cy="393.0" r="0.8"/><circle cx="257.2" cy="392.9" r="0.8"/><circle cx="258.3" cy="393.0" r="0.8"/><circle cx="259.5" cy="392.9" r="0.8"/><circle cx="252.0" cy="394.1" r="0.8"/><circle cx="253.2" cy="393.9" r="0.8"/><circle cx="254.3" cy="393.8" r="0.8"/><circle cx="255.5" cy="393.9" r="0.8"/><circle cx="256.6" cy="394.1" r="0.8"/><circle cx="257.8" cy="394.1" r="0.8"/><circle cx="258.9" cy="394.1" r="0.8"/><circle cx="260.1" cy="394.2" r="0.8"/><circle cx="261.2" cy="393.9" r="0.8"/><circle cx="250.7" cy="394.8" r="0.8"/><circle cx="251.5" cy="395.0" r="0.8"/><circle cx="252.3" cy="395.0" r="0.8"/><circle cx="253.1" cy="394.9" r="0.8"/><circle cx="253.9" cy="395.1" r="0.8"/><circle cx="254.6" cy="394.9" r="0.8"/><circle cx="255.4" cy="394.9" r="0.8"/><circle cx="256.2" cy="394.9" r="0.8"/><circle cx="257.0" cy="395.2" r="0.8"/><circle cx="257.8" cy="394.8" r="0.8"/><circle cx="258.6" cy="394.9" r="0.8"/><circle cx="259.3" cy="394.9" r="0.8"/><circle cx="260.1" cy="394.9" r="0.8"/><circle cx="260.9" cy="395.0" r="0.8"/><circle cx="261.7" cy="394.9" r="0.8"/><circle cx="262.5" cy="395.2" r="0.8"/><circle cx="251.1" cy="396.0" r="0.8"/><circle cx="252.0" cy="396.1" r="0.8"/><circle cx="252.8" cy="395.9" r="0.8"/><circle cx="253.7" cy="396.0" r="0.8"/><circle cx="254.5" cy="396.0" r="0.8"/><circle cx="255.3" cy="396.1" r="0.8"/><circle cx="256.2" cy="395.9" r="0.8"/><circle cx="257.0" cy="396.0" r="0.8"/><circle cx="257.9" cy="396.1" r="0.8"/><circle cx="258.7" cy="396.1" r="0.8"/><circle cx="259.5" cy="395.9" r="0.8"/><circle cx="260.4" cy="396.0" r="0.8"/><circle cx="261.2" cy="396.1" r="0.8"/><circle cx="262.1" cy="396.0" r="0.8"/><circle cx="253.7" cy="397.1" r="0.8"/><circle cx="254.9" cy="397.1" r="0.8"/><circle cx="256.0" cy="397.2" r="0.8"/><circle cx="257.2" cy="397.0" r="0.8"/><circle cx="258.3" cy="397.1" r="0.8"/><circle cx="259.5" cy="396.9" r="0.8"/><circle cx="252.0" cy="398.1" r="0.8"/><circle cx="253.0" cy="397.9" r="0.8"/><circle cx="254.0" cy="398.0" r="0.8"/><circle cx="255.1" cy="397.9" r="0.8"/><circle cx="256.1" cy="397.9" r="0.8"/><circle cx="257.1" cy="397.9" r="0.8"/><circle cx="258.1" cy="397.9" r="0.8"/><circle cx="259.2" cy="398.0" r="0.8"/><circle cx="260.2" cy="397.9" r="0.8"/><circle cx="261.2" cy="397.8" r="0.8"/><circle cx="251.7" cy="399.1" r="0.8"/><circle cx="252.5" cy="398.9" r="0.8"/><circle cx="253.3" cy="399.2" r="0.8"/><circle cx="254.1" cy="399.0" r="0.8"/><circle cx="255.0" cy="399.0" r="0.8"/><circle cx="255.8" cy="399.1" r="0.8"/><circle cx="256.6" cy="399.2" r="0.8"/><circle cx="257.4" cy="398.9" r="0.8"/><circle cx="258.2" cy="398.9" r="0.8"/><circle cx="259.1" cy="399.1" r="0.8"/><circle cx="259.9" cy="399.1" r="0.8"/><circle cx="260.7" cy="399.0" r="0.8"/><circle cx="261.5" cy="399.1" r="0.8"/><circle cx="253.2" cy="400.0" r="0.8"/><circle cx="254.3" cy="400.0" r="0.8"/><circle cx="255.5" cy="399.9" r="0.8"/><circle cx="256.6" cy="400.0" r="0.8"/><circle cx="257.8" cy="400.0" r="0.8"/><circle cx="258.9" cy="400.0" r="0.8"/><circle cx="260.1" cy="400.0" r="0.8"/><circle cx="254.3" cy="401.1" r="0.8"/><circle cx="255.5" cy="400.9" r="0.8"/><circle cx="256.6" cy="400.9" r="0.8"/><circle cx="257.8" cy="400.9" r="0.8"/><circle cx="258.9" cy="401.2" r="0.8"/><circle cx="253.5" cy="402.0" r="0.8"/><circle cx="254.5" cy="401.8" r="0.8"/><circle cx="255.6" cy="402.1" r="0.8"/><circle cx="256.6" cy="402.1" r="0.8"/><circle cx="257.6" cy="402.1" r="0.8"/><circle cx="258.7" cy="401.9" r="0.8"/><circle cx="259.7" cy="402.1" r="0.8"/><circle cx="255.5" cy="402.9" r="0.8"/><circle cx="256.6" cy="402.9" r="0.8"/><circle cx="257.8" cy="403.1" r="0.8"/></g>
<g fill="#f5a9dc" opacity="1.0"><circle cx="275.2" cy="387.9" r="0.8"/><circle cx="274.7" cy="392.1" r="0.8"/><circle cx="275.7" cy="392.1" r="0.8"/><circle cx="274.6" cy="393.1" r="0.8"/><circle cx="275.8" cy="392.9" r="0.8"/><circle cx="274.6" cy="393.9" r="0.8"/><circle cx="275.8" cy="393.9" r="0.8"/><circle cx="274.4" cy="394.9" r="0.8"/><circle cx="275.2" cy="395.1" r="0.8"/><circle cx="276.0" cy="394.9" r="0.8"/><circle cx="274.3" cy="396.0" r="0.8"/><circle cx="275.2" cy="395.9" r="0.8"/><circle cx="276.1" cy="395.9" r="0.8"/><circle cx="274.0" cy="397.0" r="0.8"/><circle cx="274.6" cy="397.1" r="0.8"/><circle cx="275.2" cy="397.0" r="0.8"/><circle cx="275.8" cy="396.8" r="0.8"/><circle cx="276.4" cy="396.9" r="0.8"/><circle cx="273.5" cy="397.9" r="0.8"/><circle cx="274.0" cy="398.1" r="0.8"/><circle cx="274.5" cy="398.1" r="0.8"/><circle cx="275.0" cy="398.1" r="0.8"/><circle cx="275.4" cy="398.1" r="0.8"/><circle cx="275.9" cy="398.1" r="0.8"/><circle cx="276.4" cy="398.2" r="0.8"/><circle cx="276.9" cy="398.1" r="0.8"/><circle cx="272.2" cy="398.9" r="0.8"/><circle cx="272.7" cy="399.1" r="0.8"/><circle cx="273.1" cy="399.0" r="0.8"/><circle cx="273.6" cy="399.1" r="0.8"/><circle cx="274.1" cy="399.0" r="0.8"/><circle cx="274.5" cy="399.0" r="0.8"/><circle cx="275.0" cy="398.9" r="0.8"/><circle cx="275.4" cy="399.0" r="0.8"/><circle cx="275.9" cy="398.9" r="0.8"/><circle cx="276.3" cy="398.8" r="0.8"/><circle cx="276.8" cy="399.1" r="0.8"/><circle cx="277.3" cy="399.1" r="0.8"/><circle cx="277.7" cy="399.2" r="0.8"/><circle cx="278.2" cy="399.1" r="0.8"/><circle cx="270.7" cy="400.0" r="0.8"/><circle cx="270.9" cy="400.1" r="0.8"/><circle cx="271.2" cy="399.9" r="0.8"/><circle cx="271.4" cy="400.1" r="0.8"/><circle cx="271.6" cy="400.0" r="0.8"/><circle cx="271.9" cy="399.9" r="0.8"/><circle cx="272.1" cy="399.9" r="0.8"/><circle cx="272.3" cy="400.0" r="0.8"/><circle cx="272.6" cy="399.9" r="0.8"/><circle cx="272.8" cy="400.0" r="0.8"/><circle cx="273.1" cy="400.0" r="0.8"/><circle cx="273.3" cy="400.0" r="0.8"/><circle cx="273.5" cy="399.9" r="0.8"/><circle cx="273.8" cy="400.0" r="0.8"/><circle cx="274.0" cy="399.9" r="0.8"/><circle cx="274.2" cy="399.9" r="0.8"/><circle cx="274.5" cy="399.9" r="0.8"/><circle cx="274.7" cy="399.9" r="0.8"/><circle cx="275.0" cy="399.8" r="0.8"/><circle cx="275.2" cy="400.1" r="0.8"/><circle cx="275.4" cy="400.2" r="0.8"/><circle cx="275.7" cy="400.0" r="0.8"/><circle cx="275.9" cy="400.1" r="0.8"/><circle cx="276.2" cy="400.2" r="0.8"/><circle cx="276.4" cy="399.8" r="0.8"/><circle cx="276.6" cy="399.9" r="0.8"/><circle cx="276.9" cy="400.1" r="0.8"/><circle cx="277.1" cy="400.1" r="0.8"/><circle cx="277.3" cy="400.1" r="0.8"/><circle cx="277.6" cy="399.9" r="0.8"/><circle cx="277.8" cy="400.0" r="0.8"/><circle cx="278.1" cy="400.1" r="0.8"/><circle cx="278.3" cy="400.2" r="0.8"/><circle cx="278.5" cy="400.1" r="0.8"/><circle cx="278.8" cy="399.9" r="0.8"/><circle cx="279.0" cy="400.1" r="0.8"/><circle cx="279.2" cy="399.9" r="0.8"/><circle cx="279.5" cy="400.1" r="0.8"/><circle cx="279.7" cy="399.9" r="0.8"/><circle cx="269.7" cy="401.2" r="0.8"/><circle cx="270.0" cy="401.0" r="0.8"/><circle cx="270.2" cy="401.1" r="0.8"/><circle cx="270.5" cy="400.9" r="0.8"/><circle cx="270.7" cy="401.0" r="0.8"/><circle cx="271.0" cy="401.0" r="0.8"/><circle cx="271.2" cy="401.0" r="0.8"/><circle cx="271.5" cy="400.9" r="0.8"/><circle cx="271.8" cy="401.1" r="0.8"/><circle cx="272.0" cy="400.9" r="0.8"/><circle cx="272.3" cy="400.9" r="0.8"/><circle cx="272.5" cy="400.9" r="0.8"/><circle cx="272.8" cy="401.1" r="0.8"/><circle cx="273.0" cy="400.8" r="0.8"/><circle cx="273.3" cy="400.9" r="0.8"/><circle cx="273.5" cy="400.8" r="0.8"/><circle cx="273.8" cy="401.1" r="0.8"/><circle cx="274.1" cy="401.0" r="0.8"/><circle cx="274.3" cy="401.0" r="0.8"/><circle cx="274.6" cy="400.8" r="0.8"/><circle cx="274.8" cy="401.0" r="0.8"/><circle cx="275.1" cy="400.9" r="0.8"/><circle cx="275.3" cy="400.8" r="0.8"/><circle cx="275.6" cy="400.8" r="0.8"/><circle cx="275.8" cy="401.2" r="0.8"/><circle cx="276.1" cy="400.8" r="0.8"/><circle cx="276.3" cy="400.9" r="0.8"/><circle cx="276.6" cy="400.9" r="0.8"/><circle cx="276.9" cy="401.0" r="0.8"/><circle cx="277.1" cy="400.8" r="0.8"/><circle cx="277.4" cy="401.0" r="0.8"/><circle cx="277.6" cy="400.9" r="0.8"/><circle cx="277.9" cy="401.1" r="0.8"/><circle cx="278.1" cy="400.8" r="0.8"/><circle cx="278.4" cy="400.9" r="0.8"/><circle cx="278.6" cy="401.0" r="0.8"/><circle cx="278.9" cy="401.2" r="0.8"/><circle cx="279.2" cy="401.0" r="0.8"/><circle cx="279.4" cy="401.0" r="0.8"/><circle cx="279.7" cy="401.1" r="0.8"/><circle cx="279.9" cy="400.9" r="0.8"/><circle cx="280.2" cy="400.8" r="0.8"/><circle cx="280.4" cy="401.0" r="0.8"/><circle cx="280.7" cy="401.2" r="0.8"/><circle cx="269.5" cy="402.1" r="0.8"/><circle cx="269.7" cy="401.9" r="0.8"/><circle cx="269.9" cy="402.1" r="0.8"/><circle cx="270.1" cy="402.1" r="0.8"/><circle cx="270.4" cy="401.9" r="0.8"/><circle cx="270.6" cy="402.0" r="0.8"/><circle cx="270.8" cy="401.9" r="0.8"/><circle cx="271.0" cy="401.9" r="0.8"/><circle cx="271.3" cy="401.9" r="0.8"/><circle cx="271.5" cy="401.9" r="0.8"/><circle cx="271.7" cy="401.9" r="0.8"/><circle cx="271.9" cy="401.8" r="0.8"/><circle cx="272.2" cy="402.0" r="0.8"/><circle cx="272.4" cy="401.8" r="0.8"/><circle cx="272.6" cy="402.1" r="0.8"/><circle cx="272.8" cy="402.0" r="0.8"/><circle cx="273.1" cy="401.8" r="0.8"/><circle cx="273.3" cy="402.1" r="0.8"/><circle cx="273.5" cy="401.9" r="0.8"/><circle cx="273.7" cy="402.0" r="0.8"/><circle cx="274.0" cy="402.0" r="0.8"/><circle cx="274.2" cy="401.9" r="0.8"/><circle cx="274.4" cy="401.9" r="0.8"/><circle cx="274.6" cy="402.0" r="0.8"/><circle cx="274.9" cy="401.9" r="0.8"/><circle cx="275.1" cy="402.1" r="0.8"/><circle cx="275.3" cy="401.8" r="0.8"/><circle cx="275.5" cy="402.1" r="0.8"/><circle cx="275.8" cy="401.9" r="0.8"/><circle cx="276.0" cy="401.9" r="0.8"/><circle cx="276.2" cy="402.0" r="0.8"/><circle cx="276.4" cy="401.8" r="0.8"/><circle cx="276.7" cy="401.9" r="0.8"/><circle cx="276.9" cy="401.9" r="0.8"/><circle cx="277.1" cy="402.0" r="0.8"/><circle cx="277.3" cy="402.2" r="0.8"/><circle cx="277.6" cy="402.2" r="0.8"/><circle cx="277.8" cy="401.8" r="0.8"/><circle cx="278.0" cy="402.0" r="0.8"/><circle cx="278.2" cy="401.9" r="0.8"/><circle cx="278.5" cy="402.1" r="0.8"/><circle cx="278.7" cy="401.9" r="0.8"/><circle cx="278.9" cy="402.2" r="0.8"/><circle cx="279.1" cy="402.0" r="0.8"/><circle cx="279.4" cy="401.9" r="0.8"/><circle cx="279.6" cy="401.8" r="0.8"/><circle cx="279.8" cy="401.9" r="0.8"/><circle cx="280.0" cy="402.1" r="0.8"/><circle cx="280.3" cy="401.9" r="0.8"/><circle cx="280.5" cy="402.0" r="0.8"/><circle cx="280.7" cy="401.9" r="0.8"/><circle cx="280.9" cy="401.9" r="0.8"/><circle cx="270.3" cy="403.1" r="0.8"/><circle cx="270.6" cy="402.9" r="0.8"/><circle cx="270.8" cy="403.1" r="0.8"/><circle cx="271.0" cy="403.1" r="0.8"/><circle cx="271.3" cy="403.2" r="0.8"/><circle cx="271.5" cy="403.0" r="0.8"/><circle cx="271.7" cy="403.2" r="0.8"/><circle cx="272.0" cy="403.0" r="0.8"/><circle cx="272.2" cy="403.0" r="0.8"/><circle cx="272.4" cy="403.0" r="0.8"/><circle cx="272.7" cy="403.1" r="0.8"/><circle cx="272.9" cy="403.2" r="0.8"/><circle cx="273.1" cy="402.8" r="0.8"/><circle cx="273.3" cy="402.9" r="0.8"/><circle cx="273.6" cy="403.0" r="0.8"/><circle cx="273.8" cy="403.1" r="0.8"/><circle cx="274.0" cy="403.0" r="0.8"/><circle cx="274.3" cy="402.9" r="0.8"/><circle cx="274.5" cy="403.2" r="0.8"/><circle cx="274.7" cy="402.9" r="0.8"/><circle cx="275.0" cy="402.8" r="0.8"/><circle cx="275.2" cy="402.8" r="0.8"/><circle cx="275.4" cy="402.8" r="0.8"/><circle cx="275.7" cy="403.1" r="0.8"/><circle cx="275.9" cy="402.8" r="0.8"/><circle cx="276.1" cy="403.1" r="0.8"/><circle cx="276.4" cy="403.1" r="0.8"/><circle cx="276.6" cy="403.2" r="0.8"/><circle cx="276.8" cy="403.1" r="0.8"/><circle cx="277.1" cy="403.0" r="0.8"/><circle cx="277.3" cy="403.0" r="0.8"/><circle cx="277.5" cy="403.1" r="0.8"/><circle cx="277.7" cy="403.1" r="0.8"/><circle cx="278.0" cy="402.9" r="0.8"/><circle cx="278.2" cy="403.1" r="0.8"/><circle cx="278.4" cy="402.8" r="0.8"/><circle cx="278.7" cy="402.9" r="0.8"/><circle cx="278.9" cy="403.2" r="0.8"/><circle cx="279.1" cy="403.0" r="0.8"/><circle cx="279.4" cy="402.9" r="0.8"/><circle cx="279.6" cy="403.1" r="0.8"/><circle cx="279.8" cy="403.0" r="0.8"/><circle cx="280.1" cy="402.8" r="0.8"/><circle cx="272.2" cy="403.8" r="0.8"/><circle cx="272.7" cy="403.9" r="0.8"/><circle cx="273.2" cy="403.9" r="0.8"/><circle cx="273.7" cy="404.2" r="0.8"/><circle cx="274.2" cy="403.9" r="0.8"/><circle cx="274.7" cy="404.1" r="0.8"/><circle cx="275.2" cy="404.1" r="0.8"/><circle cx="275.7" cy="404.0" r="0.8"/><circle cx="276.2" cy="404.2" r="0.8"/><circle cx="276.7" cy="404.1" r="0.8"/><circle cx="277.2" cy="404.0" r="0.8"/><circle cx="277.7" cy="403.9" r="0.8"/><circle cx="278.2" cy="404.0" r="0.8"/><circle cx="273.9" cy="405.2" r="0.8"/><circle cx="274.5" cy="405.0" r="0.8"/><circle cx="275.2" cy="404.9" r="0.8"/><circle cx="275.9" cy="405.0" r="0.8"/><circle cx="276.5" cy="405.0" r="0.8"/></g>
<g fill="#b3197f" opacity="1.0"><circle cx="294.2" cy="361.8" r="0.8"/><circle cx="293.6" cy="365.1" r="0.8"/><circle cx="294.8" cy="365.1" r="0.8"/><circle cx="294.2" cy="369.2" r="0.8"/><circle cx="293.1" cy="369.9" r="0.8"/><circle cx="294.2" cy="369.9" r="0.8"/><circle cx="295.3" cy="370.1" r="0.8"/><circle cx="294.2" cy="371.1" r="0.8"/><circle cx="293.6" cy="373.9" r="0.8"/><circle cx="294.8" cy="374.1" r="0.8"/><circle cx="293.1" cy="375.0" r="0.8"/><circle cx="294.2" cy="375.1" r="0.8"/><circle cx="295.3" cy="374.8" r="0.8"/><circle cx="294.2" cy="375.9" r="0.8"/><circle cx="293.1" cy="377.2" r="0.8"/><circle cx="294.2" cy="376.9" r="0.8"/><circle cx="295.3" cy="376.9" r="0.8"/><circle cx="293.6" cy="378.1" r="0.8"/><circle cx="294.8" cy="378.1" r="0.8"/><circle cx="292.5" cy="378.9" r="0.8"/><circle cx="293.6" cy="379.0" r="0.8"/><circle cx="294.8" cy="379.1" r="0.8"/><circle cx="295.9" cy="378.9" r="0.8"/><circle cx="293.1" cy="380.1" r="0.8"/><circle cx="294.2" cy="379.8" r="0.8"/><circle cx="295.3" cy="379.9" r="0.8"/><circle cx="291.9" cy="380.8" r="0.8"/><circle cx="293.1" cy="380.9" r="0.8"/><circle cx="294.2" cy="381.2" r="0.8"/><circle cx="295.3" cy="381.0" r="0.8"/><circle cx="296.5" cy="381.2" r="0.8"/><circle cx="290.0" cy="382.0" r="0.8"/><circle cx="290.9" cy="382.0" r="0.8"/><circle cx="291.9" cy="382.1" r="0.8"/><circle cx="292.8" cy="382.1" r="0.8"/><circle cx="293.7" cy="381.8" r="0.8"/><circle cx="294.7" cy="382.0" r="0.8"/><circle cx="295.6" cy="382.1" r="0.8"/><circle cx="296.5" cy="381.9" r="0.8"/><circle cx="297.5" cy="381.8" r="0.8"/><circle cx="298.4" cy="382.1" r="0.8"/><circle cx="290.8" cy="383.0" r="0.8"/><circle cx="291.9" cy="382.9" r="0.8"/><circle cx="293.1" cy="383.0" r="0.8"/><circle cx="294.2" cy="382.9" r="0.8"/><circle cx="295.3" cy="383.1" r="0.8"/><circle cx="296.5" cy="383.0" r="0.8"/><circle cx="297.6" cy="382.8" r="0.8"/><circle cx="293.1" cy="384.1" r="0.8"/><circle cx="294.2" cy="383.8" r="0.8"/><circle cx="295.3" cy="383.9" r="0.8"/><circle cx="290.2" cy="384.8" r="0.8"/><circle cx="291.1" cy="385.1" r="0.8"/><circle cx="292.0" cy="384.8" r="0.8"/><circle cx="292.9" cy="385.0" r="0.8"/><circle cx="293.8" cy="384.8" r="0.8"/><circle cx="294.6" cy="385.0" r="0.8"/><circle cx="295.5" cy="385.1" r="0.8"/><circle cx="296.4" cy="385.0" r="0.8"/><circle cx="297.3" cy="385.0" r="0.8"/><circle cx="298.2" cy="385.0" r="0.8"/><circle cx="290.8" cy="386.0" r="0.8"/><circle cx="291.9" cy="386.0" r="0.8"/><circle cx="293.1" cy="385.8" r="0.8"/><circle cx="294.2" cy="386.0" r="0.8"/><circle cx="295.3" cy="385.9" r="0.8"/><circle cx="296.5" cy="386.1" r="0.8"/><circle cx="297.6" cy="386.2" r="0.8"/><circle cx="291.9" cy="386.8" r="0.8"/><circle cx="293.1" cy="386.9" r="0.8"/><circle cx="294.2" cy="387.1" r="0.8"/><circle cx="295.3" cy="387.0" r="0.8"/><circle cx="296.5" cy="386.8" r="0.8"/><circle cx="290.6" cy="388.1" r="0.8"/><circle cx="291.5" cy="388.2" r="0.8"/><circle cx="292.4" cy="388.0" r="0.8"/><circle cx="293.3" cy="387.9" r="0.8"/><circle cx="294.2" cy="388.0" r="0.8"/><circle cx="295.1" cy="388.2" r="0.8"/><circle cx="296.0" cy="387.9" r="0.8"/><circle cx="296.9" cy="387.9" r="0.8"/><circle cx="297.8" cy="387.9" r="0.8"/><circle cx="293.1" cy="389.1" r="0.8"/><circle cx="294.2" cy="389.0" r="0.8"/><circle cx="295.3" cy="388.9" r="0.8"/><circle cx="288.6" cy="390.0" r="0.8"/><circle cx="289.4" cy="389.8" r="0.8"/><circle cx="290.2" cy="389.9" r="0.8"/><circle cx="291.0" cy="390.2" r="0.8"/><circle cx="291.8" cy="390.0" r="0.8"/><circle cx="292.6" cy="389.9" r="0.8"/><circle cx="293.4" cy="390.2" r="0.8"/><circle cx="294.2" cy="389.9" r="0.8"/><circle cx="295.0" cy="389.9" r="0.8"/><circle cx="295.8" cy="389.8" r="0.8"/><circle cx="296.6" cy="389.9" r="0.8"/><circle cx="297.4" cy="389.9" r="0.8"/><circle cx="298.2" cy="389.9" r="0.8"/><circle cx="299.0" cy="390.1" r="0.8"/><circle cx="299.8" cy="389.9" r="0.8"/><circle cx="288.0" cy="390.9" r="0.8"/><circle cx="288.9" cy="391.0" r="0.8"/><circle cx="289.8" cy="391.2" r="0.8"/><circle cx="290.7" cy="390.9" r="0.8"/><circle cx="291.5" cy="391.1" r="0.8"/><circle cx="292.4" cy="390.9" r="0.8"/><circle cx="293.3" cy="391.0" r="0.8"/><circle cx="294.2" cy="391.0" r="0.8"/><circle cx="295.1" cy="391.2" r="0.8"/><circle cx="296.0" cy="391.1" r="0.8"/><circle cx="296.9" cy="391.0" r="0.8"/><circle cx="297.7" cy="391.1" r="0.8"/><circle cx="298.6" cy="390.9" r="0.8"/><circle cx="299.5" cy="391.0" r="0.8"/><circle cx="300.4" cy="391.2" r="0.8"/><circle cx="288.6" cy="392.0" r="0.8"/><circle cx="289.6" cy="392.1" r="0.8"/><circle cx="290.6" cy="391.9" r="0.8"/><circle cx="291.6" cy="392.2" r="0.8"/><circle cx="292.7" cy="392.0" r="0.8"/><circle cx="293.7" cy="391.9" r="0.8"/><circle cx="294.7" cy="392.2" r="0.8"/><circle cx="295.7" cy="392.0" r="0.8"/><circle cx="296.8" cy="391.9" r="0.8"/><circle cx="297.8" cy="391.9" r="0.8"/><circle cx="298.8" cy="391.8" r="0.8"/><circle cx="299.8" cy="391.9" r="0.8"/><circle cx="289.0" cy="393.1" r="0.8"/><circle cx="290.2" cy="392.9" r="0.8"/><circle cx="291.3" cy="392.9" r="0.8"/><circle cx="292.5" cy="393.0" r="0.8"/><circle cx="293.6" cy="393.0" r="0.8"/><circle cx="294.8" cy="393.0" r="0.8"/><circle cx="295.9" cy="393.1" r="0.8"/><circle cx="297.1" cy="392.9" r="0.8"/><circle cx="298.2" cy="392.9" r="0.8"/><circle cx="299.4" cy="393.0" r="0.8"/><circle cx="288.7" cy="393.9" r="0.8"/><circle cx="289.7" cy="393.9" r="0.8"/><circle cx="290.7" cy="393.9" r="0.8"/><circle cx="291.7" cy="394.1" r="0.8"/><circle cx="292.7" cy="393.9" r="0.8"/><circle cx="293.7" cy="394.1" r="0.8"/><circle cx="294.7" cy="393.9" r="0.8"/><circle cx="295.7" cy="394.1" r="0.8"/><circle cx="296.7" cy="394.1" r="0.8"/><circle cx="297.7" cy="393.9" r="0.8"/><circle cx="298.7" cy="394.2" r="0.8"/><circle cx="299.7" cy="394.1" r="0.8"/><circle cx="288.5" cy="395.0" r="0.8"/><circle cx="289.4" cy="394.8" r="0.8"/><circle cx="290.4" cy="395.0" r="0.8"/><circle cx="291.3" cy="394.9" r="0.8"/><circle cx="292.3" cy="395.0" r="0.8"/><circle cx="293.2" cy="395.2" r="0.8"/><circle cx="294.2" cy="395.1" r="0.8"/><circle cx="295.2" cy="394.8" r="0.8"/><circle cx="296.1" cy="395.1" r="0.8"/><circle cx="297.1" cy="395.2" r="0.8"/><circle cx="298.0" cy="395.0" r="0.8"/><circle cx="299.0" cy="394.8" r="0.8"/><circle cx="299.9" cy="395.1" r="0.8"/><circle cx="288.7" cy="396.0" r="0.8"/><circle cx="289.7" cy="396.2" r="0.8"/><circle cx="290.7" cy="396.1" r="0.8"/><circle cx="291.7" cy="396.1" r="0.8"/><circle cx="292.7" cy="396.2" r="0.8"/><circle cx="293.7" cy="395.8" r="0.8"/><circle cx="294.7" cy="396.1" r="0.8"/><circle cx="295.7" cy="395.9" r="0.8"/><circle cx="296.7" cy="395.9" r="0.8"/><circle cx="297.7" cy="396.0" r="0.8"/><circle cx="298.7" cy="396.0" r="0.8"/><circle cx="299.7" cy="395.8" r="0.8"/><circle cx="289.5" cy="397.0" r="0.8"/><circle cx="290.5" cy="397.1" r="0.8"/><circle cx="291.6" cy="397.0" r="0.8"/><circle cx="292.6" cy="397.0" r="0.8"/><circle cx="293.7" cy="396.9" r="0.8"/><circle cx="294.7" cy="397.2" r="0.8"/><circle cx="295.8" cy="396.9" r="0.8"/><circle cx="296.8" cy="397.1" r="0.8"/><circle cx="297.9" cy="397.1" r="0.8"/><circle cx="298.9" cy="396.8" r="0.8"/><circle cx="291.3" cy="398.2" r="0.8"/><circle cx="292.5" cy="397.9" r="0.8"/><circle cx="293.6" cy="398.2" r="0.8"/><circle cx="294.8" cy="398.2" r="0.8"/><circle cx="295.9" cy="398.2" r="0.8"/><circle cx="297.1" cy="398.1" r="0.8"/><circle cx="290.8" cy="399.0" r="0.8"/><circle cx="291.8" cy="399.0" r="0.8"/><circle cx="292.7" cy="398.9" r="0.8"/><circle cx="293.7" cy="399.2" r="0.8"/><circle cx="294.7" cy="398.8" r="0.8"/><circle cx="295.7" cy="398.9" r="0.8"/><circle cx="296.6" cy="399.2" r="0.8"/><circle cx="297.6" cy="399.1" r="0.8"/><circle cx="293.6" cy="400.1" r="0.8"/><circle cx="294.8" cy="400.2" r="0.8"/><circle cx="291.5" cy="401.0" r="0.8"/><circle cx="292.4" cy="401.1" r="0.8"/><circle cx="293.3" cy="401.0" r="0.8"/><circle cx="294.2" cy="401.2" r="0.8"/><circle cx="295.1" cy="400.8" r="0.8"/><circle cx="296.0" cy="401.0" r="0.8"/><circle cx="296.9" cy="401.0" r="0.8"/><circle cx="294.2" cy="402.1" r="0.8"/><circle cx="293.1" cy="403.0" r="0.8"/><circle cx="294.2" cy="403.1" r="0.8"/><circle cx="295.3" cy="403.2" r="0.8"/><circle cx="291.9" cy="404.0" r="0.8"/><circle cx="293.1" cy="403.9" r="0.8"/><circle cx="294.2" cy="403.8" r="0.8"/><circle cx="295.3" cy="404.1" r="0.8"/><circle cx="296.5" cy="404.0" r="0.8"/><circle cx="294.2" cy="405.0" r="0.8"/></g>
<line x1="238.00" y1="404.56" x2="238.00" y2="398.05" stroke="#0a0a0a" stroke-width="0.9" />
<line x1="231.80" y1="401.49" x2="244.20" y2="401.49" stroke="#0a0a0a" stroke-width="1.3" />
<line x1="235.00" y1="404.56" x2="241.00" y2="404.56" stroke="#0a0a0a" stroke-width="0.9" />
<line x1="235.00" y1="398.05" x2="241.00" y2="398.05" stroke="#0a0a0a" stroke-width="0.9" />
<line x1="256.60" y1="397.68" x2="256.60" y2="381.12" stroke="#0a0a0a" stroke-width="0.9" />
<line x1="250.40" y1="389.49" x2="262.80" y2="389.49" stroke="#0a0a0a" stroke-width="1.3" />
<line x1="253.60" y1="397.68" x2="259.60" y2="397.68" stroke="#0a0a0a" stroke-width="0.9" />
<line x1="253.60" y1="381.12" x2="259.60" y2="381.12" stroke="#0a0a0a" stroke-width="0.9" />
<line x1="275.20" y1="403.91" x2="275.20" y2="398.05" stroke="#0a0a0a" stroke-width="0.9" />
<line x1="269.00" y1="401.03" x2="281.40" y2="401.03" stroke="#0a0a0a" stroke-width="1.3" />
<line x1="272.20" y1="403.91" x2="278.20" y2="403.91" stroke="#0a0a0a" stroke-width="0.9" />
<line x1="272.20" y1="398.05" x2="278.20" y2="398.05" stroke="#0a0a0a" stroke-width="0.9" />
<line x1="294.20" y1="397.68" x2="294.20" y2="380.85" stroke="#0a0a0a" stroke-width="0.9" />
<line x1="288.00" y1="389.49" x2="300.40" y2="389.49" stroke="#0a0a0a" stroke-width="1.3" />
<line x1="291.20" y1="397.68" x2="297.20" y2="397.68" stroke="#0a0a0a" stroke-width="0.9" />
<line x1="291.20" y1="380.85" x2="297.20" y2="380.85" stroke="#0a0a0a" stroke-width="0.9" />
<path d="M236.40 355.40 V349.50 H276.60 V355.40" fill="none" stroke="#111" stroke-width="1.8" stroke-linejoin="miter"/>
<text x="256.50" y="344.90" font-size="8.0" text-anchor="middle" fill="#222" stroke="#222" stroke-width="0.18" >ns</text>
<path d="M257.40 333.60 V327.70 H294.00 V333.60" fill="none" stroke="#111" stroke-width="1.8" stroke-linejoin="miter"/>
<text x="275.70" y="322.70" font-size="8.0" text-anchor="middle" fill="#222" stroke="#222" stroke-width="0.18" >ns</text>
<text transform="translate(203.5,380.7) rotate(-90)" font-size="7.5" font-weight="bold" text-anchor="middle" fill="#111">ALK1 Signaling Index (ASI)</text>
<text x="198.80" y="445.40" font-size="8.0" text-anchor="middle" fill="#222" stroke="#222" stroke-width="0.18" >Shear stress</text>
<text x="198.90" y="458.60" font-size="8.0" text-anchor="middle" fill="#222" stroke="#222" stroke-width="0.18" >Y27632</text>
<text x="199.90" y="476.00" font-size="8.0" text-anchor="middle" fill="#222" stroke="#222" stroke-width="0.18" >BMP9</text>
<text x="199.90" y="491.60" font-size="8.0" text-anchor="middle" fill="#222" stroke="#222" stroke-width="0.18" >N =</text>
<text x="248.00" y="458.60" font-size="8.0" text-anchor="middle" fill="#222" stroke="#222" stroke-width="0.18" >0</text>
<text x="284.80" y="458.60" font-size="8.0" text-anchor="middle" fill="#222" stroke="#222" stroke-width="0.18" >10</text>
<line x1="232.40" y1="464.80" x2="262.90" y2="464.80" stroke="#111" stroke-width="1.6" />
<line x1="268.00" y1="464.80" x2="299.80" y2="464.80" stroke="#111" stroke-width="1.6" />
<text x="265.50" y="476.20" font-size="8.0" text-anchor="middle" fill="#222" stroke="#222" stroke-width="0.18" >0</text>
<line x1="232.40" y1="481.60" x2="299.80" y2="481.60" stroke="#111" stroke-width="1.6" />
<text x="238.10" y="491.60" font-size="8.0" text-anchor="middle" fill="#222" stroke="#222" stroke-width="0.18" >228</text>
<text x="256.50" y="491.60" font-size="8.0" text-anchor="middle" fill="#222" stroke="#222" stroke-width="0.18" >259</text>
<text x="275.00" y="491.60" font-size="8.0" text-anchor="middle" fill="#222" stroke="#222" stroke-width="0.18" >236</text>
<text x="294.60" y="491.60" font-size="8.0" text-anchor="middle" fill="#222" stroke="#222" stroke-width="0.18" >217</text>
<line x1="331.70" y1="327.70" x2="331.70" y2="431.25" stroke="#111" stroke-width="1.3" />
<line x1="330.10" y1="430.60" x2="411.00" y2="430.60" stroke="#111" stroke-width="1.3" />
<line x1="327.70" y1="421.30" x2="331.70" y2="421.30" stroke="#111" stroke-width="1.1" />
<text x="327.10" y="423.90" font-size="7.5" text-anchor="end" fill="#111" font-weight="bold" >0.4</text>
<line x1="329.30" y1="412.00" x2="331.70" y2="412.00" stroke="#111" stroke-width="0.9" />
<line x1="327.70" y1="402.70" x2="331.70" y2="402.70" stroke="#111" stroke-width="1.1" />
<text x="327.10" y="405.30" font-size="7.5" text-anchor="end" fill="#111" font-weight="bold" >0.5</text>
<line x1="329.30" y1="393.40" x2="331.70" y2="393.40" stroke="#111" stroke-width="0.9" />
<line x1="327.70" y1="384.10" x2="331.70" y2="384.10" stroke="#111" stroke-width="1.1" />
<text x="327.10" y="386.70" font-size="7.5" text-anchor="end" fill="#111" font-weight="bold" >0.6</text>
<line x1="329.30" y1="374.80" x2="331.70" y2="374.80" stroke="#111" stroke-width="0.9" />
<line x1="327.70" y1="365.50" x2="331.70" y2="365.50" stroke="#111" stroke-width="1.1" />
<text x="327.10" y="368.10" font-size="7.5" text-anchor="end" fill="#111" font-weight="bold" >0.7</text>
<line x1="329.30" y1="356.20" x2="331.70" y2="356.20" stroke="#111" stroke-width="0.9" />
<line x1="327.70" y1="346.90" x2="331.70" y2="346.90" stroke="#111" stroke-width="1.1" />
<text x="327.10" y="349.50" font-size="7.5" text-anchor="end" fill="#111" font-weight="bold" >0.8</text>
<line x1="329.30" y1="337.60" x2="331.70" y2="337.60" stroke="#111" stroke-width="0.9" />
<line x1="327.70" y1="328.30" x2="331.70" y2="328.30" stroke="#111" stroke-width="1.1" />
<text x="327.10" y="330.90" font-size="7.5" text-anchor="end" fill="#111" font-weight="bold" >0.9</text>
<line x1="344.40" y1="430.70" x2="344.40" y2="435.00" stroke="#111" stroke-width="1.0" />
<text x="344.50" y="447.80" font-size="8.0" text-anchor="middle" fill="#222" stroke="#222" stroke-width="0.18" >0</text>
<line x1="362.60" y1="430.70" x2="362.60" y2="435.00" stroke="#111" stroke-width="1.0" />
<text x="362.30" y="447.80" font-size="8.0" text-anchor="middle" fill="#222" stroke="#222" stroke-width="0.18" >19</text>
<line x1="381.00" y1="430.70" x2="381.00" y2="435.00" stroke="#111" stroke-width="1.0" />
<text x="380.40" y="447.80" font-size="8.0" text-anchor="middle" fill="#222" stroke="#222" stroke-width="0.18" >0</text>
<line x1="399.30" y1="430.70" x2="399.30" y2="435.00" stroke="#111" stroke-width="1.0" />
<text x="401.20" y="447.80" font-size="8.0" text-anchor="middle" fill="#222" stroke="#222" stroke-width="0.18" >19</text>
<g fill="#a6a6a6" opacity="1.0"><circle cx="344.4" cy="386.9" r="0.8"/><circle cx="344.4" cy="389.1" r="0.8"/><circle cx="344.4" cy="391.1" r="0.8"/><circle cx="343.8" cy="392.0" r="0.8"/><circle cx="345.0" cy="391.9" r="0.8"/><circle cx="343.1" cy="393.1" r="0.8"/><circle cx="344.0" cy="393.1" r="0.8"/><circle cx="344.8" cy="393.0" r="0.8"/><circle cx="345.7" cy="393.0" r="0.8"/><circle cx="343.1" cy="393.9" r="0.8"/><circle cx="343.7" cy="393.8" r="0.8"/><circle cx="344.4" cy="393.9" r="0.8"/><circle cx="345.1" cy="394.0" r="0.8"/><circle cx="345.7" cy="393.8" r="0.8"/><circle cx="343.8" cy="395.1" r="0.8"/><circle cx="345.0" cy="394.9" r="0.8"/><circle cx="342.4" cy="395.9" r="0.8"/><circle cx="343.2" cy="395.8" r="0.8"/><circle cx="344.0" cy="396.2" r="0.8"/><circle cx="344.8" cy="396.1" r="0.8"/><circle cx="345.6" cy="396.2" r="0.8"/><circle cx="346.4" cy="396.0" r="0.8"/><circle cx="341.2" cy="396.8" r="0.8"/><circle cx="341.6" cy="396.9" r="0.8"/><circle cx="342.1" cy="397.0" r="0.8"/><circle cx="342.5" cy="396.8" r="0.8"/><circle cx="343.0" cy="397.2" r="0.8"/><circle cx="343.5" cy="396.9" r="0.8"/><circle cx="343.9" cy="396.9" r="0.8"/><circle cx="344.4" cy="397.1" r="0.8"/><circle cx="344.9" cy="396.8" r="0.8"/><circle cx="345.3" cy="397.2" r="0.8"/><circle cx="345.8" cy="397.0" r="0.8"/><circle cx="346.3" cy="397.0" r="0.8"/><circle cx="346.7" cy="396.9" r="0.8"/><circle cx="347.2" cy="397.0" r="0.8"/><circle cx="347.6" cy="396.9" r="0.8"/><circle cx="340.0" cy="397.8" r="0.8"/><circle cx="340.4" cy="398.1" r="0.8"/><circle cx="340.9" cy="397.9" r="0.8"/><circle cx="341.3" cy="398.1" r="0.8"/><circle cx="341.8" cy="397.9" r="0.8"/><circle cx="342.2" cy="398.2" r="0.8"/><circle cx="342.6" cy="398.2" r="0.8"/><circle cx="343.1" cy="398.1" r="0.8"/><circle cx="343.5" cy="398.1" r="0.8"/><circle cx="344.0" cy="398.0" r="0.8"/><circle cx="344.4" cy="398.1" r="0.8"/><circle cx="344.8" cy="397.8" r="0.8"/><circle cx="345.3" cy="398.0" r="0.8"/><circle cx="345.7" cy="398.1" r="0.8"/><circle cx="346.2" cy="397.9" r="0.8"/><circle cx="346.6" cy="398.2" r="0.8"/><circle cx="347.0" cy="398.2" r="0.8"/><circle cx="347.5" cy="398.0" r="0.8"/><circle cx="347.9" cy="397.9" r="0.8"/><circle cx="348.4" cy="398.0" r="0.8"/><circle cx="348.8" cy="398.0" r="0.8"/><circle cx="339.0" cy="399.2" r="0.8"/><circle cx="339.4" cy="399.0" r="0.8"/><circle cx="339.7" cy="398.8" r="0.8"/><circle cx="340.1" cy="398.8" r="0.8"/><circle cx="340.4" cy="399.1" r="0.8"/><circle cx="340.8" cy="399.2" r="0.8"/><circle cx="341.2" cy="399.0" r="0.8"/><circle cx="341.5" cy="399.0" r="0.8"/><circle cx="341.9" cy="399.0" r="0.8"/><circle cx="342.2" cy="399.1" r="0.8"/><circle cx="342.6" cy="398.9" r="0.8"/><circle cx="343.0" cy="399.0" r="0.8"/><circle cx="343.3" cy="399.0" r="0.8"/><circle cx="343.7" cy="399.0" r="0.8"/><circle cx="344.0" cy="398.9" r="0.8"/><circle cx="344.4" cy="398.9" r="0.8"/><circle cx="344.8" cy="398.9" r="0.8"/><circle cx="345.1" cy="399.2" r="0.8"/><circle cx="345.5" cy="398.9" r="0.8"/><circle cx="345.8" cy="399.0" r="0.8"/><circle cx="346.2" cy="398.9" r="0.8"/><circle cx="346.6" cy="398.8" r="0.8"/><circle cx="346.9" cy="398.8" r="0.8"/><circle cx="347.3" cy="399.1" r="0.8"/><circle cx="347.6" cy="399.1" r="0.8"/><circle cx="348.0" cy="398.9" r="0.8"/><circle cx="348.4" cy="399.1" r="0.8"/><circle cx="348.7" cy="399.1" r="0.8"/><circle cx="349.1" cy="399.2" r="0.8"/><circle cx="349.4" cy="399.2" r="0.8"/><circle cx="349.8" cy="399.0" r="0.8"/><circle cx="338.7" cy="400.2" r="0.8"/><circle cx="339.0" cy="400.2" r="0.8"/><circle cx="339.4" cy="400.0" r="0.8"/><circle cx="339.7" cy="400.2" r="0.8"/><circle cx="340.0" cy="400.0" r="0.8"/><circle cx="340.4" cy="400.0" r="0.8"/><circle cx="340.7" cy="399.9" r="0.8"/><circle cx="341.0" cy="400.2" r="0.8"/><circle cx="341.4" cy="399.9" r="0.8"/><circle cx="341.7" cy="399.8" r="0.8"/><circle cx="342.0" cy="400.1" r="0.8"/><circle cx="342.4" cy="400.1" r="0.8"/><circle cx="342.7" cy="400.0" r="0.8"/><circle cx="343.1" cy="400.1" r="0.8"/><circle cx="343.4" cy="399.8" r="0.8"/><circle cx="343.7" cy="399.9" r="0.8"/><circle cx="344.1" cy="399.9" r="0.8"/><circle cx="344.4" cy="400.0" r="0.8"/><circle cx="344.7" cy="399.9" r="0.8"/><circle cx="345.1" cy="399.8" r="0.8"/><circle cx="345.4" cy="399.9" r="0.8"/><circle cx="345.7" cy="400.2" r="0.8"/><circle cx="346.1" cy="400.2" r="0.8"/><circle cx="346.4" cy="400.1" r="0.8"/><circle cx="346.8" cy="400.0" r="0.8"/><circle cx="347.1" cy="399.9" r="0.8"/><circle cx="347.4" cy="400.2" r="0.8"/><circle cx="347.8" cy="400.0" r="0.8"/><circle cx="348.1" cy="400.1" r="0.8"/><circle cx="348.4" cy="399.8" r="0.8"/><circle cx="348.8" cy="399.9" r="0.8"/><circle cx="349.1" cy="400.1" r="0.8"/><circle cx="349.4" cy="400.1" r="0.8"/><circle cx="349.8" cy="400.2" r="0.8"/><circle cx="350.1" cy="400.0" r="0.8"/><circle cx="339.0" cy="401.0" r="0.8"/><circle cx="339.4" cy="401.0" r="0.8"/><circle cx="339.9" cy="401.1" r="0.8"/><circle cx="340.3" cy="400.9" r="0.8"/><circle cx="340.7" cy="401.0" r="0.8"/><circle cx="341.1" cy="400.9" r="0.8"/><circle cx="341.5" cy="401.1" r="0.8"/><circle cx="341.9" cy="400.8" r="0.8"/><circle cx="342.3" cy="401.1" r="0.8"/><circle cx="342.7" cy="401.2" r="0.8"/><circle cx="343.2" cy="400.8" r="0.8"/><circle cx="343.6" cy="401.0" r="0.8"/><circle cx="344.0" cy="401.1" r="0.8"/><circle cx="344.4" cy="401.1" r="0.8"/><circle cx="344.8" cy="401.0" r="0.8"/><circle cx="345.2" cy="400.9" r="0.8"/><circle cx="345.6" cy="401.0" r="0.8"/><circle cx="346.1" cy="401.2" r="0.8"/><circle cx="346.5" cy="401.2" r="0.8"/><circle cx="346.9" cy="400.9" r="0.8"/><circle cx="347.3" cy="400.8" r="0.8"/><circle cx="347.7" cy="400.8" r="0.8"/><circle cx="348.1" cy="400.8" r="0.8"/><circle cx="348.5" cy="401.0" r="0.8"/><circle cx="348.9" cy="400.9" r="0.8"/><circle cx="349.4" cy="401.1" r="0.8"/><circle cx="349.8" cy="401.1" r="0.8"/><circle cx="339.3" cy="401.9" r="0.8"/><circle cx="339.7" cy="402.0" r="0.8"/><circle cx="340.0" cy="401.9" r="0.8"/><circle cx="340.4" cy="402.0" r="0.8"/><circle cx="340.8" cy="401.9" r="0.8"/><circle cx="341.2" cy="401.9" r="0.8"/><circle cx="341.6" cy="401.9" r="0.8"/><circle cx="341.9" cy="402.0" r="0.8"/><circle cx="342.3" cy="402.1" r="0.8"/><circle cx="342.7" cy="402.0" r="0.8"/><circle cx="343.1" cy="401.8" r="0.8"/><circle cx="343.5" cy="402.1" r="0.8"/><circle cx="343.8" cy="402.1" r="0.8"/><circle cx="344.2" cy="402.1" r="0.8"/><circle cx="344.6" cy="402.1" r="0.8"/><circle cx="345.0" cy="401.8" r="0.8"/><circle cx="345.3" cy="402.0" r="0.8"/><circle cx="345.7" cy="401.8" r="0.8"/><circle cx="346.1" cy="402.1" r="0.8"/><circle cx="346.5" cy="401.9" r="0.8"/><circle cx="346.9" cy="402.1" r="0.8"/><circle cx="347.2" cy="401.9" r="0.8"/><circle cx="347.6" cy="402.1" r="0.8"/><circle cx="348.0" cy="401.9" r="0.8"/><circle cx="348.4" cy="401.8" r="0.8"/><circle cx="348.8" cy="402.0" r="0.8"/><circle cx="349.1" cy="401.9" r="0.8"/><circle cx="349.5" cy="402.2" r="0.8"/><circle cx="339.7" cy="402.9" r="0.8"/><circle cx="340.1" cy="403.0" r="0.8"/><circle cx="340.5" cy="403.0" r="0.8"/><circle cx="340.8" cy="403.2" r="0.8"/><circle cx="341.2" cy="402.8" r="0.8"/><circle cx="341.6" cy="403.0" r="0.8"/><circle cx="342.0" cy="403.0" r="0.8"/><circle cx="342.3" cy="403.1" r="0.8"/><circle cx="342.7" cy="403.2" r="0.8"/><circle cx="343.1" cy="402.9" r="0.8"/><circle cx="343.5" cy="403.1" r="0.8"/><circle cx="343.8" cy="403.0" r="0.8"/><circle cx="344.2" cy="403.0" r="0.8"/><circle cx="344.6" cy="402.8" r="0.8"/><circle cx="345.0" cy="403.1" r="0.8"/><circle cx="345.3" cy="403.2" r="0.8"/><circle cx="345.7" cy="402.9" r="0.8"/><circle cx="346.1" cy="402.9" r="0.8"/><circle cx="346.5" cy="403.2" r="0.8"/><circle cx="346.8" cy="402.8" r="0.8"/><circle cx="347.2" cy="402.8" r="0.8"/><circle cx="347.6" cy="402.8" r="0.8"/><circle cx="348.0" cy="403.1" r="0.8"/><circle cx="348.3" cy="403.1" r="0.8"/><circle cx="348.7" cy="403.0" r="0.8"/><circle cx="349.1" cy="403.0" r="0.8"/><circle cx="340.8" cy="403.8" r="0.8"/><circle cx="341.2" cy="404.1" r="0.8"/><circle cx="341.7" cy="404.0" r="0.8"/><circle cx="342.2" cy="404.0" r="0.8"/><circle cx="342.7" cy="404.0" r="0.8"/><circle cx="343.2" cy="404.0" r="0.8"/><circle cx="343.7" cy="403.9" r="0.8"/><circle cx="344.2" cy="403.8" r="0.8"/><circle cx="344.6" cy="404.0" r="0.8"/><circle cx="345.1" cy="403.9" r="0.8"/><circle cx="345.6" cy="404.1" r="0.8"/><circle cx="346.1" cy="404.1" r="0.8"/><circle cx="346.6" cy="404.1" r="0.8"/><circle cx="347.1" cy="404.0" r="0.8"/><circle cx="347.6" cy="403.9" r="0.8"/><circle cx="348.0" cy="404.0" r="0.8"/><circle cx="342.0" cy="405.0" r="0.8"/><circle cx="342.6" cy="405.1" r="0.8"/><circle cx="343.2" cy="405.2" r="0.8"/><circle cx="343.8" cy="404.8" r="0.8"/><circle cx="344.4" cy="405.0" r="0.8"/><circle cx="345.0" cy="405.0" r="0.8"/><circle cx="345.6" cy="405.1" r="0.8"/><circle cx="346.2" cy="405.2" r="0.8"/><circle cx="346.8" cy="405.1" r="0.8"/><circle cx="343.8" cy="406.1" r="0.8"/><circle cx="345.0" cy="406.1" r="0.8"/><circle cx="343.9" cy="408.1" r="0.8"/><circle cx="344.9" cy="408.1" r="0.8"/></g>
<g fill="#2cb4e6" opacity="1.0"><circle cx="362.0" cy="335.2" r="0.8"/><circle cx="363.2" cy="334.9" r="0.8"/><circle cx="362.6" cy="336.8" r="0.8"/><circle cx="360.9" cy="338.2" r="0.8"/><circle cx="362.0" cy="337.9" r="0.8"/><circle cx="363.2" cy="337.8" r="0.8"/><circle cx="364.3" cy="338.1" r="0.8"/><circle cx="361.5" cy="339.9" r="0.8"/><circle cx="362.6" cy="340.2" r="0.8"/><circle cx="363.8" cy="339.9" r="0.8"/><circle cx="362.6" cy="341.2" r="0.8"/><circle cx="362.0" cy="341.9" r="0.8"/><circle cx="363.2" cy="342.0" r="0.8"/><circle cx="360.9" cy="343.2" r="0.8"/><circle cx="362.0" cy="343.1" r="0.8"/><circle cx="363.2" cy="343.2" r="0.8"/><circle cx="364.3" cy="343.1" r="0.8"/><circle cx="360.9" cy="343.8" r="0.8"/><circle cx="362.0" cy="344.2" r="0.8"/><circle cx="363.2" cy="344.0" r="0.8"/><circle cx="364.3" cy="343.9" r="0.8"/><circle cx="360.3" cy="344.9" r="0.8"/><circle cx="361.5" cy="345.1" r="0.8"/><circle cx="362.6" cy="345.0" r="0.8"/><circle cx="363.8" cy="345.2" r="0.8"/><circle cx="364.9" cy="345.1" r="0.8"/><circle cx="359.2" cy="346.2" r="0.8"/><circle cx="360.3" cy="346.0" r="0.8"/><circle cx="361.5" cy="346.1" r="0.8"/><circle cx="362.6" cy="346.0" r="0.8"/><circle cx="363.8" cy="345.9" r="0.8"/><circle cx="364.9" cy="346.2" r="0.8"/><circle cx="366.1" cy="345.9" r="0.8"/><circle cx="360.3" cy="347.1" r="0.8"/><circle cx="361.5" cy="347.2" r="0.8"/><circle cx="362.6" cy="347.1" r="0.8"/><circle cx="363.8" cy="346.9" r="0.8"/><circle cx="364.9" cy="347.1" r="0.8"/><circle cx="359.2" cy="348.1" r="0.8"/><circle cx="360.3" cy="347.9" r="0.8"/><circle cx="361.5" cy="347.8" r="0.8"/><circle cx="362.6" cy="348.0" r="0.8"/><circle cx="363.8" cy="347.8" r="0.8"/><circle cx="364.9" cy="348.2" r="0.8"/><circle cx="366.1" cy="348.0" r="0.8"/><circle cx="358.0" cy="349.0" r="0.8"/><circle cx="359.2" cy="349.0" r="0.8"/><circle cx="360.3" cy="349.1" r="0.8"/><circle cx="361.5" cy="349.2" r="0.8"/><circle cx="362.6" cy="348.9" r="0.8"/><circle cx="363.8" cy="348.9" r="0.8"/><circle cx="364.9" cy="349.0" r="0.8"/><circle cx="366.1" cy="348.9" r="0.8"/><circle cx="367.2" cy="349.0" r="0.8"/><circle cx="358.0" cy="350.0" r="0.8"/><circle cx="359.2" cy="350.0" r="0.8"/><circle cx="360.3" cy="350.1" r="0.8"/><circle cx="361.5" cy="350.0" r="0.8"/><circle cx="362.6" cy="349.8" r="0.8"/><circle cx="363.8" cy="350.2" r="0.8"/><circle cx="364.9" cy="349.9" r="0.8"/><circle cx="366.1" cy="350.0" r="0.8"/><circle cx="367.2" cy="350.0" r="0.8"/><circle cx="356.7" cy="351.2" r="0.8"/><circle cx="357.8" cy="351.2" r="0.8"/><circle cx="358.9" cy="351.0" r="0.8"/><circle cx="359.9" cy="351.0" r="0.8"/><circle cx="361.0" cy="350.8" r="0.8"/><circle cx="362.1" cy="351.2" r="0.8"/><circle cx="363.1" cy="350.9" r="0.8"/><circle cx="364.2" cy="351.0" r="0.8"/><circle cx="365.3" cy="350.9" r="0.8"/><circle cx="366.3" cy="350.9" r="0.8"/><circle cx="367.4" cy="350.9" r="0.8"/><circle cx="368.5" cy="350.9" r="0.8"/><circle cx="356.9" cy="351.8" r="0.8"/><circle cx="357.8" cy="352.0" r="0.8"/><circle cx="358.7" cy="352.1" r="0.8"/><circle cx="359.5" cy="352.1" r="0.8"/><circle cx="360.4" cy="351.9" r="0.8"/><circle cx="361.3" cy="352.1" r="0.8"/><circle cx="362.2" cy="351.8" r="0.8"/><circle cx="363.0" cy="352.0" r="0.8"/><circle cx="363.9" cy="352.1" r="0.8"/><circle cx="364.8" cy="352.2" r="0.8"/><circle cx="365.7" cy="352.0" r="0.8"/><circle cx="366.5" cy="352.1" r="0.8"/><circle cx="367.4" cy="352.0" r="0.8"/><circle cx="368.3" cy="352.0" r="0.8"/><circle cx="360.3" cy="353.0" r="0.8"/><circle cx="361.5" cy="353.2" r="0.8"/><circle cx="362.6" cy="353.1" r="0.8"/><circle cx="363.8" cy="353.0" r="0.8"/><circle cx="364.9" cy="353.1" r="0.8"/><circle cx="359.2" cy="354.1" r="0.8"/><circle cx="360.3" cy="353.9" r="0.8"/><circle cx="361.5" cy="354.1" r="0.8"/><circle cx="362.6" cy="354.1" r="0.8"/><circle cx="363.8" cy="354.0" r="0.8"/><circle cx="364.9" cy="354.2" r="0.8"/><circle cx="366.1" cy="353.8" r="0.8"/><circle cx="357.4" cy="355.0" r="0.8"/><circle cx="358.3" cy="355.1" r="0.8"/><circle cx="359.3" cy="354.9" r="0.8"/><circle cx="360.2" cy="354.9" r="0.8"/><circle cx="361.2" cy="355.1" r="0.8"/><circle cx="362.1" cy="355.0" r="0.8"/><circle cx="363.1" cy="354.9" r="0.8"/><circle cx="364.0" cy="354.8" r="0.8"/><circle cx="365.0" cy="355.2" r="0.8"/><circle cx="365.9" cy="354.9" r="0.8"/><circle cx="366.9" cy="354.8" r="0.8"/><circle cx="367.8" cy="354.9" r="0.8"/><circle cx="358.0" cy="355.9" r="0.8"/><circle cx="359.2" cy="356.1" r="0.8"/><circle cx="360.3" cy="355.9" r="0.8"/><circle cx="361.5" cy="355.9" r="0.8"/><circle cx="362.6" cy="355.8" r="0.8"/><circle cx="363.8" cy="356.0" r="0.8"/><circle cx="364.9" cy="355.9" r="0.8"/><circle cx="366.1" cy="355.9" r="0.8"/><circle cx="367.2" cy="356.1" r="0.8"/><circle cx="357.4" cy="357.2" r="0.8"/><circle cx="358.3" cy="357.1" r="0.8"/><circle cx="359.3" cy="356.8" r="0.8"/><circle cx="360.2" cy="357.0" r="0.8"/><circle cx="361.2" cy="357.1" r="0.8"/><circle cx="362.1" cy="356.8" r="0.8"/><circle cx="363.1" cy="356.9" r="0.8"/><circle cx="364.0" cy="357.0" r="0.8"/><circle cx="365.0" cy="357.0" r="0.8"/><circle cx="365.9" cy="357.1" r="0.8"/><circle cx="366.9" cy="357.1" r="0.8"/><circle cx="367.8" cy="357.0" r="0.8"/><circle cx="359.2" cy="357.9" r="0.8"/><circle cx="360.3" cy="357.9" r="0.8"/><circle cx="361.5" cy="357.9" r="0.8"/><circle cx="362.6" cy="357.8" r="0.8"/><circle cx="363.8" cy="358.1" r="0.8"/><circle cx="364.9" cy="357.9" r="0.8"/><circle cx="366.1" cy="358.2" r="0.8"/><circle cx="358.6" cy="359.1" r="0.8"/><circle cx="359.7" cy="358.8" r="0.8"/><circle cx="360.9" cy="359.0" r="0.8"/><circle cx="362.0" cy="359.0" r="0.8"/><circle cx="363.2" cy="358.8" r="0.8"/><circle cx="364.3" cy="359.0" r="0.8"/><circle cx="365.5" cy="358.8" r="0.8"/><circle cx="366.6" cy="359.1" r="0.8"/><circle cx="358.6" cy="359.8" r="0.8"/><circle cx="359.7" cy="360.1" r="0.8"/><circle cx="360.9" cy="360.2" r="0.8"/><circle cx="362.0" cy="360.1" r="0.8"/><circle cx="363.2" cy="359.9" r="0.8"/><circle cx="364.3" cy="360.0" r="0.8"/><circle cx="365.5" cy="359.9" r="0.8"/><circle cx="366.6" cy="359.9" r="0.8"/><circle cx="360.3" cy="361.1" r="0.8"/><circle cx="361.5" cy="361.1" r="0.8"/><circle cx="362.6" cy="360.8" r="0.8"/><circle cx="363.8" cy="361.0" r="0.8"/><circle cx="364.9" cy="361.1" r="0.8"/><circle cx="359.2" cy="361.9" r="0.8"/><circle cx="360.3" cy="362.1" r="0.8"/><circle cx="361.5" cy="362.2" r="0.8"/><circle cx="362.6" cy="362.0" r="0.8"/><circle cx="363.8" cy="361.9" r="0.8"/><circle cx="364.9" cy="362.1" r="0.8"/><circle cx="366.1" cy="362.0" r="0.8"/><circle cx="360.3" cy="362.9" r="0.8"/><circle cx="361.5" cy="362.9" r="0.8"/><circle cx="362.6" cy="362.9" r="0.8"/><circle cx="363.8" cy="363.1" r="0.8"/><circle cx="364.9" cy="363.0" r="0.8"/><circle cx="358.5" cy="364.1" r="0.8"/><circle cx="359.4" cy="364.1" r="0.8"/><circle cx="360.3" cy="364.2" r="0.8"/><circle cx="361.2" cy="363.9" r="0.8"/><circle cx="362.1" cy="364.0" r="0.8"/><circle cx="363.1" cy="364.1" r="0.8"/><circle cx="364.0" cy="364.1" r="0.8"/><circle cx="364.9" cy="364.0" r="0.8"/><circle cx="365.8" cy="364.1" r="0.8"/><circle cx="366.7" cy="363.9" r="0.8"/><circle cx="361.5" cy="364.9" r="0.8"/><circle cx="362.6" cy="364.8" r="0.8"/><circle cx="363.8" cy="365.0" r="0.8"/><circle cx="359.7" cy="365.9" r="0.8"/><circle cx="360.9" cy="366.0" r="0.8"/><circle cx="362.0" cy="366.2" r="0.8"/><circle cx="363.2" cy="365.9" r="0.8"/><circle cx="364.3" cy="366.0" r="0.8"/><circle cx="365.5" cy="366.1" r="0.8"/><circle cx="360.9" cy="367.0" r="0.8"/><circle cx="362.0" cy="367.0" r="0.8"/><circle cx="363.2" cy="367.1" r="0.8"/><circle cx="364.3" cy="366.8" r="0.8"/><circle cx="359.2" cy="368.2" r="0.8"/><circle cx="360.3" cy="368.1" r="0.8"/><circle cx="361.5" cy="368.1" r="0.8"/><circle cx="362.6" cy="368.1" r="0.8"/><circle cx="363.7" cy="367.8" r="0.8"/><circle cx="364.9" cy="367.8" r="0.8"/><circle cx="366.0" cy="367.9" r="0.8"/><circle cx="360.9" cy="369.0" r="0.8"/><circle cx="362.0" cy="369.2" r="0.8"/><circle cx="363.2" cy="369.2" r="0.8"/><circle cx="364.3" cy="369.0" r="0.8"/><circle cx="362.6" cy="370.0" r="0.8"/><circle cx="361.5" cy="371.1" r="0.8"/><circle cx="362.6" cy="370.9" r="0.8"/><circle cx="363.8" cy="371.2" r="0.8"/><circle cx="362.0" cy="372.2" r="0.8"/><circle cx="363.2" cy="372.1" r="0.8"/><circle cx="361.5" cy="373.2" r="0.8"/><circle cx="362.6" cy="373.1" r="0.8"/><circle cx="363.8" cy="373.1" r="0.8"/><circle cx="362.0" cy="373.9" r="0.8"/><circle cx="363.2" cy="373.9" r="0.8"/><circle cx="362.6" cy="374.9" r="0.8"/><circle cx="362.0" cy="375.8" r="0.8"/><circle cx="363.2" cy="376.2" r="0.8"/><circle cx="361.5" cy="376.9" r="0.8"/><circle cx="362.6" cy="376.8" r="0.8"/><circle cx="363.8" cy="376.9" r="0.8"/><circle cx="361.5" cy="377.8" r="0.8"/><circle cx="362.6" cy="378.0" r="0.8"/><circle cx="363.8" cy="377.9" r="0.8"/><circle cx="362.0" cy="379.9" r="0.8"/><circle cx="363.2" cy="380.0" r="0.8"/><circle cx="361.5" cy="381.0" r="0.8"/><circle cx="362.6" cy="380.9" r="0.8"/><circle cx="363.8" cy="381.1" r="0.8"/><circle cx="362.6" cy="384.9" r="0.8"/><circle cx="362.6" cy="386.0" r="0.8"/><circle cx="362.6" cy="387.2" r="0.8"/><circle cx="362.6" cy="396.2" r="0.8"/></g>
<g fill="#f5a9dc" opacity="1.0"><circle cx="381.0" cy="370.2" r="0.8"/><circle cx="381.0" cy="375.2" r="0.8"/><circle cx="381.0" cy="376.2" r="0.8"/><circle cx="380.4" cy="376.8" r="0.8"/><circle cx="381.6" cy="377.0" r="0.8"/><circle cx="380.4" cy="379.0" r="0.8"/><circle cx="381.6" cy="379.0" r="0.8"/><circle cx="380.4" cy="379.9" r="0.8"/><circle cx="381.6" cy="379.9" r="0.8"/><circle cx="381.0" cy="381.0" r="0.8"/><circle cx="380.4" cy="381.9" r="0.8"/><circle cx="381.6" cy="382.0" r="0.8"/><circle cx="380.4" cy="382.8" r="0.8"/><circle cx="381.6" cy="382.8" r="0.8"/><circle cx="380.4" cy="384.1" r="0.8"/><circle cx="381.6" cy="384.0" r="0.8"/><circle cx="381.0" cy="385.0" r="0.8"/><circle cx="380.2" cy="386.1" r="0.8"/><circle cx="381.0" cy="385.9" r="0.8"/><circle cx="381.8" cy="385.8" r="0.8"/><circle cx="381.0" cy="387.1" r="0.8"/><circle cx="380.1" cy="388.0" r="0.8"/><circle cx="381.0" cy="388.1" r="0.8"/><circle cx="381.9" cy="388.0" r="0.8"/><circle cx="380.4" cy="389.2" r="0.8"/><circle cx="381.6" cy="388.9" r="0.8"/><circle cx="381.0" cy="391.1" r="0.8"/><circle cx="380.4" cy="391.9" r="0.8"/><circle cx="381.6" cy="392.0" r="0.8"/><circle cx="379.9" cy="393.1" r="0.8"/><circle cx="381.0" cy="392.9" r="0.8"/><circle cx="382.1" cy="392.8" r="0.8"/><circle cx="379.1" cy="394.0" r="0.8"/><circle cx="379.9" cy="394.1" r="0.8"/><circle cx="380.6" cy="394.0" r="0.8"/><circle cx="381.4" cy="394.0" r="0.8"/><circle cx="382.1" cy="394.1" r="0.8"/><circle cx="382.9" cy="393.9" r="0.8"/><circle cx="378.3" cy="394.9" r="0.8"/><circle cx="378.8" cy="394.9" r="0.8"/><circle cx="379.3" cy="395.1" r="0.8"/><circle cx="379.8" cy="394.9" r="0.8"/><circle cx="380.3" cy="394.8" r="0.8"/><circle cx="380.8" cy="394.8" r="0.8"/><circle cx="381.2" cy="394.8" r="0.8"/><circle cx="381.7" cy="394.9" r="0.8"/><circle cx="382.2" cy="395.0" r="0.8"/><circle cx="382.7" cy="395.1" r="0.8"/><circle cx="383.2" cy="394.9" r="0.8"/><circle cx="383.7" cy="394.9" r="0.8"/><circle cx="377.6" cy="395.9" r="0.8"/><circle cx="378.1" cy="395.9" r="0.8"/><circle cx="378.6" cy="396.1" r="0.8"/><circle cx="379.1" cy="396.0" r="0.8"/><circle cx="379.6" cy="395.9" r="0.8"/><circle cx="380.0" cy="395.8" r="0.8"/><circle cx="380.5" cy="396.1" r="0.8"/><circle cx="381.0" cy="396.1" r="0.8"/><circle cx="381.5" cy="396.1" r="0.8"/><circle cx="382.0" cy="395.9" r="0.8"/><circle cx="382.4" cy="396.0" r="0.8"/><circle cx="382.9" cy="396.2" r="0.8"/><circle cx="383.4" cy="396.0" r="0.8"/><circle cx="383.9" cy="396.2" r="0.8"/><circle cx="384.4" cy="395.9" r="0.8"/><circle cx="376.6" cy="397.2" r="0.8"/><circle cx="377.1" cy="396.8" r="0.8"/><circle cx="377.6" cy="397.0" r="0.8"/><circle cx="378.1" cy="396.8" r="0.8"/><circle cx="378.6" cy="397.1" r="0.8"/><circle cx="379.1" cy="397.1" r="0.8"/><circle cx="379.5" cy="397.2" r="0.8"/><circle cx="380.0" cy="397.1" r="0.8"/><circle cx="380.5" cy="397.2" r="0.8"/><circle cx="381.0" cy="397.0" r="0.8"/><circle cx="381.5" cy="397.2" r="0.8"/><circle cx="382.0" cy="397.1" r="0.8"/><circle cx="382.5" cy="396.9" r="0.8"/><circle cx="382.9" cy="397.2" r="0.8"/><circle cx="383.4" cy="397.0" r="0.8"/><circle cx="383.9" cy="396.9" r="0.8"/><circle cx="384.4" cy="396.8" r="0.8"/><circle cx="384.9" cy="397.0" r="0.8"/><circle cx="385.4" cy="396.9" r="0.8"/><circle cx="375.3" cy="398.2" r="0.8"/><circle cx="375.7" cy="398.2" r="0.8"/><circle cx="376.0" cy="397.9" r="0.8"/><circle cx="376.3" cy="397.8" r="0.8"/><circle cx="376.7" cy="398.0" r="0.8"/><circle cx="377.0" cy="397.9" r="0.8"/><circle cx="377.3" cy="398.0" r="0.8"/><circle cx="377.7" cy="398.1" r="0.8"/><circle cx="378.0" cy="397.9" r="0.8"/><circle cx="378.3" cy="398.0" r="0.8"/><circle cx="378.7" cy="398.2" r="0.8"/><circle cx="379.0" cy="398.0" r="0.8"/><circle cx="379.3" cy="397.9" r="0.8"/><circle cx="379.7" cy="398.2" r="0.8"/><circle cx="380.0" cy="398.1" r="0.8"/><circle cx="380.3" cy="398.2" r="0.8"/><circle cx="380.7" cy="398.1" r="0.8"/><circle cx="381.0" cy="398.0" r="0.8"/><circle cx="381.3" cy="398.1" r="0.8"/><circle cx="381.7" cy="398.1" r="0.8"/><circle cx="382.0" cy="398.1" r="0.8"/><circle cx="382.3" cy="397.9" r="0.8"/><circle cx="382.7" cy="397.9" r="0.8"/><circle cx="383.0" cy="398.0" r="0.8"/><circle cx="383.3" cy="398.1" r="0.8"/><circle cx="383.7" cy="398.0" r="0.8"/><circle cx="384.0" cy="398.0" r="0.8"/><circle cx="384.3" cy="398.1" r="0.8"/><circle cx="384.7" cy="397.8" r="0.8"/><circle cx="385.0" cy="398.1" r="0.8"/><circle cx="385.3" cy="397.9" r="0.8"/><circle cx="385.7" cy="398.0" r="0.8"/><circle cx="386.0" cy="398.1" r="0.8"/><circle cx="386.3" cy="397.9" r="0.8"/><circle cx="386.7" cy="398.2" r="0.8"/><circle cx="374.8" cy="398.8" r="0.8"/><circle cx="375.1" cy="399.0" r="0.8"/><circle cx="375.5" cy="399.0" r="0.8"/><circle cx="375.8" cy="398.9" r="0.8"/><circle cx="376.1" cy="399.0" r="0.8"/><circle cx="376.4" cy="399.0" r="0.8"/><circle cx="376.8" cy="399.0" r="0.8"/><circle cx="377.1" cy="399.1" r="0.8"/><circle cx="377.4" cy="398.8" r="0.8"/><circle cx="377.7" cy="399.0" r="0.8"/><circle cx="378.1" cy="399.1" r="0.8"/><circle cx="378.4" cy="398.9" r="0.8"/><circle cx="378.7" cy="399.1" r="0.8"/><circle cx="379.0" cy="398.9" r="0.8"/><circle cx="379.4" cy="399.1" r="0.8"/><circle cx="379.7" cy="398.9" r="0.8"/><circle cx="380.0" cy="399.0" r="0.8"/><circle cx="380.3" cy="399.0" r="0.8"/><circle cx="380.7" cy="398.8" r="0.8"/><circle cx="381.0" cy="399.1" r="0.8"/><circle cx="381.3" cy="399.0" r="0.8"/><circle cx="381.7" cy="399.1" r="0.8"/><circle cx="382.0" cy="399.0" r="0.8"/><circle cx="382.3" cy="399.0" r="0.8"/><circle cx="382.6" cy="399.0" r="0.8"/><circle cx="383.0" cy="398.9" r="0.8"/><circle cx="383.3" cy="399.2" r="0.8"/><circle cx="383.6" cy="398.8" r="0.8"/><circle cx="383.9" cy="399.2" r="0.8"/><circle cx="384.3" cy="399.1" r="0.8"/><circle cx="384.6" cy="399.0" r="0.8"/><circle cx="384.9" cy="399.1" r="0.8"/><circle cx="385.2" cy="399.1" r="0.8"/><circle cx="385.6" cy="399.0" r="0.8"/><circle cx="385.9" cy="398.9" r="0.8"/><circle cx="386.2" cy="398.9" r="0.8"/><circle cx="386.5" cy="398.9" r="0.8"/><circle cx="386.9" cy="398.9" r="0.8"/><circle cx="387.2" cy="399.2" r="0.8"/><circle cx="375.2" cy="399.9" r="0.8"/><circle cx="375.6" cy="400.0" r="0.8"/><circle cx="376.0" cy="400.0" r="0.8"/><circle cx="376.3" cy="400.1" r="0.8"/><circle cx="376.7" cy="400.0" r="0.8"/><circle cx="377.1" cy="400.0" r="0.8"/><circle cx="377.5" cy="399.9" r="0.8"/><circle cx="377.8" cy="399.9" r="0.8"/><circle cx="378.2" cy="399.8" r="0.8"/><circle cx="378.6" cy="399.9" r="0.8"/><circle cx="378.9" cy="399.9" r="0.8"/><circle cx="379.3" cy="400.1" r="0.8"/><circle cx="379.7" cy="400.0" r="0.8"/><circle cx="380.1" cy="399.8" r="0.8"/><circle cx="380.4" cy="400.0" r="0.8"/><circle cx="380.8" cy="399.8" r="0.8"/><circle cx="381.2" cy="400.0" r="0.8"/><circle cx="381.6" cy="400.0" r="0.8"/><circle cx="381.9" cy="400.1" r="0.8"/><circle cx="382.3" cy="399.9" r="0.8"/><circle cx="382.7" cy="400.1" r="0.8"/><circle cx="383.1" cy="399.9" r="0.8"/><circle cx="383.4" cy="400.2" r="0.8"/><circle cx="383.8" cy="400.1" r="0.8"/><circle cx="384.2" cy="399.8" r="0.8"/><circle cx="384.5" cy="400.1" r="0.8"/><circle cx="384.9" cy="399.9" r="0.8"/><circle cx="385.3" cy="399.9" r="0.8"/><circle cx="385.7" cy="399.9" r="0.8"/><circle cx="386.0" cy="400.1" r="0.8"/><circle cx="386.4" cy="399.8" r="0.8"/><circle cx="386.8" cy="400.1" r="0.8"/><circle cx="375.9" cy="401.0" r="0.8"/><circle cx="376.3" cy="401.1" r="0.8"/><circle cx="376.6" cy="400.9" r="0.8"/><circle cx="377.0" cy="400.8" r="0.8"/><circle cx="377.4" cy="401.2" r="0.8"/><circle cx="377.7" cy="401.1" r="0.8"/><circle cx="378.1" cy="400.9" r="0.8"/><circle cx="378.5" cy="401.2" r="0.8"/><circle cx="378.8" cy="401.2" r="0.8"/><circle cx="379.2" cy="400.9" r="0.8"/><circle cx="379.5" cy="400.8" r="0.8"/><circle cx="379.9" cy="401.0" r="0.8"/><circle cx="380.3" cy="400.9" r="0.8"/><circle cx="380.6" cy="401.1" r="0.8"/><circle cx="381.0" cy="401.0" r="0.8"/><circle cx="381.4" cy="401.1" r="0.8"/><circle cx="381.7" cy="401.0" r="0.8"/><circle cx="382.1" cy="401.1" r="0.8"/><circle cx="382.5" cy="401.1" r="0.8"/><circle cx="382.8" cy="401.0" r="0.8"/><circle cx="383.2" cy="401.0" r="0.8"/><circle cx="383.5" cy="400.9" r="0.8"/><circle cx="383.9" cy="400.9" r="0.8"/><circle cx="384.3" cy="400.8" r="0.8"/><circle cx="384.6" cy="401.1" r="0.8"/><circle cx="385.0" cy="400.9" r="0.8"/><circle cx="385.4" cy="401.0" r="0.8"/><circle cx="385.7" cy="400.9" r="0.8"/><circle cx="386.1" cy="401.0" r="0.8"/><circle cx="377.0" cy="402.0" r="0.8"/><circle cx="377.4" cy="402.1" r="0.8"/><circle cx="377.8" cy="402.0" r="0.8"/><circle cx="378.2" cy="401.9" r="0.8"/><circle cx="378.7" cy="402.1" r="0.8"/><circle cx="379.1" cy="402.1" r="0.8"/><circle cx="379.5" cy="402.2" r="0.8"/><circle cx="379.9" cy="401.9" r="0.8"/><circle cx="380.4" cy="402.2" r="0.8"/><circle cx="380.8" cy="402.2" r="0.8"/><circle cx="381.2" cy="402.2" r="0.8"/><circle cx="381.6" cy="401.9" r="0.8"/><circle cx="382.1" cy="402.0" r="0.8"/><circle cx="382.5" cy="402.1" r="0.8"/><circle cx="382.9" cy="402.1" r="0.8"/><circle cx="383.3" cy="401.8" r="0.8"/><circle cx="383.8" cy="402.0" r="0.8"/><circle cx="384.2" cy="402.1" r="0.8"/><circle cx="384.6" cy="402.1" r="0.8"/><circle cx="385.0" cy="402.0" r="0.8"/><circle cx="378.3" cy="402.9" r="0.8"/><circle cx="378.9" cy="403.0" r="0.8"/><circle cx="379.5" cy="402.8" r="0.8"/><circle cx="380.1" cy="402.9" r="0.8"/><circle cx="380.7" cy="403.0" r="0.8"/><circle cx="381.3" cy="403.1" r="0.8"/><circle cx="381.9" cy="403.0" r="0.8"/><circle cx="382.5" cy="403.0" r="0.8"/><circle cx="383.1" cy="402.9" r="0.8"/><circle cx="383.7" cy="402.9" r="0.8"/><circle cx="379.6" cy="404.1" r="0.8"/><circle cx="380.5" cy="404.0" r="0.8"/><circle cx="381.5" cy="403.9" r="0.8"/><circle cx="382.4" cy="404.1" r="0.8"/></g>
<g fill="#b3197f" opacity="1.0"><circle cx="399.3" cy="332.1" r="0.8"/><circle cx="398.7" cy="335.1" r="0.8"/><circle cx="399.9" cy="334.9" r="0.8"/><circle cx="399.3" cy="336.2" r="0.8"/><circle cx="397.6" cy="336.9" r="0.8"/><circle cx="398.7" cy="337.1" r="0.8"/><circle cx="399.9" cy="336.8" r="0.8"/><circle cx="401.0" cy="337.1" r="0.8"/><circle cx="398.7" cy="337.9" r="0.8"/><circle cx="399.9" cy="338.1" r="0.8"/><circle cx="398.2" cy="339.1" r="0.8"/><circle cx="399.3" cy="339.1" r="0.8"/><circle cx="400.4" cy="339.0" r="0.8"/><circle cx="398.2" cy="340.1" r="0.8"/><circle cx="399.3" cy="340.2" r="0.8"/><circle cx="400.4" cy="339.8" r="0.8"/><circle cx="398.2" cy="341.0" r="0.8"/><circle cx="399.3" cy="341.2" r="0.8"/><circle cx="400.4" cy="341.1" r="0.8"/><circle cx="396.5" cy="342.0" r="0.8"/><circle cx="397.6" cy="341.9" r="0.8"/><circle cx="398.7" cy="342.2" r="0.8"/><circle cx="399.9" cy="341.8" r="0.8"/><circle cx="401.0" cy="342.1" r="0.8"/><circle cx="402.1" cy="342.1" r="0.8"/><circle cx="397.6" cy="342.9" r="0.8"/><circle cx="398.7" cy="342.9" r="0.8"/><circle cx="399.9" cy="342.9" r="0.8"/><circle cx="401.0" cy="343.0" r="0.8"/><circle cx="397.0" cy="343.9" r="0.8"/><circle cx="398.2" cy="344.2" r="0.8"/><circle cx="399.3" cy="344.2" r="0.8"/><circle cx="400.4" cy="343.9" r="0.8"/><circle cx="401.6" cy="344.2" r="0.8"/><circle cx="395.3" cy="344.8" r="0.8"/><circle cx="396.2" cy="344.8" r="0.8"/><circle cx="397.1" cy="345.1" r="0.8"/><circle cx="398.0" cy="345.1" r="0.8"/><circle cx="398.9" cy="345.1" r="0.8"/><circle cx="399.7" cy="345.2" r="0.8"/><circle cx="400.6" cy="345.1" r="0.8"/><circle cx="401.5" cy="344.9" r="0.8"/><circle cx="402.4" cy="345.1" r="0.8"/><circle cx="403.3" cy="345.2" r="0.8"/><circle cx="396.4" cy="345.8" r="0.8"/><circle cx="397.6" cy="346.0" r="0.8"/><circle cx="398.7" cy="345.9" r="0.8"/><circle cx="399.9" cy="345.9" r="0.8"/><circle cx="401.0" cy="346.0" r="0.8"/><circle cx="402.2" cy="346.1" r="0.8"/><circle cx="395.9" cy="347.2" r="0.8"/><circle cx="397.0" cy="346.9" r="0.8"/><circle cx="398.2" cy="347.0" r="0.8"/><circle cx="399.3" cy="347.2" r="0.8"/><circle cx="400.4" cy="347.1" r="0.8"/><circle cx="401.6" cy="347.0" r="0.8"/><circle cx="402.8" cy="346.9" r="0.8"/><circle cx="394.4" cy="348.1" r="0.8"/><circle cx="395.2" cy="347.9" r="0.8"/><circle cx="396.0" cy="348.1" r="0.8"/><circle cx="396.8" cy="348.1" r="0.8"/><circle cx="397.7" cy="348.0" r="0.8"/><circle cx="398.5" cy="348.1" r="0.8"/><circle cx="399.3" cy="348.0" r="0.8"/><circle cx="400.1" cy="348.0" r="0.8"/><circle cx="400.9" cy="348.1" r="0.8"/><circle cx="401.8" cy="347.9" r="0.8"/><circle cx="402.6" cy="347.9" r="0.8"/><circle cx="403.4" cy="348.0" r="0.8"/><circle cx="404.2" cy="348.0" r="0.8"/><circle cx="394.7" cy="349.1" r="0.8"/><circle cx="395.9" cy="348.9" r="0.8"/><circle cx="397.0" cy="348.9" r="0.8"/><circle cx="398.2" cy="348.8" r="0.8"/><circle cx="399.3" cy="349.0" r="0.8"/><circle cx="400.4" cy="348.9" r="0.8"/><circle cx="401.6" cy="349.0" r="0.8"/><circle cx="402.8" cy="349.1" r="0.8"/><circle cx="403.9" cy="348.8" r="0.8"/><circle cx="395.3" cy="350.2" r="0.8"/><circle cx="396.4" cy="350.1" r="0.8"/><circle cx="397.6" cy="350.1" r="0.8"/><circle cx="398.7" cy="350.0" r="0.8"/><circle cx="399.9" cy="350.0" r="0.8"/><circle cx="401.0" cy="350.0" r="0.8"/><circle cx="402.2" cy="350.0" r="0.8"/><circle cx="403.3" cy="349.9" r="0.8"/><circle cx="394.6" cy="350.9" r="0.8"/><circle cx="395.5" cy="350.9" r="0.8"/><circle cx="396.3" cy="350.9" r="0.8"/><circle cx="397.2" cy="351.2" r="0.8"/><circle cx="398.0" cy="351.1" r="0.8"/><circle cx="398.9" cy="351.1" r="0.8"/><circle cx="399.7" cy="350.8" r="0.8"/><circle cx="400.6" cy="350.9" r="0.8"/><circle cx="401.4" cy="351.0" r="0.8"/><circle cx="402.3" cy="351.1" r="0.8"/><circle cx="403.1" cy="351.0" r="0.8"/><circle cx="404.0" cy="351.1" r="0.8"/><circle cx="395.9" cy="352.2" r="0.8"/><circle cx="397.0" cy="351.9" r="0.8"/><circle cx="398.2" cy="352.0" r="0.8"/><circle cx="399.3" cy="352.1" r="0.8"/><circle cx="400.4" cy="351.9" r="0.8"/><circle cx="401.6" cy="352.1" r="0.8"/><circle cx="402.8" cy="352.0" r="0.8"/><circle cx="393.7" cy="352.8" r="0.8"/><circle cx="394.5" cy="353.0" r="0.8"/><circle cx="395.2" cy="352.8" r="0.8"/><circle cx="396.0" cy="353.1" r="0.8"/><circle cx="396.7" cy="353.1" r="0.8"/><circle cx="397.4" cy="353.0" r="0.8"/><circle cx="398.2" cy="353.2" r="0.8"/><circle cx="398.9" cy="352.9" r="0.8"/><circle cx="399.7" cy="353.0" r="0.8"/><circle cx="400.4" cy="352.9" r="0.8"/><circle cx="401.2" cy="352.8" r="0.8"/><circle cx="401.9" cy="353.1" r="0.8"/><circle cx="402.6" cy="352.8" r="0.8"/><circle cx="403.4" cy="353.2" r="0.8"/><circle cx="404.1" cy="353.0" r="0.8"/><circle cx="404.9" cy="353.1" r="0.8"/><circle cx="393.7" cy="353.8" r="0.8"/><circle cx="394.8" cy="354.2" r="0.8"/><circle cx="395.9" cy="354.1" r="0.8"/><circle cx="397.0" cy="353.8" r="0.8"/><circle cx="398.2" cy="353.9" r="0.8"/><circle cx="399.3" cy="353.9" r="0.8"/><circle cx="400.4" cy="354.0" r="0.8"/><circle cx="401.6" cy="353.8" r="0.8"/><circle cx="402.7" cy="354.1" r="0.8"/><circle cx="403.8" cy="354.0" r="0.8"/><circle cx="404.9" cy="354.1" r="0.8"/><circle cx="394.0" cy="354.9" r="0.8"/><circle cx="394.9" cy="355.1" r="0.8"/><circle cx="395.7" cy="355.0" r="0.8"/><circle cx="396.6" cy="355.1" r="0.8"/><circle cx="397.5" cy="355.0" r="0.8"/><circle cx="398.4" cy="355.2" r="0.8"/><circle cx="399.3" cy="355.1" r="0.8"/><circle cx="400.2" cy="355.1" r="0.8"/><circle cx="401.1" cy="354.9" r="0.8"/><circle cx="402.0" cy="354.9" r="0.8"/><circle cx="402.9" cy="354.9" r="0.8"/><circle cx="403.7" cy="354.9" r="0.8"/><circle cx="404.6" cy="355.2" r="0.8"/><circle cx="394.1" cy="355.9" r="0.8"/><circle cx="395.3" cy="356.1" r="0.8"/><circle cx="396.4" cy="355.9" r="0.8"/><circle cx="397.6" cy="356.0" r="0.8"/><circle cx="398.7" cy="355.9" r="0.8"/><circle cx="399.9" cy="355.9" r="0.8"/><circle cx="401.0" cy="356.1" r="0.8"/><circle cx="402.2" cy="356.0" r="0.8"/><circle cx="403.3" cy="356.2" r="0.8"/><circle cx="404.5" cy="355.9" r="0.8"/><circle cx="394.1" cy="356.9" r="0.8"/><circle cx="394.9" cy="356.8" r="0.8"/><circle cx="395.8" cy="356.9" r="0.8"/><circle cx="396.7" cy="357.2" r="0.8"/><circle cx="397.6" cy="357.0" r="0.8"/><circle cx="398.4" cy="357.0" r="0.8"/><circle cx="399.3" cy="356.9" r="0.8"/><circle cx="400.2" cy="357.1" r="0.8"/><circle cx="401.0" cy="357.1" r="0.8"/><circle cx="401.9" cy="356.9" r="0.8"/><circle cx="402.8" cy="356.8" r="0.8"/><circle cx="403.7" cy="356.9" r="0.8"/><circle cx="404.5" cy="357.1" r="0.8"/><circle cx="394.3" cy="358.1" r="0.8"/><circle cx="395.4" cy="357.9" r="0.8"/><circle cx="396.5" cy="357.9" r="0.8"/><circle cx="397.6" cy="357.9" r="0.8"/><circle cx="398.7" cy="358.1" r="0.8"/><circle cx="399.9" cy="358.1" r="0.8"/><circle cx="401.0" cy="357.9" r="0.8"/><circle cx="402.1" cy="357.9" r="0.8"/><circle cx="403.2" cy="357.9" r="0.8"/><circle cx="404.3" cy="358.2" r="0.8"/><circle cx="394.8" cy="359.0" r="0.8"/><circle cx="395.8" cy="359.2" r="0.8"/><circle cx="396.8" cy="358.9" r="0.8"/><circle cx="397.8" cy="359.1" r="0.8"/><circle cx="398.8" cy="359.0" r="0.8"/><circle cx="399.8" cy="359.2" r="0.8"/><circle cx="400.8" cy="358.9" r="0.8"/><circle cx="401.8" cy="358.9" r="0.8"/><circle cx="402.8" cy="359.1" r="0.8"/><circle cx="403.8" cy="359.2" r="0.8"/><circle cx="395.9" cy="360.0" r="0.8"/><circle cx="397.0" cy="359.9" r="0.8"/><circle cx="398.2" cy="359.8" r="0.8"/><circle cx="399.3" cy="360.0" r="0.8"/><circle cx="400.4" cy="360.2" r="0.8"/><circle cx="401.6" cy="359.9" r="0.8"/><circle cx="402.8" cy="360.0" r="0.8"/><circle cx="395.3" cy="361.0" r="0.8"/><circle cx="396.5" cy="360.9" r="0.8"/><circle cx="397.6" cy="360.8" r="0.8"/><circle cx="398.7" cy="361.0" r="0.8"/><circle cx="399.9" cy="361.2" r="0.8"/><circle cx="401.0" cy="361.1" r="0.8"/><circle cx="402.1" cy="360.9" r="0.8"/><circle cx="403.3" cy="361.1" r="0.8"/><circle cx="395.3" cy="362.1" r="0.8"/><circle cx="396.5" cy="362.0" r="0.8"/><circle cx="397.6" cy="361.9" r="0.8"/><circle cx="398.7" cy="361.9" r="0.8"/><circle cx="399.9" cy="362.1" r="0.8"/><circle cx="401.0" cy="362.1" r="0.8"/><circle cx="402.1" cy="361.9" r="0.8"/><circle cx="403.3" cy="361.9" r="0.8"/><circle cx="395.9" cy="362.8" r="0.8"/><circle cx="397.0" cy="363.1" r="0.8"/><circle cx="398.2" cy="363.2" r="0.8"/><circle cx="399.3" cy="363.0" r="0.8"/><circle cx="400.4" cy="363.0" r="0.8"/><circle cx="401.6" cy="363.1" r="0.8"/><circle cx="402.8" cy="362.9" r="0.8"/><circle cx="396.4" cy="364.0" r="0.8"/><circle cx="397.6" cy="364.0" r="0.8"/><circle cx="398.7" cy="364.1" r="0.8"/><circle cx="399.9" cy="363.9" r="0.8"/><circle cx="401.0" cy="364.1" r="0.8"/><circle cx="402.2" cy="363.9" r="0.8"/><circle cx="396.1" cy="365.0" r="0.8"/><circle cx="397.1" cy="365.2" r="0.8"/><circle cx="398.2" cy="364.8" r="0.8"/><circle cx="399.3" cy="365.0" r="0.8"/><circle cx="400.4" cy="364.8" r="0.8"/><circle cx="401.5" cy="365.0" r="0.8"/><circle cx="402.5" cy="365.0" r="0.8"/><circle cx="398.2" cy="366.2" r="0.8"/><circle cx="399.3" cy="366.0" r="0.8"/><circle cx="400.4" cy="366.2" r="0.8"/><circle cx="398.2" cy="367.1" r="0.8"/><circle cx="399.3" cy="367.1" r="0.8"/><circle cx="400.4" cy="366.9" r="0.8"/><circle cx="397.0" cy="367.8" r="0.8"/><circle cx="398.2" cy="368.1" r="0.8"/><circle cx="399.3" cy="367.8" r="0.8"/><circle cx="400.4" cy="368.1" r="0.8"/><circle cx="401.6" cy="367.9" r="0.8"/><circle cx="397.0" cy="369.0" r="0.8"/><circle cx="398.2" cy="369.1" r="0.8"/><circle cx="399.3" cy="369.2" r="0.8"/><circle cx="400.4" cy="368.9" r="0.8"/><circle cx="401.6" cy="368.9" r="0.8"/><circle cx="397.0" cy="370.0" r="0.8"/><circle cx="398.2" cy="370.2" r="0.8"/><circle cx="399.3" cy="369.9" r="0.8"/><circle cx="400.4" cy="370.0" r="0.8"/><circle cx="401.6" cy="370.0" r="0.8"/><circle cx="399.3" cy="370.8" r="0.8"/><circle cx="399.3" cy="372.0" r="0.8"/><circle cx="399.3" cy="373.9" r="0.8"/><circle cx="399.3" cy="376.0" r="0.8"/><circle cx="399.3" cy="377.1" r="0.8"/><circle cx="399.3" cy="378.1" r="0.8"/><circle cx="399.3" cy="378.9" r="0.8"/><circle cx="397.1" cy="381.1" r="0.8"/><circle cx="398.0" cy="381.0" r="0.8"/><circle cx="398.9" cy="381.1" r="0.8"/><circle cx="399.7" cy="380.8" r="0.8"/><circle cx="400.6" cy="380.9" r="0.8"/><circle cx="401.5" cy="381.1" r="0.8"/><circle cx="399.3" cy="382.0" r="0.8"/><circle cx="399.3" cy="384.0" r="0.8"/><circle cx="399.3" cy="385.0" r="0.8"/><circle cx="398.7" cy="387.0" r="0.8"/><circle cx="399.9" cy="387.1" r="0.8"/><circle cx="399.3" cy="389.1" r="0.8"/><circle cx="399.3" cy="390.1" r="0.8"/><circle cx="399.3" cy="391.2" r="0.8"/><circle cx="399.3" cy="392.0" r="0.8"/><circle cx="398.7" cy="392.9" r="0.8"/><circle cx="399.9" cy="392.9" r="0.8"/><circle cx="399.3" cy="400.1" r="0.8"/></g>
<line x1="344.40" y1="403.26" x2="344.40" y2="397.12" stroke="#0a0a0a" stroke-width="0.9" />
<line x1="338.20" y1="400.28" x2="350.60" y2="400.28" stroke="#0a0a0a" stroke-width="1.3" />
<line x1="341.40" y1="403.26" x2="347.40" y2="403.26" stroke="#0a0a0a" stroke-width="0.9" />
<line x1="341.40" y1="397.12" x2="347.40" y2="397.12" stroke="#0a0a0a" stroke-width="0.9" />
<line x1="362.60" y1="369.22" x2="362.60" y2="346.34" stroke="#0a0a0a" stroke-width="0.9" />
<line x1="356.40" y1="357.87" x2="368.80" y2="357.87" stroke="#0a0a0a" stroke-width="1.3" />
<line x1="359.60" y1="369.22" x2="365.60" y2="369.22" stroke="#0a0a0a" stroke-width="0.9" />
<line x1="359.60" y1="346.34" x2="365.60" y2="346.34" stroke="#0a0a0a" stroke-width="0.9" />
<line x1="381.00" y1="403.63" x2="381.00" y2="390.24" stroke="#0a0a0a" stroke-width="0.9" />
<line x1="374.80" y1="396.93" x2="387.20" y2="396.93" stroke="#0a0a0a" stroke-width="1.3" />
<line x1="378.00" y1="403.63" x2="384.00" y2="403.63" stroke="#0a0a0a" stroke-width="0.9" />
<line x1="378.00" y1="390.24" x2="384.00" y2="390.24" stroke="#0a0a0a" stroke-width="0.9" />
<line x1="399.30" y1="367.73" x2="399.30" y2="344.11" stroke="#0a0a0a" stroke-width="0.9" />
<line x1="393.10" y1="356.20" x2="405.50" y2="356.20" stroke="#0a0a0a" stroke-width="1.3" />
<line x1="396.30" y1="367.73" x2="402.30" y2="367.73" stroke="#0a0a0a" stroke-width="0.9" />
<line x1="396.30" y1="344.11" x2="402.30" y2="344.11" stroke="#0a0a0a" stroke-width="0.9" />
<path d="M342.80 332.60 V326.20 H383.10 V332.60" fill="none" stroke="#111" stroke-width="1.8" stroke-linejoin="miter"/>
<text x="362.95" y="326.00" font-size="15.5" text-anchor="middle" fill="#222" font-weight="bold" textLength="10.80" lengthAdjust="spacingAndGlyphs" >**</text>
<path d="M363.90 310.70 V304.60 H400.30 V310.70" fill="none" stroke="#111" stroke-width="1.8" stroke-linejoin="miter"/>
<text x="382.10" y="299.40" font-size="8.0" text-anchor="middle" fill="#222" stroke="#222" stroke-width="0.18" >ns</text>
<text x="410.60" y="447.80" font-size="8.0" text-anchor="start" fill="#222" stroke="#222" stroke-width="0.18" >dyn/cm</text>
<text x="436.20" y="445.00" font-size="5.2" text-anchor="start" fill="#222" >2</text>
<text x="410.90" y="459.60" font-size="8.0" text-anchor="start" fill="#222" stroke="#222" stroke-width="0.18" >µM</text>
<text x="411.00" y="476.40" font-size="8.0" text-anchor="start" fill="#222" stroke="#222" stroke-width="0.18" >pg/ml</text>
<text x="354.80" y="459.60" font-size="8.0" text-anchor="middle" fill="#222" stroke="#222" stroke-width="0.18" >0</text>
<text x="391.10" y="459.60" font-size="8.0" text-anchor="middle" fill="#222" stroke="#222" stroke-width="0.18" >10</text>
<line x1="339.50" y1="465.50" x2="370.00" y2="465.50" stroke="#111" stroke-width="1.6" />
<line x1="375.50" y1="465.50" x2="406.80" y2="465.50" stroke="#111" stroke-width="1.6" />
<text x="372.70" y="476.40" font-size="8.0" text-anchor="middle" fill="#222" stroke="#222" stroke-width="0.18" >1</text>
<line x1="339.50" y1="481.70" x2="406.80" y2="481.70" stroke="#111" stroke-width="1.6" />
<text x="345.30" y="493.40" font-size="8.0" text-anchor="middle" fill="#222" stroke="#222" stroke-width="0.18" >234</text>
<text x="362.60" y="493.40" font-size="8.0" text-anchor="middle" fill="#222" stroke="#222" stroke-width="0.18" >237</text>
<text x="380.90" y="493.40" font-size="8.0" text-anchor="middle" fill="#222" stroke="#222" stroke-width="0.18" >253</text>
<text x="400.60" y="493.40" font-size="8.0" text-anchor="middle" fill="#222" stroke="#222" stroke-width="0.18" >278</text>
</svg>
</body></html>
